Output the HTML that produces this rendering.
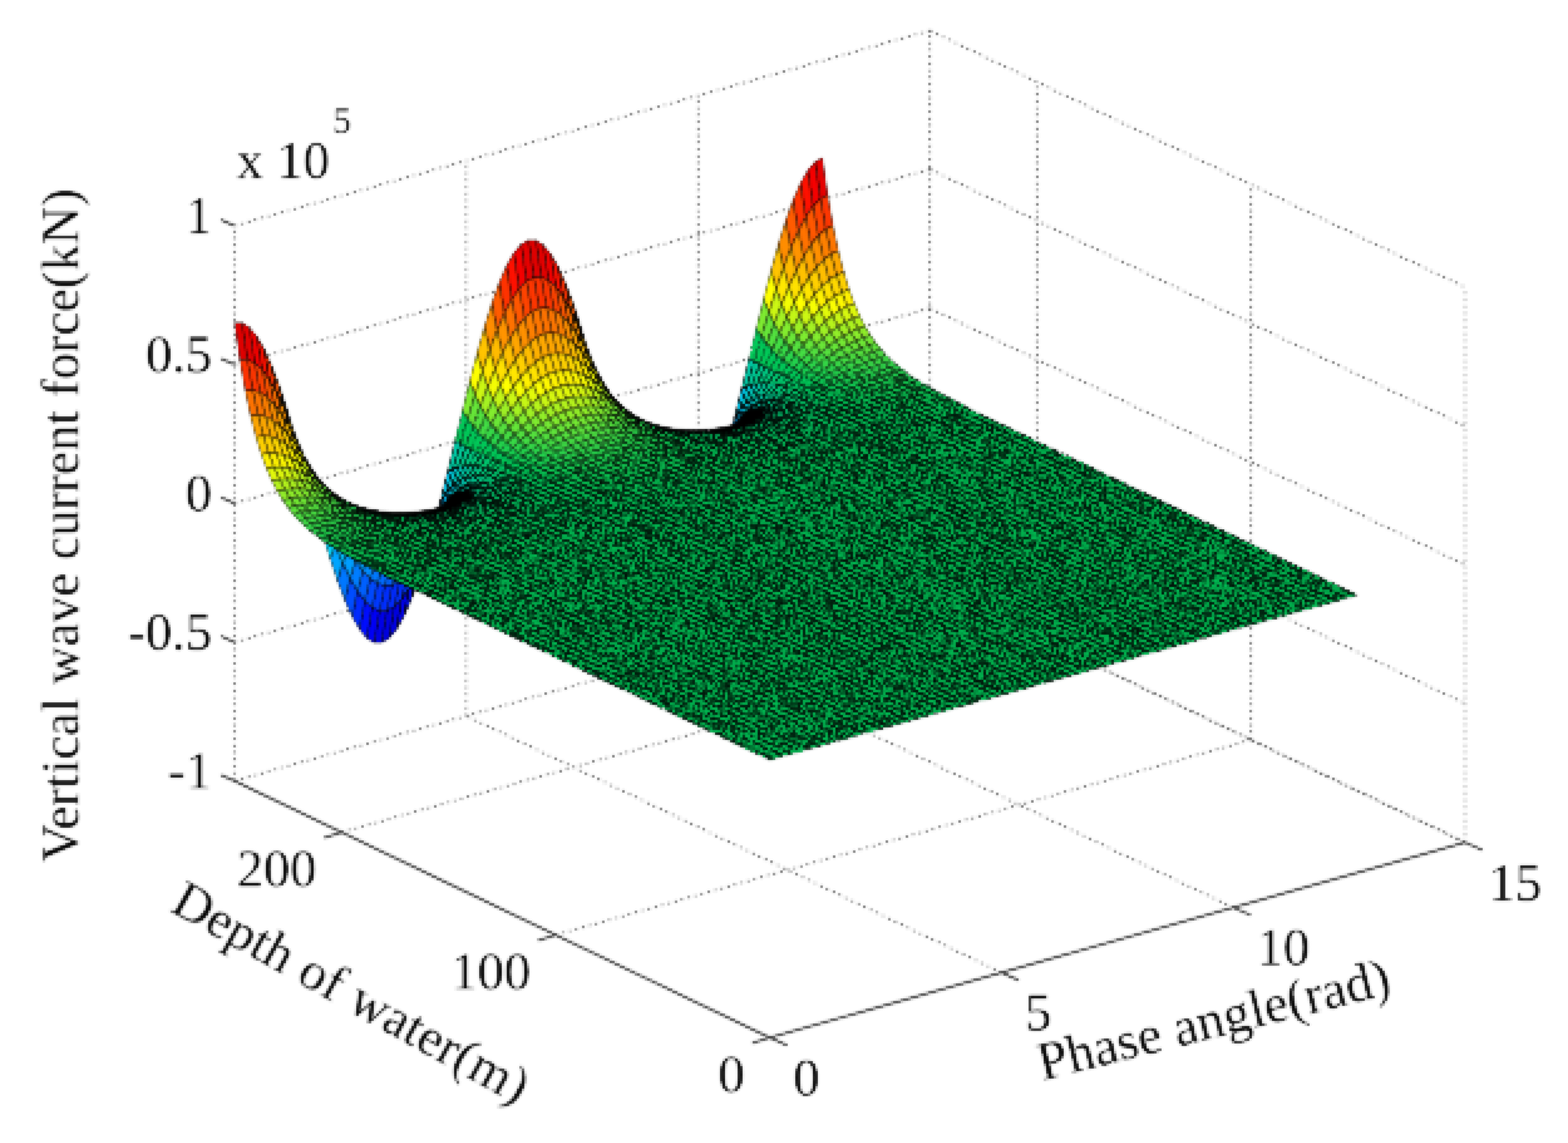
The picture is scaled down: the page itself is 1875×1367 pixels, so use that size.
<!DOCTYPE html>
<html lang="en"><head><meta charset="utf-8"><title>Vertical wave current force surface</title>
<style>html,body{margin:0;padding:0;background:#fff}body{width:1875px;height:1367px;overflow:hidden}svg{display:block}text{font-family:"Liberation Serif","DejaVu Serif",serif;fill:#000;stroke:#fff;stroke-width:0.4px}</style></head><body>
<svg width="1875" height="1367" viewBox="0 0 1875 1367">
<defs>
<filter id="px" filterUnits="userSpaceOnUse" x="0" y="0" width="1875" height="1367" color-interpolation-filters="sRGB"><feFlood x="1" y="1" width="1" height="1" flood-color="#000"/><feComposite width="3" height="3"/><feTile result="t"/><feComposite in="SourceGraphic" in2="t" operator="in"/><feMorphology operator="dilate" radius="1" result="p"/><feGaussianBlur in="p" stdDeviation="1" result="q"/><feComposite in="p" in2="q" operator="arithmetic" k1="0" k2="0.6" k3="0.4" k4="0"/></filter>
<filter id="bt" filterUnits="userSpaceOnUse" x="0" y="0" width="1875" height="1367" color-interpolation-filters="sRGB"><feGaussianBlur stdDeviation="0.9" result="b"/><feComposite in="SourceGraphic" in2="b" operator="arithmetic" k1="0" k2="0.45" k3="0.55" k4="0"/></filter>
<filter id="bs" filterUnits="userSpaceOnUse" x="270" y="178" width="1364" height="741" color-interpolation-filters="sRGB"><feGaussianBlur stdDeviation="1" result="b"/><feComposite in="SourceGraphic" in2="b" operator="arithmetic" k1="0" k2="0.62" k3="0.38" k4="0"/></filter>
<filter id="jit" filterUnits="userSpaceOnUse" x="270" y="178" width="1364" height="741" color-interpolation-filters="sRGB"><feGaussianBlur in="SourceGraphic" stdDeviation="5"/><feColorMatrix type="matrix" values="-4 1.8 -4 0 1  -4 1.8 -4 0 1  -4 1.8 -4 0 1  0 0 0 0 1" result="m"/><feTurbulence type="fractalNoise" baseFrequency="0.7" numOctaves="1" seed="7"/><feColorMatrix type="matrix" values="0.963 0.216 0 0 -0.089  -0.27 0.77 0 0 0.25  0 0 1 0 0  0 0 0 0 1" result="n"/><feComposite in="n" in2="m" operator="arithmetic" k1="1" k2="0" k3="-0.5" k4="0.5" result="d"/><feDisplacementMap in="SourceGraphic" in2="d" scale="9.0" xChannelSelector="R" yChannelSelector="G"/></filter>
<clipPath id="sil"><path d="M316.4 416.9L307.5 401.6L298.6 390.9L289.5 385.3L280.5 385L279.8 385.3L279.7 386L286.1 430.8L292.5 467.6L298.9 497.8L305.3 522.9L311.7 543.7L318.1 561.1L324.5 575.7L331 588.1L337.4 598.7L343.8 607.9L350.3 615.9L356.7 622.9L363.1 629.2L376 640.1L387.9 648.6L393.9 668.3L402.7 694.8L411.5 718.2L420.3 737.8L429.1 753.1L438.1 763.8L447.2 769.4L456.2 769.6L465.6 764.3L474.5 753.8L483.3 738.3L492.1 718L496.3 706.4L920.3 909.8L1623.6 712.5L1624.2 711.9L1623.7 711L1163.4 490.1L1162.9 489.4L1124.6 469.6L1105.4 458.6L1086.2 446.2L1073.5 436.3L1060.8 424.5L1054.4 417.5L1048 409.6L1041.7 400.5L1035.3 390L1028.9 377.7L1022.5 363.1L1016.1 345.8L1009.8 325.1L1003.4 300.2L997 269.9L990.6 233.2L984.2 188.4L983.5 187.7L974 193.1L965.1 203.7L956.2 219.2L947.4 239.4L938.6 263.9L929.8 292.2L921 323.6L912.3 357.4L875.3 508L860.3 511.3L842.8 513.3L834.1 513.7L819 513.6L801.5 511.4L795.1 510.3L780 506.1L771.3 502.5L765 499.4L756.3 494.4L743.6 484.3L735.3 476L728.5 467.1L722.1 457.3L715.8 445.9L709.4 432.5L702 413.4L694.2 387.7L685.4 361.2L676.6 337.9L667.8 318.2L659 302.9L650.1 292.3L640.8 286.6L631.7 286.4L622.5 291.8L613.6 302.3L604.8 317.8L596 338.1L587.2 362.6L578.4 390.9L569.6 422.3L560.8 456.1L523.8 606.7L508.9 610L491.4 612L482.7 612.4L467.6 612.2L450.1 610.1L443.7 608.9L428.6 604.7L419.9 601.1L413.5 598.1L404.8 593.1L392.1 583L383.9 574.7L377.1 565.7L370.7 556L364.3 544.5L358 531.1L350.6 512.1L342.8 486.4L334 459.9L325.2 436.5z"/></clipPath>
</defs>
<rect width="1875" height="1367" fill="#fff"/>
<g filter="url(#px)">
<rect width="1875" height="1367" fill="#fff"/>
<g filter="url(#bt)"><path d="M280.5 934L1112 700.6M280.5 768L1112 534.6M280.5 602L1112 368.6M280.5 436L1112 202.6M280.5 270L1112 36.6M280.5 934L280.5 270M557.7 856.2L557.7 192.2M834.8 778.4L834.8 114.4M1112 700.6L1112 36.6M1112 700.6L1752 1007.6M1112 534.6L1752 841.6M1112 368.6L1752 675.6M1112 202.6L1752 509.6M1112 36.6L1752 343.6M1752 1007.6L1752 343.6M1496 884.8L1496 220.8M1240 762L1240 98M1197.7 1163.2L557.7 856.2M1474.8 1085.4L834.8 778.4M1752 1007.6L1112 700.6M664.5 1118.2L1496 884.8M408.5 995.4L1240 762M280.5 934L1112 700.6" fill="none" stroke="#4c4c4c" stroke-width="2.2" stroke-dasharray="2.6 5.6"/></g>
<g filter="url(#bs)"><g clip-path="url(#sil)"><g filter="url(#jit)">
<g stroke="#000" stroke-linejoin="round">
<path fill="#e70000" stroke-width="2.5" stroke-opacity="0.42" d="M981 238l8.8 -4.6l-6.4 -44.8l-8.8 5.1z"/>
<path fill="#f60000" stroke-width="2.5" stroke-opacity="0.42" d="M972.2 246.8l8.8 -8.8l-6.4 -44.3l-8.8 10.4z"/>
<path fill="#ff1000" stroke-width="2.5" stroke-opacity="0.42" d="M963.4 259.8l8.8 -13l-6.4 -42.7l-8.8 15.4z"/>
<path fill="#ff3200" stroke-width="2.5" stroke-opacity="0.42" d="M954.6 276.5l8.8 -16.7l-6.4 -40.3l-8.8 20.2z"/>
<path fill="#ff5b00" stroke-width="2.5" stroke-opacity="0.42" d="M945.8 296.8l8.8 -20.3l-6.4 -36.8l-8.8 24.5z"/>
<path fill="#ff8d00" stroke-width="2.5" stroke-opacity="0.42" d="M937 320.1l8.8 -23.3l-6.4 -32.6l-8.8 28.3z"/>
<path fill="#ffc400" stroke-width="2.5" stroke-opacity="0.42" d="M928.3 345.9l8.7 -25.8l-6.4 -27.6l-8.7 31.3z"/>
<path fill="#feff00" stroke-width="2.5" stroke-opacity="0.42" d="M919.5 373.6l8.8 -27.7l-6.4 -22.1l-8.8 33.8z"/>
<path fill="#7eec30" stroke-width="2.5" stroke-opacity="0.42" d="M910.7 402.7l8.8 -29.1l-6.4 -16l-8.8 35.5z"/>
<path fill="#00cd5a" stroke-width="2.5" stroke-opacity="0.42" d="M901.9 432.4l8.8 -29.7l-6.4 -9.6l-8.8 36.3z"/>
<path fill="#00d2ad" stroke-width="2.08" stroke-opacity="0.71" d="M893.1 462.2l8.8 -29.8l-6.4 -3l-8.8 36.2z"/>
<path fill="#00d7ff" stroke-width="1.65" stroke-opacity="1" d="M884.3 491.3l8.8 -29.1l-6.4 3.4l-8.8 35.5z"/>
<path fill="#00a5ff" stroke-width="2.2" stroke-opacity="1" d="M875.5 519l8.8 -27.7l-6.4 9.8l-8.8 33.8z"/>
<path fill="#07f" stroke-width="2.2" stroke-opacity="1" d="M866.8 544.8l8.7 -25.8l-6.4 15.9l-8.7 31.4z"/>
<path fill="#004dff" stroke-width="2.2" stroke-opacity="1" d="M858 568.1l8.8 -23.3l-6.4 21.5l-8.8 28.2z"/>
<path fill="#002aff" stroke-width="1.65" stroke-opacity="1" d="M849.2 588.3l8.8 -20.2l-6.4 26.4l-8.8 24.5z"/>
<path fill="#000dff" stroke-width="1.86" stroke-opacity="0.85" d="M840.4 605.1l8.8 -16.8l-6.4 30.7l-8.8 20.2z"/>
<path fill="#0000f7" stroke-width="2.08" stroke-opacity="0.71" d="M831.6 618l8.8 -12.9l-6.4 34.1l-8.8 15.4z"/>
<path fill="#0000ea" stroke-width="2.29" stroke-opacity="0.56" d="M822.8 626.9l8.8 -8.9l-6.4 36.6l-8.8 10.4z"/>
<path fill="#0000e5" stroke-width="2.5" stroke-opacity="0.42" d="M814 631.5l8.8 -4.6l-6.4 38.1l-8.8 5.2z"/>
<path fill="#0000ea" stroke-width="2.5" stroke-opacity="0.42" d="M805.3 631.8l8.7 -.3l-6.4 38.7l-8.7 -.2z"/>
<path fill="#0000f7" stroke-width="2.5" stroke-opacity="0.42" d="M796.5 627.9l8.8 3.9l-6.4 38.2l-8.8 -5.5z"/>
<path fill="#000dff" stroke-width="2.5" stroke-opacity="0.42" d="M787.7 619.9l8.8 8l-6.4 36.6l-8.8 -10.5z"/>
<path fill="#002aff" stroke-width="2.5" stroke-opacity="0.42" d="M778.9 608.1l8.8 11.8l-6.4 34.1l-8.8 -15.3z"/>
<path fill="#004dff" stroke-width="2.5" stroke-opacity="0.42" d="M770.1 592.7l8.8 15.4l-6.4 30.6l-8.8 -19.5z"/>
<path fill="#07f" stroke-width="2.5" stroke-opacity="0.42" d="M761.3 574.4l8.8 18.3l-6.4 26.5l-8.8 -23.3z"/>
<path fill="#00a5ff" stroke-width="2.5" stroke-opacity="0.42" d="M752.5 553.5l8.8 20.9l-6.4 21.5l-8.8 -26.5z"/>
<path fill="#00d7ff" stroke-width="2.5" stroke-opacity="0.42" d="M743.8 530.7l8.7 22.8l-6.4 15.9l-8.7 -28.9z"/>
<path fill="#00d2ad" stroke-width="2.5" stroke-opacity="0.42" d="M735 506.6l8.8 24.1l-6.4 9.8l-8.8 -30.5z"/>
<path fill="#00cd5a" stroke-width="2.08" stroke-opacity="0.71" d="M726.2 481.8l8.8 24.8l-6.4 3.4l-8.8 -31.3z"/>
<path fill="#7eec30" stroke-width="1.65" stroke-opacity="1" d="M717.4 456.9l8.8 24.9l-6.4 -3.1l-8.8 -31.4z"/>
<path fill="#feff00" stroke-width="2.2" stroke-opacity="1" d="M708.6 432.8l8.8 24.1l-6.4 -9.6l-8.8 -30.5z"/>
<path fill="#ffc400" stroke-width="2.2" stroke-opacity="1" d="M699.8 410l8.8 22.8l-6.4 -16l-8.8 -28.8z"/>
<path fill="#ff8d00" stroke-width="2.2" stroke-opacity="1" d="M691 389.1l8.8 20.9l-6.4 -22l-8.8 -26.5z"/>
<path fill="#ff5b00" stroke-width="1.65" stroke-opacity="1" d="M682.3 370.8l8.7 18.3l-6.4 -27.6l-8.7 -23.3z"/>
<path fill="#ff3200" stroke-width="1.86" stroke-opacity="0.85" d="M673.5 355.5l8.8 15.3l-6.4 -32.6l-8.8 -19.6z"/>
<path fill="#ff1000" stroke-width="2.08" stroke-opacity="0.71" d="M664.7 343.6l8.8 11.9l-6.4 -36.9l-8.8 -15.2z"/>
<path fill="#f60000" stroke-width="2.5" stroke-opacity="0.42" d="M655.9 335.6l8.8 8l-6.4 -40.2l-8.8 -10.5z"/>
<path fill="#e70000" stroke-width="2.5" stroke-opacity="0.42" d="M647.1 331.7l8.8 3.9l-6.4 -42.7l-8.8 -5.5z"/>
<path fill="#e20000" stroke-width="2.5" stroke-opacity="0.42" d="M638.3 332l8.8 -.3l-6.4 -44.3l-8.8 -.2z"/>
<path fill="#e70000" stroke-width="2.5" stroke-opacity="0.42" d="M629.5 336.6l8.8 -4.6l-6.4 -44.8l-8.8 5.1z"/>
<path fill="#f60000" stroke-width="2.5" stroke-opacity="0.42" d="M620.8 345.5l8.7 -8.9l-6.4 -44.3l-8.7 10.4z"/>
<path fill="#ff1000" stroke-width="2.5" stroke-opacity="0.42" d="M612 358.4l8.8 -12.9l-6.4 -42.8l-8.8 15.5z"/>
<path fill="#ff3200" stroke-width="2.5" stroke-opacity="0.42" d="M603.2 375.2l8.8 -16.8l-6.4 -40.2l-8.8 20.2z"/>
<path fill="#ff5b00" stroke-width="2.5" stroke-opacity="0.42" d="M594.4 395.4l8.8 -20.2l-6.4 -36.8l-8.8 24.5z"/>
<path fill="#ff8d00" stroke-width="2.5" stroke-opacity="0.42" d="M585.6 418.7l8.8 -23.3l-6.4 -32.5l-8.8 28.2z"/>
<path fill="#ffc400" stroke-width="2.5" stroke-opacity="0.42" d="M576.8 444.5l8.8 -25.8l-6.4 -27.6l-8.8 31.4z"/>
<path fill="#feff00" stroke-width="2.5" stroke-opacity="0.42" d="M568 472.3l8.8 -27.8l-6.4 -22l-8.8 33.8z"/>
<path fill="#7eec30" stroke-width="2.5" stroke-opacity="0.42" d="M559.3 501.3l8.7 -29l-6.4 -16l-8.7 35.4z"/>
<path fill="#00cd5a" stroke-width="2.5" stroke-opacity="0.42" d="M550.5 531.1l8.8 -29.8l-6.4 -9.6l-8.8 36.3z"/>
<path fill="#00d2ad" stroke-width="2.08" stroke-opacity="0.71" d="M541.7 560.8l8.8 -29.7l-6.4 -3.1l-8.8 36.3z"/>
<path fill="#00d7ff" stroke-width="1.65" stroke-opacity="1" d="M532.9 589.9l8.8 -29.1l-6.4 3.5l-8.8 35.4z"/>
<path fill="#00a5ff" stroke-width="2.2" stroke-opacity="1" d="M524.1 617.7l8.8 -27.8l-6.4 9.8l-8.8 33.8z"/>
<path fill="#07f" stroke-width="2.2" stroke-opacity="1" d="M515.3 643.5l8.8 -25.8l-6.4 15.8l-8.8 31.4z"/>
<path fill="#004dff" stroke-width="2.2" stroke-opacity="1" d="M506.5 666.7l8.8 -23.2l-6.4 21.4l-8.8 28.3z"/>
<path fill="#002aff" stroke-width="1.65" stroke-opacity="1" d="M497.8 687l8.7 -20.3l-6.4 26.5l-8.7 24.5z"/>
<path fill="#000dff" stroke-width="1.86" stroke-opacity="0.85" d="M489 703.7l8.8 -16.7l-6.4 30.7l-8.8 20.2z"/>
<path fill="#0000f7" stroke-width="2.08" stroke-opacity="0.71" d="M480.2 716.7l8.8 -13l-6.4 34.2l-8.8 15.4z"/>
<path fill="#0000ea" stroke-width="2.29" stroke-opacity="0.56" d="M471.4 725.5l8.8 -8.8l-6.4 36.6l-8.8 10.4z"/>
<path fill="#0000e5" stroke-width="2.5" stroke-opacity="0.42" d="M462.6 730.2l8.8 -4.7l-6.4 38.2l-8.8 5.1z"/>
<path fill="#0000ea" stroke-width="2.5" stroke-opacity="0.42" d="M453.8 730.5l8.8 -.3l-6.4 38.6l-8.8 -.2z"/>
<path fill="#0000f7" stroke-width="2.5" stroke-opacity="0.42" d="M445 726.5l8.8 4l-6.4 38.1l-8.8 -5.4z"/>
<path fill="#000dff" stroke-width="2.5" stroke-opacity="0.42" d="M436.3 718.5l8.7 8l-6.4 36.7l-8.7 -10.6z"/>
<path fill="#002aff" stroke-width="2.5" stroke-opacity="0.42" d="M427.5 706.7l8.8 11.8l-6.4 34.1l-8.8 -15.2z"/>
<path fill="#004dff" stroke-width="2.5" stroke-opacity="0.42" d="M418.7 691.4l8.8 15.3l-6.4 30.7l-8.8 -19.6z"/>
<path fill="#07f" stroke-width="2.5" stroke-opacity="0.42" d="M409.9 673.1l8.8 18.3l-6.4 26.4l-8.8 -23.3z"/>
<path fill="#00a5ff" stroke-width="2.5" stroke-opacity="0.42" d="M401.1 652.2l8.8 20.9l-6.4 21.4l-8.8 -26.4z"/>
<path fill="#00d7ff" stroke-width="2.5" stroke-opacity="0.42" d="M392.3 629.4l8.8 22.8l-6.4 15.9l-8.8 -28.9z"/>
<path fill="#00d2ad" stroke-width="2.5" stroke-opacity="0.42" d="M383.5 605.2l8.8 24.2l-6.4 9.8l-8.8 -30.5z"/>
<path fill="#00cd5a" stroke-width="2.08" stroke-opacity="0.71" d="M374.8 580.4l8.7 24.8l-6.4 3.5l-8.7 -31.4z"/>
<path fill="#7eec30" stroke-width="1.65" stroke-opacity="1" d="M366 555.6l8.8 24.8l-6.4 -3.1l-8.8 -31.3z"/>
<path fill="#feff00" stroke-width="2.2" stroke-opacity="1" d="M357.2 531.4l8.8 24.2l-6.4 -9.6l-8.8 -30.5z"/>
<path fill="#ffc400" stroke-width="2.2" stroke-opacity="1" d="M348.4 508.6l8.8 22.8l-6.4 -15.9l-8.8 -28.9z"/>
<path fill="#ff8d00" stroke-width="2.2" stroke-opacity="1" d="M339.6 487.8l8.8 20.8l-6.4 -22l-8.8 -26.4z"/>
<path fill="#ff5b00" stroke-width="1.65" stroke-opacity="1" d="M330.8 469.4l8.8 18.4l-6.4 -27.6l-8.8 -23.4z"/>
<path fill="#ff3200" stroke-width="1.86" stroke-opacity="0.85" d="M322 454.1l8.8 15.3l-6.4 -32.6l-8.8 -19.5z"/>
<path fill="#ff1000" stroke-width="2.08" stroke-opacity="0.71" d="M313.3 442.3l8.7 11.8l-6.4 -36.8l-8.7 -15.3z"/>
<path fill="#f60000" stroke-width="2.5" stroke-opacity="0.42" d="M304.5 434.3l8.8 8l-6.4 -40.3l-8.8 -10.5z"/>
<path fill="#e70000" stroke-width="2.5" stroke-opacity="0.42" d="M295.7 430.3l8.8 4l-6.4 -42.8l-8.8 -5.4z"/>
<path fill="#e20000" stroke-width="2.5" stroke-opacity="0.42" d="M286.9 430.7l8.8 -.4l-6.4 -44.2l-8.8 -.2z"/>
<path fill="#ff3600" stroke-width="2.5" stroke-opacity="0.42" d="M987.4 274.3l8.8 -4.2l-6.4 -36.7l-8.8 4.6z"/>
<path fill="#ff4300" stroke-width="2.5" stroke-opacity="0.42" d="M978.6 281.9l8.8 -7.6l-6.4 -36.3l-8.8 8.8z"/>
<path fill="#ff5700" stroke-width="2.5" stroke-opacity="0.42" d="M969.8 292.8l8.8 -10.9l-6.4 -35.1l-8.8 13z"/>
<path fill="#ff7200" stroke-width="2.5" stroke-opacity="0.42" d="M961 306.8l8.8 -14l-6.4 -33l-8.8 16.7z"/>
<path fill="#ff9400" stroke-width="2.5" stroke-opacity="0.42" d="M952.2 323.7l8.8 -16.9l-6.4 -30.3l-8.8 20.3z"/>
<path fill="#fb0" stroke-width="2.5" stroke-opacity="0.42" d="M943.4 342.9l8.8 -19.2l-6.4 -26.9l-8.8 23.3z"/>
<path fill="#ffe800" stroke-width="2.5" stroke-opacity="0.42" d="M934.7 364.2l8.7 -21.3l-6.4 -22.8l-8.7 25.8z"/>
<path fill="#ccf713" stroke-width="2.5" stroke-opacity="0.42" d="M925.9 387.1l8.8 -22.9l-6.4 -18.3l-8.8 27.7z"/>
<path fill="#66e638" stroke-width="2.5" stroke-opacity="0.42" d="M917.1 411l8.8 -23.9l-6.4 -13.5l-8.8 29.1z"/>
<path fill="#00cd5a" stroke-width="2.5" stroke-opacity="0.42" d="M908.3 435.5l8.8 -24.5l-6.4 -8.3l-8.8 29.7z"/>
<path fill="#00d19d" stroke-width="2.08" stroke-opacity="0.71" d="M899.5 460l8.8 -24.5l-6.4 -3.1l-8.8 29.8z"/>
<path fill="#00d5df" stroke-width="1.65" stroke-opacity="1" d="M890.7 483.9l8.8 -23.9l-6.4 2.2l-8.8 29.1z"/>
<path fill="#00c3ff" stroke-width="1.65" stroke-opacity="1" d="M881.9 506.8l8.8 -22.9l-6.4 7.4l-8.8 27.7z"/>
<path fill="#009eff" stroke-width="2.2" stroke-opacity="1" d="M873.2 528.1l8.7 -21.3l-6.4 12.2l-8.7 25.8z"/>
<path fill="#007dff" stroke-width="2.2" stroke-opacity="1" d="M864.4 547.3l8.8 -19.2l-6.4 16.7l-8.8 23.3z"/>
<path fill="#0060ff" stroke-width="1.65" stroke-opacity="1" d="M855.6 564.2l8.8 -16.9l-6.4 20.8l-8.8 20.2z"/>
<path fill="#0049ff" stroke-width="1.86" stroke-opacity="0.85" d="M846.8 578.2l8.8 -14l-6.4 24.1l-8.8 16.8z"/>
<path fill="#0038ff" stroke-width="2.08" stroke-opacity="0.71" d="M838 589.1l8.8 -10.9l-6.4 26.9l-8.8 12.9z"/>
<path fill="#002eff" stroke-width="2.29" stroke-opacity="0.56" d="M829.2 596.7l8.8 -7.6l-6.4 28.9l-8.8 8.9z"/>
<path fill="#002bff" stroke-width="2.5" stroke-opacity="0.42" d="M820.4 600.9l8.8 -4.2l-6.4 30.2l-8.8 4.6z"/>
<path fill="#002eff" stroke-width="2.5" stroke-opacity="0.42" d="M811.7 601.6l8.7 -.7l-6.4 30.6l-8.7 .3z"/>
<path fill="#0038ff" stroke-width="2.5" stroke-opacity="0.42" d="M802.9 598.9l8.8 2.7l-6.4 30.2l-8.8 -3.9z"/>
<path fill="#0049ff" stroke-width="2.5" stroke-opacity="0.42" d="M794.1 593l8.8 5.9l-6.4 29l-8.8 -8z"/>
<path fill="#0060ff" stroke-width="2.5" stroke-opacity="0.42" d="M785.3 583.9l8.8 9.1l-6.4 26.9l-8.8 -11.8z"/>
<path fill="#007dff" stroke-width="2.5" stroke-opacity="0.42" d="M776.5 572l8.8 11.9l-6.4 24.2l-8.8 -15.4z"/>
<path fill="#009eff" stroke-width="2.5" stroke-opacity="0.42" d="M767.7 557.7l8.8 14.3l-6.4 20.7l-8.8 -18.3z"/>
<path fill="#00c3ff" stroke-width="2.5" stroke-opacity="0.42" d="M758.9 541.3l8.8 16.4l-6.4 16.7l-8.8 -20.9z"/>
<path fill="#00d5df" stroke-width="2.5" stroke-opacity="0.42" d="M750.2 523.4l8.7 17.9l-6.4 12.2l-8.7 -22.8z"/>
<path fill="#00d19d" stroke-width="2.29" stroke-opacity="0.56" d="M741.4 504.4l8.8 19l-6.4 7.3l-8.8 -24.1z"/>
<path fill="#00cd5a" stroke-width="1.86" stroke-opacity="0.85" d="M732.6 484.8l8.8 19.6l-6.4 2.2l-8.8 -24.8z"/>
<path fill="#66e638" stroke-width="1.65" stroke-opacity="1" d="M723.8 465.3l8.8 19.5l-6.4 -3l-8.8 -24.9z"/>
<path fill="#ccf713" stroke-width="2.2" stroke-opacity="1" d="M715 446.3l8.8 19l-6.4 -8.4l-8.8 -24.1z"/>
<path fill="#ffe800" stroke-width="2.2" stroke-opacity="1" d="M706.2 428.3l8.8 18l-6.4 -13.5l-8.8 -22.8z"/>
<path fill="#fb0" stroke-width="1.65" stroke-opacity="1" d="M697.4 412l8.8 16.3l-6.4 -18.3l-8.8 -20.9z"/>
<path fill="#ff9400" stroke-width="1.65" stroke-opacity="1" d="M688.7 397.6l8.7 14.4l-6.4 -22.9l-8.7 -18.3z"/>
<path fill="#ff7200" stroke-width="1.86" stroke-opacity="0.85" d="M679.9 385.8l8.8 11.8l-6.4 -26.8l-8.8 -15.3z"/>
<path fill="#ff5700" stroke-width="2.29" stroke-opacity="0.56" d="M671.1 376.7l8.8 9.1l-6.4 -30.3l-8.8 -11.9z"/>
<path fill="#ff4300" stroke-width="2.5" stroke-opacity="0.42" d="M662.3 370.7l8.8 6l-6.4 -33.1l-8.8 -8z"/>
<path fill="#ff3600" stroke-width="2.5" stroke-opacity="0.42" d="M653.5 368l8.8 2.7l-6.4 -35.1l-8.8 -3.9z"/>
<path fill="#ff3200" stroke-width="2.5" stroke-opacity="0.42" d="M644.7 368.8l8.8 -.8l-6.4 -36.3l-8.8 .3z"/>
<path fill="#ff3600" stroke-width="2.5" stroke-opacity="0.42" d="M635.9 373l8.8 -4.2l-6.4 -36.8l-8.8 4.6z"/>
<path fill="#ff4300" stroke-width="2.5" stroke-opacity="0.42" d="M627.2 380.6l8.7 -7.6l-6.4 -36.4l-8.7 8.9z"/>
<path fill="#ff5700" stroke-width="2.5" stroke-opacity="0.42" d="M618.4 391.5l8.8 -10.9l-6.4 -35.1l-8.8 12.9z"/>
<path fill="#ff7200" stroke-width="2.5" stroke-opacity="0.42" d="M609.6 405.5l8.8 -14l-6.4 -33.1l-8.8 16.8z"/>
<path fill="#ff9400" stroke-width="2.5" stroke-opacity="0.42" d="M600.8 422.3l8.8 -16.8l-6.4 -30.3l-8.8 20.2z"/>
<path fill="#fb0" stroke-width="2.5" stroke-opacity="0.42" d="M592 441.6l8.8 -19.3l-6.4 -26.9l-8.8 23.3z"/>
<path fill="#ffe800" stroke-width="2.5" stroke-opacity="0.42" d="M583.2 462.9l8.8 -21.3l-6.4 -22.9l-8.8 25.8z"/>
<path fill="#ccf713" stroke-width="2.5" stroke-opacity="0.42" d="M574.4 485.7l8.8 -22.8l-6.4 -18.4l-8.8 27.8z"/>
<path fill="#66e638" stroke-width="2.5" stroke-opacity="0.42" d="M565.7 509.7l8.7 -24l-6.4 -13.4l-8.7 29z"/>
<path fill="#00cd5a" stroke-width="2.5" stroke-opacity="0.42" d="M556.9 534.2l8.8 -24.5l-6.4 -8.4l-8.8 29.8z"/>
<path fill="#00d19d" stroke-width="2.08" stroke-opacity="0.71" d="M548.1 558.6l8.8 -24.4l-6.4 -3.1l-8.8 29.7z"/>
<path fill="#00d5df" stroke-width="1.65" stroke-opacity="1" d="M539.3 582.6l8.8 -24l-6.4 2.2l-8.8 29.1z"/>
<path fill="#00c3ff" stroke-width="1.65" stroke-opacity="1" d="M530.5 605.4l8.8 -22.8l-6.4 7.3l-8.8 27.8z"/>
<path fill="#009eff" stroke-width="2.2" stroke-opacity="1" d="M521.7 626.7l8.8 -21.3l-6.4 12.3l-8.8 25.8z"/>
<path fill="#007dff" stroke-width="2.2" stroke-opacity="1" d="M512.9 646l8.8 -19.3l-6.4 16.8l-8.8 23.2z"/>
<path fill="#0060ff" stroke-width="1.65" stroke-opacity="1" d="M504.2 662.8l8.7 -16.8l-6.4 20.7l-8.7 20.3z"/>
<path fill="#0049ff" stroke-width="1.86" stroke-opacity="0.85" d="M495.4 676.8l8.8 -14l-6.4 24.2l-8.8 16.7z"/>
<path fill="#0038ff" stroke-width="2.08" stroke-opacity="0.71" d="M486.6 687.7l8.8 -10.9l-6.4 26.9l-8.8 13z"/>
<path fill="#002eff" stroke-width="2.29" stroke-opacity="0.56" d="M477.8 695.4l8.8 -7.7l-6.4 29l-8.8 8.8z"/>
<path fill="#002bff" stroke-width="2.5" stroke-opacity="0.42" d="M469 699.6l8.8 -4.2l-6.4 30.1l-8.8 4.7z"/>
<path fill="#002eff" stroke-width="2.5" stroke-opacity="0.42" d="M460.2 700.3l8.8 -.7l-6.4 30.6l-8.8 .3z"/>
<path fill="#0038ff" stroke-width="2.5" stroke-opacity="0.42" d="M451.4 697.6l8.8 2.7l-6.4 30.2l-8.8 -4z"/>
<path fill="#0049ff" stroke-width="2.5" stroke-opacity="0.42" d="M442.7 691.6l8.7 6l-6.4 28.9l-8.7 -8z"/>
<path fill="#0060ff" stroke-width="2.5" stroke-opacity="0.42" d="M433.9 682.5l8.8 9.1l-6.4 26.9l-8.8 -11.8z"/>
<path fill="#007dff" stroke-width="2.5" stroke-opacity="0.42" d="M425.1 670.7l8.8 11.8l-6.4 24.2l-8.8 -15.3z"/>
<path fill="#009eff" stroke-width="2.5" stroke-opacity="0.42" d="M416.3 656.3l8.8 14.4l-6.4 20.7l-8.8 -18.3z"/>
<path fill="#00c3ff" stroke-width="2.5" stroke-opacity="0.42" d="M407.5 640l8.8 16.3l-6.4 16.8l-8.8 -20.9z"/>
<path fill="#00d5df" stroke-width="2.5" stroke-opacity="0.42" d="M398.7 622l8.8 18l-6.4 12.2l-8.8 -22.8z"/>
<path fill="#00d19d" stroke-width="2.29" stroke-opacity="0.56" d="M389.9 603l8.8 19l-6.4 7.4l-8.8 -24.2z"/>
<path fill="#00cd5a" stroke-width="1.86" stroke-opacity="0.85" d="M381.2 583.5l8.7 19.5l-6.4 2.2l-8.7 -24.8z"/>
<path fill="#66e638" stroke-width="1.65" stroke-opacity="1" d="M372.4 563.9l8.8 19.6l-6.4 -3.1l-8.8 -24.8z"/>
<path fill="#ccf713" stroke-width="2.2" stroke-opacity="1" d="M363.6 544.9l8.8 19l-6.4 -8.3l-8.8 -24.2z"/>
<path fill="#ffe800" stroke-width="2.2" stroke-opacity="1" d="M354.8 527l8.8 17.9l-6.4 -13.5l-8.8 -22.8z"/>
<path fill="#fb0" stroke-width="1.65" stroke-opacity="1" d="M346 510.6l8.8 16.4l-6.4 -18.4l-8.8 -20.8z"/>
<path fill="#ff9400" stroke-width="1.65" stroke-opacity="1" d="M337.2 496.3l8.8 14.3l-6.4 -22.8l-8.8 -18.4z"/>
<path fill="#ff7200" stroke-width="1.86" stroke-opacity="0.85" d="M328.4 484.4l8.8 11.9l-6.4 -26.9l-8.8 -15.3z"/>
<path fill="#ff5700" stroke-width="2.29" stroke-opacity="0.56" d="M319.7 475.3l8.7 9.1l-6.4 -30.3l-8.7 -11.8z"/>
<path fill="#ff4300" stroke-width="2.5" stroke-opacity="0.42" d="M310.9 469.4l8.8 5.9l-6.4 -33l-8.8 -8z"/>
<path fill="#ff3600" stroke-width="2.5" stroke-opacity="0.42" d="M302.1 466.7l8.8 2.7l-6.4 -35.1l-8.8 -4z"/>
<path fill="#ff3200" stroke-width="2.5" stroke-opacity="0.42" d="M293.3 467.4l8.8 -.7l-6.4 -36.4l-8.8 .4z"/>
<path fill="#ff7600" stroke-width="2.5" stroke-opacity="0.42" d="M993.8 304.2l8.8 -3.9l-6.4 -30.2l-8.8 4.2z"/>
<path fill="#ff8000" stroke-width="2.5" stroke-opacity="0.42" d="M985 310.8l8.8 -6.6l-6.4 -29.9l-8.8 7.6z"/>
<path fill="#ff9000" stroke-width="2.5" stroke-opacity="0.42" d="M976.2 320.1l8.8 -9.3l-6.4 -28.9l-8.8 10.9z"/>
<path fill="#ffa600" stroke-width="2.5" stroke-opacity="0.42" d="M967.4 331.9l8.8 -11.8l-6.4 -27.3l-8.8 14z"/>
<path fill="#ffc100" stroke-width="2.5" stroke-opacity="0.42" d="M958.6 345.9l8.8 -14l-6.4 -25.1l-8.8 16.9z"/>
<path fill="#ffe100" stroke-width="2.5" stroke-opacity="0.42" d="M949.8 362l8.8 -16.1l-6.4 -22.2l-8.8 19.2z"/>
<path fill="#f3fd04" stroke-width="2.5" stroke-opacity="0.42" d="M941.1 379.6l8.7 -17.6l-6.4 -19.1l-8.7 21.3z"/>
<path fill="#a4f222" stroke-width="2.5" stroke-opacity="0.42" d="M932.3 398.5l8.8 -18.9l-6.4 -15.4l-8.8 22.9z"/>
<path fill="#52e23f" stroke-width="2.5" stroke-opacity="0.42" d="M923.5 418.3l8.8 -19.8l-6.4 -11.4l-8.8 23.9z"/>
<path fill="#00cd5a" stroke-width="2.5" stroke-opacity="0.42" d="M914.7 438.6l8.8 -20.3l-6.4 -7.3l-8.8 24.5z"/>
<path fill="#00d090" stroke-width="2.08" stroke-opacity="0.71" d="M905.9 458.8l8.8 -20.2l-6.4 -3.1l-8.8 24.5z"/>
<path fill="#00d3c5" stroke-width="1.65" stroke-opacity="1" d="M897.1 478.6l8.8 -19.8l-6.4 1.2l-8.8 23.9z"/>
<path fill="#00d7f7" stroke-width="1.65" stroke-opacity="1" d="M888.3 497.5l8.8 -18.9l-6.4 5.3l-8.8 22.9z"/>
<path fill="#00beff" stroke-width="2.2" stroke-opacity="1" d="M879.6 515.2l8.7 -17.7l-6.4 9.3l-8.7 21.3z"/>
<path fill="#00a3ff" stroke-width="2.2" stroke-opacity="1" d="M870.8 531.2l8.8 -16l-6.4 12.9l-8.8 19.2z"/>
<path fill="#008cff" stroke-width="1.65" stroke-opacity="1" d="M862 545.2l8.8 -14l-6.4 16.1l-8.8 16.9z"/>
<path fill="#0079ff" stroke-width="1.65" stroke-opacity="1" d="M853.2 557l8.8 -11.8l-6.4 19l-8.8 14z"/>
<path fill="#006cff" stroke-width="2.08" stroke-opacity="0.71" d="M844.4 566.3l8.8 -9.3l-6.4 21.2l-8.8 10.9z"/>
<path fill="#0063ff" stroke-width="2.29" stroke-opacity="0.56" d="M835.6 572.9l8.8 -6.6l-6.4 22.8l-8.8 7.6z"/>
<path fill="#0061ff" stroke-width="2.5" stroke-opacity="0.42" d="M826.8 576.8l8.8 -3.9l-6.4 23.8l-8.8 4.2z"/>
<path fill="#0063ff" stroke-width="2.5" stroke-opacity="0.42" d="M818.1 577.9l8.7 -1.1l-6.4 24.1l-8.7 .7z"/>
<path fill="#006cff" stroke-width="2.5" stroke-opacity="0.42" d="M809.3 576.2l8.8 1.7l-6.4 23.7l-8.8 -2.7z"/>
<path fill="#0079ff" stroke-width="2.5" stroke-opacity="0.42" d="M800.5 571.8l8.8 4.4l-6.4 22.7l-8.8 -5.9z"/>
<path fill="#008cff" stroke-width="2.5" stroke-opacity="0.42" d="M791.7 565l8.8 6.8l-6.4 21.2l-8.8 -9.1z"/>
<path fill="#00a3ff" stroke-width="2.5" stroke-opacity="0.42" d="M782.9 555.9l8.8 9.1l-6.4 18.9l-8.8 -11.9z"/>
<path fill="#00beff" stroke-width="2.5" stroke-opacity="0.42" d="M774.1 544.8l8.8 11.1l-6.4 16.1l-8.8 -14.3z"/>
<path fill="#00d7f7" stroke-width="2.5" stroke-opacity="0.42" d="M765.3 532.1l8.8 12.7l-6.4 12.9l-8.8 -16.4z"/>
<path fill="#00d3c5" stroke-width="2.5" stroke-opacity="0.42" d="M756.6 518.1l8.7 14l-6.4 9.2l-8.7 -17.9z"/>
<path fill="#00d090" stroke-width="2.29" stroke-opacity="0.56" d="M747.8 503.2l8.8 14.9l-6.4 5.3l-8.8 -19z"/>
<path fill="#00cd5a" stroke-width="1.86" stroke-opacity="0.85" d="M739 487.9l8.8 15.3l-6.4 1.2l-8.8 -19.6z"/>
<path fill="#52e23f" stroke-width="1.65" stroke-opacity="1" d="M730.2 472.6l8.8 15.3l-6.4 -3.1l-8.8 -19.5z"/>
<path fill="#a4f222" stroke-width="2.2" stroke-opacity="1" d="M721.4 457.7l8.8 14.9l-6.4 -7.3l-8.8 -19z"/>
<path fill="#f3fd04" stroke-width="2.2" stroke-opacity="1" d="M712.6 443.7l8.8 14l-6.4 -11.4l-8.8 -18z"/>
<path fill="#ffe100" stroke-width="1.65" stroke-opacity="1" d="M703.8 431l8.8 12.7l-6.4 -15.4l-8.8 -16.3z"/>
<path fill="#ffc100" stroke-width="1.65" stroke-opacity="1" d="M695.1 419.9l8.7 11.1l-6.4 -19l-8.7 -14.4z"/>
<path fill="#ffa600" stroke-width="2.08" stroke-opacity="0.71" d="M686.3 410.8l8.8 9.1l-6.4 -22.3l-8.8 -11.8z"/>
<path fill="#ff9000" stroke-width="2.29" stroke-opacity="0.56" d="M677.5 404l8.8 6.8l-6.4 -25l-8.8 -9.1z"/>
<path fill="#ff8000" stroke-width="2.5" stroke-opacity="0.42" d="M668.7 399.6l8.8 4.4l-6.4 -27.3l-8.8 -6z"/>
<path fill="#ff7600" stroke-width="2.5" stroke-opacity="0.42" d="M659.9 397.9l8.8 1.7l-6.4 -28.9l-8.8 -2.7z"/>
<path fill="#ff7300" stroke-width="2.5" stroke-opacity="0.42" d="M651.1 399l8.8 -1.1l-6.4 -29.9l-8.8 .8z"/>
<path fill="#ff7600" stroke-width="2.5" stroke-opacity="0.42" d="M642.3 402.9l8.8 -3.9l-6.4 -30.2l-8.8 4.2z"/>
<path fill="#ff8000" stroke-width="2.5" stroke-opacity="0.42" d="M633.6 409.5l8.7 -6.6l-6.4 -29.9l-8.7 7.6z"/>
<path fill="#ff9000" stroke-width="2.5" stroke-opacity="0.42" d="M624.8 418.8l8.8 -9.3l-6.4 -28.9l-8.8 10.9z"/>
<path fill="#ffa600" stroke-width="2.5" stroke-opacity="0.42" d="M616 430.5l8.8 -11.7l-6.4 -27.3l-8.8 14z"/>
<path fill="#ffc100" stroke-width="2.5" stroke-opacity="0.42" d="M607.2 444.6l8.8 -14.1l-6.4 -25l-8.8 16.8z"/>
<path fill="#ffe100" stroke-width="2.5" stroke-opacity="0.42" d="M598.4 460.6l8.8 -16l-6.4 -22.3l-8.8 19.3z"/>
<path fill="#f3fd04" stroke-width="2.5" stroke-opacity="0.42" d="M589.6 478.3l8.8 -17.7l-6.4 -19l-8.8 21.3z"/>
<path fill="#a4f222" stroke-width="2.5" stroke-opacity="0.42" d="M580.8 497.2l8.8 -18.9l-6.4 -15.4l-8.8 22.8z"/>
<path fill="#52e23f" stroke-width="2.5" stroke-opacity="0.42" d="M572.1 517l8.7 -19.8l-6.4 -11.5l-8.7 24z"/>
<path fill="#00cd5a" stroke-width="2.5" stroke-opacity="0.42" d="M563.3 537.2l8.8 -20.2l-6.4 -7.3l-8.8 24.5z"/>
<path fill="#00d090" stroke-width="2.08" stroke-opacity="0.71" d="M554.5 557.5l8.8 -20.3l-6.4 -3l-8.8 24.4z"/>
<path fill="#00d3c5" stroke-width="1.65" stroke-opacity="1" d="M545.7 577.2l8.8 -19.7l-6.4 1.1l-8.8 24z"/>
<path fill="#00d7f7" stroke-width="1.65" stroke-opacity="1" d="M536.9 596.2l8.8 -19l-6.4 5.4l-8.8 22.8z"/>
<path fill="#00beff" stroke-width="2.2" stroke-opacity="1" d="M528.1 613.8l8.8 -17.6l-6.4 9.2l-8.8 21.3z"/>
<path fill="#00a3ff" stroke-width="2.2" stroke-opacity="1" d="M519.3 629.9l8.8 -16.1l-6.4 12.9l-8.8 19.3z"/>
<path fill="#008cff" stroke-width="1.65" stroke-opacity="1" d="M510.6 643.9l8.7 -14l-6.4 16.1l-8.7 16.8z"/>
<path fill="#0079ff" stroke-width="1.65" stroke-opacity="1" d="M501.8 655.7l8.8 -11.8l-6.4 18.9l-8.8 14z"/>
<path fill="#006cff" stroke-width="2.08" stroke-opacity="0.71" d="M493 665l8.8 -9.3l-6.4 21.1l-8.8 10.9z"/>
<path fill="#0063ff" stroke-width="2.29" stroke-opacity="0.56" d="M484.2 671.6l8.8 -6.6l-6.4 22.7l-8.8 7.7z"/>
<path fill="#0061ff" stroke-width="2.5" stroke-opacity="0.42" d="M475.4 675.5l8.8 -3.9l-6.4 23.8l-8.8 4.2z"/>
<path fill="#0063ff" stroke-width="2.5" stroke-opacity="0.42" d="M466.6 676.5l8.8 -1l-6.4 24.1l-8.8 .7z"/>
<path fill="#006cff" stroke-width="2.5" stroke-opacity="0.42" d="M457.8 674.8l8.8 1.7l-6.4 23.8l-8.8 -2.7z"/>
<path fill="#0079ff" stroke-width="2.5" stroke-opacity="0.42" d="M449.1 670.5l8.7 4.3l-6.4 22.8l-8.7 -6z"/>
<path fill="#008cff" stroke-width="2.5" stroke-opacity="0.42" d="M440.3 663.6l8.8 6.9l-6.4 21.1l-8.8 -9.1z"/>
<path fill="#00a3ff" stroke-width="2.5" stroke-opacity="0.42" d="M431.5 654.5l8.8 9.1l-6.4 18.9l-8.8 -11.8z"/>
<path fill="#00beff" stroke-width="2.5" stroke-opacity="0.42" d="M422.7 643.4l8.8 11.1l-6.4 16.2l-8.8 -14.4z"/>
<path fill="#00d7f7" stroke-width="2.5" stroke-opacity="0.42" d="M413.9 630.7l8.8 12.7l-6.4 12.9l-8.8 -16.3z"/>
<path fill="#00d3c5" stroke-width="2.5" stroke-opacity="0.42" d="M405.1 616.7l8.8 14l-6.4 9.3l-8.8 -18z"/>
<path fill="#00d090" stroke-width="2.29" stroke-opacity="0.56" d="M396.3 601.8l8.8 14.9l-6.4 5.3l-8.8 -19z"/>
<path fill="#00cd5a" stroke-width="1.86" stroke-opacity="0.85" d="M387.6 586.5l8.7 15.3l-6.4 1.2l-8.7 -19.5z"/>
<path fill="#52e23f" stroke-width="1.65" stroke-opacity="1" d="M378.8 571.2l8.8 15.3l-6.4 -3l-8.8 -19.6z"/>
<path fill="#a4f222" stroke-width="2.2" stroke-opacity="1" d="M370 556.4l8.8 14.8l-6.4 -7.3l-8.8 -19z"/>
<path fill="#f3fd04" stroke-width="2.2" stroke-opacity="1" d="M361.2 542.4l8.8 14l-6.4 -11.5l-8.8 -17.9z"/>
<path fill="#ffe100" stroke-width="1.65" stroke-opacity="1" d="M352.4 529.7l8.8 12.7l-6.4 -15.4l-8.8 -16.4z"/>
<path fill="#ffc100" stroke-width="1.65" stroke-opacity="1" d="M343.6 518.6l8.8 11.1l-6.4 -19.1l-8.8 -14.3z"/>
<path fill="#ffa600" stroke-width="2.08" stroke-opacity="0.71" d="M334.8 509.5l8.8 9.1l-6.4 -22.3l-8.8 -11.9z"/>
<path fill="#ff9000" stroke-width="2.29" stroke-opacity="0.56" d="M326.1 502.6l8.7 6.9l-6.4 -25.1l-8.7 -9.1z"/>
<path fill="#ff8000" stroke-width="2.5" stroke-opacity="0.42" d="M317.3 498.3l8.8 4.3l-6.4 -27.3l-8.8 -5.9z"/>
<path fill="#ff7600" stroke-width="2.5" stroke-opacity="0.42" d="M308.5 496.6l8.8 1.7l-6.4 -28.9l-8.8 -2.7z"/>
<path fill="#ff7300" stroke-width="2.5" stroke-opacity="0.42" d="M299.7 497.6l8.8 -1l-6.4 -29.9l-8.8 .7z"/>
<path fill="#ffa900" stroke-width="2.5" stroke-opacity="0.42" d="M1000.2 328.9l8.8 -3.6l-6.4 -25l-8.8 3.9z"/>
<path fill="#ffb100" stroke-width="2.5" stroke-opacity="0.42" d="M991.4 334.8l8.8 -5.9l-6.4 -24.7l-8.8 6.6z"/>
<path fill="#ffbe00" stroke-width="2.5" stroke-opacity="0.42" d="M982.6 342.7l8.8 -7.9l-6.4 -24l-8.8 9.3z"/>
<path fill="#ffd000" stroke-width="2.5" stroke-opacity="0.42" d="M973.8 352.7l8.8 -10l-6.4 -22.6l-8.8 11.8z"/>
<path fill="#ffe600" stroke-width="2.5" stroke-opacity="0.42" d="M965 364.5l8.8 -11.8l-6.4 -20.8l-8.8 14z"/>
<path fill="#feff00" stroke-width="2.5" stroke-opacity="0.42" d="M956.2 377.9l8.8 -13.4l-6.4 -18.6l-8.8 16.1z"/>
<path fill="#c3f616" stroke-width="2.5" stroke-opacity="0.42" d="M947.5 392.6l8.7 -14.7l-6.4 -15.9l-8.7 17.6z"/>
<path fill="#83ed2e" stroke-width="2.5" stroke-opacity="0.42" d="M938.7 408.4l8.8 -15.8l-6.4 -13l-8.8 18.9z"/>
<path fill="#42de44" stroke-width="2.5" stroke-opacity="0.42" d="M929.9 424.8l8.8 -16.4l-6.4 -9.9l-8.8 19.8z"/>
<path fill="#00cd5a" stroke-width="2.5" stroke-opacity="0.42" d="M921.1 441.6l8.8 -16.8l-6.4 -6.5l-8.8 20.3z"/>
<path fill="#00d086" stroke-width="2.08" stroke-opacity="0.71" d="M912.3 458.4l8.8 -16.8l-6.4 -3l-8.8 20.2z"/>
<path fill="#00d2b0" stroke-width="1.86" stroke-opacity="0.85" d="M903.5 474.9l8.8 -16.5l-6.4 .4l-8.8 19.8z"/>
<path fill="#00d5d9" stroke-width="1.65" stroke-opacity="1" d="M894.7 490.6l8.8 -15.7l-6.4 3.7l-8.8 18.9z"/>
<path fill="#00d7fe" stroke-width="2.2" stroke-opacity="1" d="M886 505.4l8.7 -14.8l-6.4 6.9l-8.7 17.7z"/>
<path fill="#00c2ff" stroke-width="2.2" stroke-opacity="1" d="M877.2 518.8l8.8 -13.4l-6.4 9.8l-8.8 16z"/>
<path fill="#00afff" stroke-width="2.2" stroke-opacity="1" d="M868.4 530.6l8.8 -11.8l-6.4 12.4l-8.8 14z"/>
<path fill="#00a0ff" stroke-width="1.65" stroke-opacity="1" d="M859.6 540.6l8.8 -10l-6.4 14.6l-8.8 11.8z"/>
<path fill="#0095ff" stroke-width="1.86" stroke-opacity="0.85" d="M850.8 548.5l8.8 -7.9l-6.4 16.4l-8.8 9.3z"/>
<path fill="#008eff" stroke-width="2.08" stroke-opacity="0.71" d="M842 554.4l8.8 -5.9l-6.4 17.8l-8.8 6.6z"/>
<path fill="#008cff" stroke-width="2.29" stroke-opacity="0.56" d="M833.2 557.9l8.8 -3.5l-6.4 18.5l-8.8 3.9z"/>
<path fill="#008eff" stroke-width="2.5" stroke-opacity="0.42" d="M824.5 559.3l8.7 -1.4l-6.4 18.9l-8.7 1.1z"/>
<path fill="#0095ff" stroke-width="2.5" stroke-opacity="0.42" d="M815.7 558.4l8.8 .9l-6.4 18.6l-8.8 -1.7z"/>
<path fill="#00a0ff" stroke-width="2.5" stroke-opacity="0.42" d="M806.9 555.4l8.8 3l-6.4 17.8l-8.8 -4.4z"/>
<path fill="#00afff" stroke-width="2.5" stroke-opacity="0.42" d="M798.1 550.3l8.8 5.1l-6.4 16.4l-8.8 -6.8z"/>
<path fill="#00c2ff" stroke-width="2.5" stroke-opacity="0.42" d="M789.3 543.4l8.8 6.9l-6.4 14.7l-8.8 -9.1z"/>
<path fill="#00d7fe" stroke-width="2.5" stroke-opacity="0.42" d="M780.5 535l8.8 8.4l-6.4 12.5l-8.8 -11.1z"/>
<path fill="#00d5d9" stroke-width="2.5" stroke-opacity="0.42" d="M771.7 525.2l8.8 9.8l-6.4 9.8l-8.8 -12.7z"/>
<path fill="#00d2b0" stroke-width="2.5" stroke-opacity="0.42" d="M763 514.4l8.7 10.8l-6.4 6.9l-8.7 -14z"/>
<path fill="#00d086" stroke-width="2.08" stroke-opacity="0.71" d="M754.2 502.8l8.8 11.6l-6.4 3.7l-8.8 -14.9z"/>
<path fill="#00cd5a" stroke-width="1.65" stroke-opacity="1" d="M745.4 491l8.8 11.8l-6.4 .4l-8.8 -15.3z"/>
<path fill="#42de44" stroke-width="2.2" stroke-opacity="1" d="M736.6 479.1l8.8 11.9l-6.4 -3.1l-8.8 -15.3z"/>
<path fill="#83ed2e" stroke-width="2.2" stroke-opacity="1" d="M727.8 467.6l8.8 11.5l-6.4 -6.5l-8.8 -14.9z"/>
<path fill="#c3f616" stroke-width="2.2" stroke-opacity="1" d="M719 456.8l8.8 10.8l-6.4 -9.9l-8.8 -14z"/>
<path fill="#feff00" stroke-width="1.65" stroke-opacity="1" d="M710.2 447l8.8 9.8l-6.4 -13.1l-8.8 -12.7z"/>
<path fill="#ffe600" stroke-width="1.86" stroke-opacity="0.85" d="M701.5 438.5l8.7 8.5l-6.4 -16l-8.7 -11.1z"/>
<path fill="#ffd000" stroke-width="2.08" stroke-opacity="0.71" d="M692.7 431.6l8.8 6.9l-6.4 -18.6l-8.8 -9.1z"/>
<path fill="#ffbe00" stroke-width="2.29" stroke-opacity="0.56" d="M683.9 426.6l8.8 5l-6.4 -20.8l-8.8 -6.8z"/>
<path fill="#ffb100" stroke-width="2.5" stroke-opacity="0.42" d="M675.1 423.5l8.8 3.1l-6.4 -22.6l-8.8 -4.4z"/>
<path fill="#ffa900" stroke-width="2.5" stroke-opacity="0.42" d="M666.3 422.6l8.8 .9l-6.4 -23.9l-8.8 -1.7z"/>
<path fill="#ffa600" stroke-width="2.5" stroke-opacity="0.42" d="M657.5 424l8.8 -1.4l-6.4 -24.7l-8.8 1.1z"/>
<path fill="#ffa900" stroke-width="2.5" stroke-opacity="0.42" d="M648.7 427.6l8.8 -3.6l-6.4 -25l-8.8 3.9z"/>
<path fill="#ffb100" stroke-width="2.5" stroke-opacity="0.42" d="M640 433.4l8.7 -5.8l-6.4 -24.7l-8.7 6.6z"/>
<path fill="#ffbe00" stroke-width="2.5" stroke-opacity="0.42" d="M631.2 441.4l8.8 -8l-6.4 -23.9l-8.8 9.3z"/>
<path fill="#ffd000" stroke-width="2.5" stroke-opacity="0.42" d="M622.4 451.4l8.8 -10l-6.4 -22.6l-8.8 11.7z"/>
<path fill="#ffe600" stroke-width="2.5" stroke-opacity="0.42" d="M613.6 463.2l8.8 -11.8l-6.4 -20.9l-8.8 14.1z"/>
<path fill="#feff00" stroke-width="2.5" stroke-opacity="0.42" d="M604.8 476.6l8.8 -13.4l-6.4 -18.6l-8.8 16z"/>
<path fill="#c3f616" stroke-width="2.5" stroke-opacity="0.42" d="M596 491.3l8.8 -14.7l-6.4 -16l-8.8 17.7z"/>
<path fill="#83ed2e" stroke-width="2.5" stroke-opacity="0.42" d="M587.2 507l8.8 -15.7l-6.4 -13l-8.8 18.9z"/>
<path fill="#42de44" stroke-width="2.5" stroke-opacity="0.42" d="M578.5 523.5l8.7 -16.5l-6.4 -9.8l-8.7 19.8z"/>
<path fill="#00cd5a" stroke-width="2.5" stroke-opacity="0.42" d="M569.7 540.3l8.8 -16.8l-6.4 -6.5l-8.8 20.2z"/>
<path fill="#00d086" stroke-width="2.08" stroke-opacity="0.71" d="M560.9 557.1l8.8 -16.8l-6.4 -3.1l-8.8 20.3z"/>
<path fill="#00d2b0" stroke-width="1.86" stroke-opacity="0.85" d="M552.1 573.5l8.8 -16.4l-6.4 .4l-8.8 19.7z"/>
<path fill="#00d5d9" stroke-width="1.65" stroke-opacity="1" d="M543.3 589.3l8.8 -15.8l-6.4 3.7l-8.8 19z"/>
<path fill="#00d7fe" stroke-width="2.2" stroke-opacity="1" d="M534.5 604l8.8 -14.7l-6.4 6.9l-8.8 17.6z"/>
<path fill="#00c2ff" stroke-width="2.2" stroke-opacity="1" d="M525.7 617.4l8.8 -13.4l-6.4 9.8l-8.8 16.1z"/>
<path fill="#00afff" stroke-width="2.2" stroke-opacity="1" d="M517 629.2l8.7 -11.8l-6.4 12.5l-8.7 14z"/>
<path fill="#00a0ff" stroke-width="1.65" stroke-opacity="1" d="M508.2 639.2l8.8 -10l-6.4 14.7l-8.8 11.8z"/>
<path fill="#0095ff" stroke-width="1.86" stroke-opacity="0.85" d="M499.4 647.2l8.8 -8l-6.4 16.5l-8.8 9.3z"/>
<path fill="#008eff" stroke-width="2.08" stroke-opacity="0.71" d="M490.6 653l8.8 -5.8l-6.4 17.8l-8.8 6.6z"/>
<path fill="#008cff" stroke-width="2.29" stroke-opacity="0.56" d="M481.8 656.6l8.8 -3.6l-6.4 18.6l-8.8 3.9z"/>
<path fill="#008eff" stroke-width="2.5" stroke-opacity="0.42" d="M473 657.9l8.8 -1.3l-6.4 18.9l-8.8 1z"/>
<path fill="#0095ff" stroke-width="2.5" stroke-opacity="0.42" d="M464.2 657l8.8 .9l-6.4 18.6l-8.8 -1.7z"/>
<path fill="#00a0ff" stroke-width="2.5" stroke-opacity="0.42" d="M455.5 654l8.7 3l-6.4 17.8l-8.7 -4.3z"/>
<path fill="#00afff" stroke-width="2.5" stroke-opacity="0.42" d="M446.7 649l8.8 5l-6.4 16.5l-8.8 -6.9z"/>
<path fill="#00c2ff" stroke-width="2.5" stroke-opacity="0.42" d="M437.9 642.1l8.8 6.9l-6.4 14.6l-8.8 -9.1z"/>
<path fill="#00d7fe" stroke-width="2.5" stroke-opacity="0.42" d="M429.1 633.6l8.8 8.5l-6.4 12.4l-8.8 -11.1z"/>
<path fill="#00d5d9" stroke-width="2.5" stroke-opacity="0.42" d="M420.3 623.8l8.8 9.8l-6.4 9.8l-8.8 -12.7z"/>
<path fill="#00d2b0" stroke-width="2.5" stroke-opacity="0.42" d="M411.5 613l8.8 10.8l-6.4 6.9l-8.8 -14z"/>
<path fill="#00d086" stroke-width="2.08" stroke-opacity="0.71" d="M402.7 601.5l8.8 11.5l-6.4 3.7l-8.8 -14.9z"/>
<path fill="#00cd5a" stroke-width="1.65" stroke-opacity="1" d="M394 589.6l8.7 11.9l-6.4 .3l-8.7 -15.3z"/>
<path fill="#42de44" stroke-width="2.2" stroke-opacity="1" d="M385.2 577.7l8.8 11.9l-6.4 -3.1l-8.8 -15.3z"/>
<path fill="#83ed2e" stroke-width="2.2" stroke-opacity="1" d="M376.4 566.2l8.8 11.5l-6.4 -6.5l-8.8 -14.8z"/>
<path fill="#c3f616" stroke-width="2.2" stroke-opacity="1" d="M367.6 555.4l8.8 10.8l-6.4 -9.8l-8.8 -14z"/>
<path fill="#feff00" stroke-width="1.65" stroke-opacity="1" d="M358.8 545.6l8.8 9.8l-6.4 -13l-8.8 -12.7z"/>
<path fill="#ffe600" stroke-width="1.86" stroke-opacity="0.85" d="M350 537.1l8.8 8.5l-6.4 -15.9l-8.8 -11.1z"/>
<path fill="#ffd000" stroke-width="2.08" stroke-opacity="0.71" d="M341.2 530.3l8.8 6.8l-6.4 -18.5l-8.8 -9.1z"/>
<path fill="#ffbe00" stroke-width="2.29" stroke-opacity="0.56" d="M332.5 525.2l8.7 5.1l-6.4 -20.8l-8.7 -6.9z"/>
<path fill="#ffb100" stroke-width="2.5" stroke-opacity="0.42" d="M323.7 522.2l8.8 3l-6.4 -22.6l-8.8 -4.3z"/>
<path fill="#ffa900" stroke-width="2.5" stroke-opacity="0.42" d="M314.9 521.3l8.8 .9l-6.4 -23.9l-8.8 -1.7z"/>
<path fill="#ffa600" stroke-width="2.5" stroke-opacity="0.42" d="M306.1 522.6l8.8 -1.3l-6.4 -24.7l-8.8 1z"/>
<path fill="#ffd200" stroke-width="2.5" stroke-opacity="0.42" d="M1006.6 349.5l8.8 -3.4l-6.4 -20.8l-8.8 3.6z"/>
<path fill="#ffd900" stroke-width="2.5" stroke-opacity="0.42" d="M997.8 354.7l8.8 -5.2l-6.4 -20.6l-8.8 5.9z"/>
<path fill="#ffe300" stroke-width="2.5" stroke-opacity="0.42" d="M989 361.6l8.8 -6.9l-6.4 -19.9l-8.8 7.9z"/>
<path fill="#fff100" stroke-width="2.5" stroke-opacity="0.42" d="M980.2 370.1l8.8 -8.5l-6.4 -18.9l-8.8 10z"/>
<path fill="#f7fe03" stroke-width="2.5" stroke-opacity="0.42" d="M971.4 380.1l8.8 -10l-6.4 -17.4l-8.8 11.8z"/>
<path fill="#ccf713" stroke-width="2.5" stroke-opacity="0.42" d="M962.6 391.4l8.8 -11.3l-6.4 -15.6l-8.8 13.4z"/>
<path fill="#9df024" stroke-width="2.5" stroke-opacity="0.42" d="M953.9 403.7l8.7 -12.3l-6.4 -13.5l-8.7 14.7z"/>
<path fill="#6ae737" stroke-width="2.5" stroke-opacity="0.42" d="M945.1 416.9l8.8 -13.2l-6.4 -11.1l-8.8 15.8z"/>
<path fill="#36da48" stroke-width="2.5" stroke-opacity="0.42" d="M936.3 430.7l8.8 -13.8l-6.4 -8.5l-8.8 16.4z"/>
<path fill="#00cd5a" stroke-width="2.5" stroke-opacity="0.42" d="M927.5 444.7l8.8 -14l-6.4 -5.9l-8.8 16.8z"/>
<path fill="#00cf7d" stroke-width="2.08" stroke-opacity="0.71" d="M918.7 458.7l8.8 -14l-6.4 -3.1l-8.8 16.8z"/>
<path fill="#00d1a0" stroke-width="1.86" stroke-opacity="0.85" d="M909.9 472.5l8.8 -13.8l-6.4 -.3l-8.8 16.5z"/>
<path fill="#00d3c1" stroke-width="1.65" stroke-opacity="1" d="M901.1 485.7l8.8 -13.2l-6.4 2.4l-8.8 15.7z"/>
<path fill="#00d5df" stroke-width="2.2" stroke-opacity="1" d="M892.4 498l8.7 -12.3l-6.4 4.9l-8.7 14.8z"/>
<path fill="#00d7fa" stroke-width="2.2" stroke-opacity="1" d="M883.6 509.3l8.8 -11.3l-6.4 7.4l-8.8 13.4z"/>
<path fill="#00cbff" stroke-width="2.2" stroke-opacity="1" d="M874.8 519.3l8.8 -10l-6.4 9.5l-8.8 11.8z"/>
<path fill="#00bfff" stroke-width="1.65" stroke-opacity="1" d="M866 527.9l8.8 -8.6l-6.4 11.3l-8.8 10z"/>
<path fill="#00b7ff" stroke-width="1.86" stroke-opacity="0.85" d="M857.2 534.8l8.8 -6.9l-6.4 12.7l-8.8 7.9z"/>
<path fill="#00b1ff" stroke-width="2.08" stroke-opacity="0.71" d="M848.4 539.9l8.8 -5.1l-6.4 13.7l-8.8 5.9z"/>
<path fill="#00afff" stroke-width="2.29" stroke-opacity="0.56" d="M839.6 543.3l8.8 -3.4l-6.4 14.5l-8.8 3.5z"/>
<path fill="#00b1ff" stroke-width="2.5" stroke-opacity="0.42" d="M830.9 544.9l8.7 -1.6l-6.4 14.6l-8.7 1.4z"/>
<path fill="#00b7ff" stroke-width="2.5" stroke-opacity="0.42" d="M822.1 544.6l8.8 .3l-6.4 14.4l-8.8 -.9z"/>
<path fill="#00bfff" stroke-width="2.5" stroke-opacity="0.42" d="M813.3 542.7l8.8 1.9l-6.4 13.8l-8.8 -3z"/>
<path fill="#00cbff" stroke-width="2.5" stroke-opacity="0.42" d="M804.5 539.1l8.8 3.6l-6.4 12.7l-8.8 -5.1z"/>
<path fill="#00d7fa" stroke-width="2.5" stroke-opacity="0.42" d="M795.7 534l8.8 5.1l-6.4 11.2l-8.8 -6.9z"/>
<path fill="#00d5df" stroke-width="2.5" stroke-opacity="0.42" d="M786.9 527.6l8.8 6.4l-6.4 9.4l-8.8 -8.4z"/>
<path fill="#00d3c1" stroke-width="2.5" stroke-opacity="0.42" d="M778.1 520.2l8.8 7.4l-6.4 7.4l-8.8 -9.8z"/>
<path fill="#00d1a0" stroke-width="2.29" stroke-opacity="0.56" d="M769.4 512l8.7 8.2l-6.4 5l-8.7 -10.8z"/>
<path fill="#00cf7d" stroke-width="1.86" stroke-opacity="0.85" d="M760.6 503.1l8.8 8.9l-6.4 2.4l-8.8 -11.6z"/>
<path fill="#00cd5a" stroke-width="1.65" stroke-opacity="1" d="M751.8 494l8.8 9.1l-6.4 -.3l-8.8 -11.8z"/>
<path fill="#36da48" stroke-width="2.2" stroke-opacity="1" d="M743 484.9l8.8 9.1l-6.4 -3l-8.8 -11.9z"/>
<path fill="#6ae737" stroke-width="2.2" stroke-opacity="1" d="M734.2 476.1l8.8 8.8l-6.4 -5.8l-8.8 -11.5z"/>
<path fill="#9df024" stroke-width="2.2" stroke-opacity="1" d="M725.4 467.9l8.8 8.2l-6.4 -8.5l-8.8 -10.8z"/>
<path fill="#ccf713" stroke-width="1.65" stroke-opacity="1" d="M716.6 460.4l8.8 7.5l-6.4 -11.1l-8.8 -9.8z"/>
<path fill="#f7fe03" stroke-width="1.86" stroke-opacity="0.85" d="M707.9 454.1l8.7 6.3l-6.4 -13.4l-8.7 -8.5z"/>
<path fill="#fff100" stroke-width="2.08" stroke-opacity="0.71" d="M699.1 449l8.8 5.1l-6.4 -15.6l-8.8 -6.9z"/>
<path fill="#ffe300" stroke-width="2.29" stroke-opacity="0.56" d="M690.3 445.4l8.8 3.6l-6.4 -17.4l-8.8 -5z"/>
<path fill="#ffd900" stroke-width="2.5" stroke-opacity="0.42" d="M681.5 443.4l8.8 2l-6.4 -18.8l-8.8 -3.1z"/>
<path fill="#ffd200" stroke-width="2.5" stroke-opacity="0.42" d="M672.7 443.2l8.8 .2l-6.4 -19.9l-8.8 -.9z"/>
<path fill="#ffd000" stroke-width="2.5" stroke-opacity="0.42" d="M663.9 444.7l8.8 -1.5l-6.4 -20.6l-8.8 1.4z"/>
<path fill="#ffd200" stroke-width="2.5" stroke-opacity="0.42" d="M655.1 448.1l8.8 -3.4l-6.4 -20.7l-8.8 3.6z"/>
<path fill="#ffd900" stroke-width="2.5" stroke-opacity="0.42" d="M646.4 453.3l8.7 -5.2l-6.4 -20.5l-8.7 5.8z"/>
<path fill="#ffe300" stroke-width="2.5" stroke-opacity="0.42" d="M637.6 460.2l8.8 -6.9l-6.4 -19.9l-8.8 8z"/>
<path fill="#fff100" stroke-width="2.5" stroke-opacity="0.42" d="M628.8 468.7l8.8 -8.5l-6.4 -18.8l-8.8 10z"/>
<path fill="#f7fe03" stroke-width="2.5" stroke-opacity="0.42" d="M620 478.7l8.8 -10l-6.4 -17.3l-8.8 11.8z"/>
<path fill="#ccf713" stroke-width="2.5" stroke-opacity="0.42" d="M611.2 490l8.8 -11.3l-6.4 -15.5l-8.8 13.4z"/>
<path fill="#9df024" stroke-width="2.5" stroke-opacity="0.42" d="M602.4 502.4l8.8 -12.4l-6.4 -13.4l-8.8 14.7z"/>
<path fill="#6ae737" stroke-width="2.5" stroke-opacity="0.42" d="M593.6 515.6l8.8 -13.2l-6.4 -11.1l-8.8 15.7z"/>
<path fill="#36da48" stroke-width="2.5" stroke-opacity="0.42" d="M584.9 529.3l8.7 -13.7l-6.4 -8.6l-8.7 16.5z"/>
<path fill="#00cd5a" stroke-width="2.5" stroke-opacity="0.42" d="M576.1 543.4l8.8 -14.1l-6.4 -5.8l-8.8 16.8z"/>
<path fill="#00cf7d" stroke-width="2.08" stroke-opacity="0.71" d="M567.3 557.4l8.8 -14l-6.4 -3.1l-8.8 16.8z"/>
<path fill="#00d1a0" stroke-width="1.86" stroke-opacity="0.85" d="M558.5 571.1l8.8 -13.7l-6.4 -.3l-8.8 16.4z"/>
<path fill="#00d3c1" stroke-width="1.65" stroke-opacity="1" d="M549.7 584.3l8.8 -13.2l-6.4 2.4l-8.8 15.8z"/>
<path fill="#00d5df" stroke-width="2.2" stroke-opacity="1" d="M540.9 596.7l8.8 -12.4l-6.4 5l-8.8 14.7z"/>
<path fill="#00d7fa" stroke-width="2.2" stroke-opacity="1" d="M532.1 608l8.8 -11.3l-6.4 7.3l-8.8 13.4z"/>
<path fill="#00cbff" stroke-width="2.2" stroke-opacity="1" d="M523.4 618l8.7 -10l-6.4 9.4l-8.7 11.8z"/>
<path fill="#00bfff" stroke-width="1.65" stroke-opacity="1" d="M514.6 626.5l8.8 -8.5l-6.4 11.2l-8.8 10z"/>
<path fill="#00b7ff" stroke-width="1.86" stroke-opacity="0.85" d="M505.8 633.4l8.8 -6.9l-6.4 12.7l-8.8 8z"/>
<path fill="#00b1ff" stroke-width="2.08" stroke-opacity="0.71" d="M497 638.6l8.8 -5.2l-6.4 13.8l-8.8 5.8z"/>
<path fill="#00afff" stroke-width="2.29" stroke-opacity="0.56" d="M488.2 642l8.8 -3.4l-6.4 14.4l-8.8 3.6z"/>
<path fill="#00b1ff" stroke-width="2.5" stroke-opacity="0.42" d="M479.4 643.5l8.8 -1.5l-6.4 14.6l-8.8 1.3z"/>
<path fill="#00b7ff" stroke-width="2.5" stroke-opacity="0.42" d="M470.6 643.3l8.8 .2l-6.4 14.4l-8.8 -.9z"/>
<path fill="#00bfff" stroke-width="2.5" stroke-opacity="0.42" d="M461.9 641.3l8.7 2l-6.4 13.7l-8.7 -3z"/>
<path fill="#00cbff" stroke-width="2.5" stroke-opacity="0.42" d="M453.1 637.7l8.8 3.6l-6.4 12.7l-8.8 -5z"/>
<path fill="#00d7fa" stroke-width="2.5" stroke-opacity="0.42" d="M444.3 632.6l8.8 5.1l-6.4 11.3l-8.8 -6.9z"/>
<path fill="#00d5df" stroke-width="2.5" stroke-opacity="0.42" d="M435.5 626.3l8.8 6.3l-6.4 9.5l-8.8 -8.5z"/>
<path fill="#00d3c1" stroke-width="2.5" stroke-opacity="0.42" d="M426.7 618.9l8.8 7.4l-6.4 7.3l-8.8 -9.8z"/>
<path fill="#00d1a0" stroke-width="2.29" stroke-opacity="0.56" d="M417.9 610.6l8.8 8.3l-6.4 4.9l-8.8 -10.8z"/>
<path fill="#00cf7d" stroke-width="1.86" stroke-opacity="0.85" d="M409.1 601.8l8.8 8.8l-6.4 2.4l-8.8 -11.5z"/>
<path fill="#00cd5a" stroke-width="1.65" stroke-opacity="1" d="M400.4 592.7l8.7 9.1l-6.4 -.3l-8.7 -11.9z"/>
<path fill="#36da48" stroke-width="2.2" stroke-opacity="1" d="M391.6 583.6l8.8 9.1l-6.4 -3.1l-8.8 -11.9z"/>
<path fill="#6ae737" stroke-width="2.2" stroke-opacity="1" d="M382.8 574.8l8.8 8.8l-6.4 -5.9l-8.8 -11.5z"/>
<path fill="#9df024" stroke-width="2.2" stroke-opacity="1" d="M374 566.5l8.8 8.3l-6.4 -8.6l-8.8 -10.8z"/>
<path fill="#ccf713" stroke-width="1.65" stroke-opacity="1" d="M365.2 559.1l8.8 7.4l-6.4 -11.1l-8.8 -9.8z"/>
<path fill="#f7fe03" stroke-width="1.86" stroke-opacity="0.85" d="M356.4 552.7l8.8 6.4l-6.4 -13.5l-8.8 -8.5z"/>
<path fill="#fff100" stroke-width="2.08" stroke-opacity="0.71" d="M347.6 547.7l8.8 5l-6.4 -15.6l-8.8 -6.8z"/>
<path fill="#ffe300" stroke-width="2.29" stroke-opacity="0.56" d="M338.9 544.1l8.7 3.6l-6.4 -17.4l-8.7 -5.1z"/>
<path fill="#ffd900" stroke-width="2.5" stroke-opacity="0.42" d="M330.1 542.1l8.8 2l-6.4 -18.9l-8.8 -3z"/>
<path fill="#ffd200" stroke-width="2.5" stroke-opacity="0.42" d="M321.3 541.8l8.8 .3l-6.4 -19.9l-8.8 -.9z"/>
<path fill="#ffd000" stroke-width="2.5" stroke-opacity="0.42" d="M312.5 543.4l8.8 -1.6l-6.4 -20.5l-8.8 1.3z"/>
<path fill="#fff300" stroke-width="2.5" stroke-opacity="0.42" d="M1013 366.6l8.8 -3.2l-6.4 -17.3l-8.8 3.4z"/>
<path fill="#fff900" stroke-width="2.5" stroke-opacity="0.42" d="M1004.2 371.3l8.8 -4.7l-6.4 -17.1l-8.8 5.2z"/>
<path fill="#fbfe02" stroke-width="2.5" stroke-opacity="0.42" d="M995.4 377.3l8.8 -6l-6.4 -16.6l-8.8 6.9z"/>
<path fill="#e3fb0a" stroke-width="2.5" stroke-opacity="0.42" d="M986.6 384.7l8.8 -7.4l-6.4 -15.7l-8.8 8.5z"/>
<path fill="#c6f715" stroke-width="2.5" stroke-opacity="0.42" d="M977.8 393.3l8.8 -8.6l-6.4 -14.6l-8.8 10z"/>
<path fill="#a4f222" stroke-width="2.5" stroke-opacity="0.42" d="M969 402.8l8.8 -9.5l-6.4 -13.2l-8.8 11.3z"/>
<path fill="#7eec30" stroke-width="2.5" stroke-opacity="0.42" d="M960.3 413.3l8.7 -10.5l-6.4 -11.4l-8.7 12.3z"/>
<path fill="#55e23e" stroke-width="2.5" stroke-opacity="0.42" d="M951.5 424.4l8.8 -11.1l-6.4 -9.6l-8.8 13.2z"/>
<path fill="#2bd84c" stroke-width="2.5" stroke-opacity="0.42" d="M942.7 436l8.8 -11.6l-6.4 -7.5l-8.8 13.8z"/>
<path fill="#00cd5a" stroke-width="2.5" stroke-opacity="0.42" d="M933.9 447.8l8.8 -11.8l-6.4 -5.3l-8.8 14z"/>
<path fill="#00cf77" stroke-width="2.08" stroke-opacity="0.71" d="M925.1 459.6l8.8 -11.8l-6.4 -3.1l-8.8 14z"/>
<path fill="#00d092" stroke-width="1.86" stroke-opacity="0.85" d="M916.3 471.2l8.8 -11.6l-6.4 -.9l-8.8 13.8z"/>
<path fill="#00d2ad" stroke-width="1.65" stroke-opacity="1" d="M907.5 482.3l8.8 -11.1l-6.4 1.3l-8.8 13.2z"/>
<path fill="#00d3c5" stroke-width="2.2" stroke-opacity="1" d="M898.8 492.7l8.7 -10.4l-6.4 3.4l-8.7 12.3z"/>
<path fill="#00d5db" stroke-width="2.2" stroke-opacity="1" d="M890 502.3l8.8 -9.6l-6.4 5.3l-8.8 11.3z"/>
<path fill="#00d6ed" stroke-width="2.2" stroke-opacity="1" d="M881.2 510.9l8.8 -8.6l-6.4 7l-8.8 10z"/>
<path fill="#00d7fc" stroke-width="2.2" stroke-opacity="1" d="M872.4 518.2l8.8 -7.3l-6.4 8.4l-8.8 8.6z"/>
<path fill="#00d2ff" stroke-width="1.65" stroke-opacity="1" d="M863.6 524.3l8.8 -6.1l-6.4 9.7l-8.8 6.9z"/>
<path fill="#00cdff" stroke-width="1.86" stroke-opacity="0.85" d="M854.8 528.9l8.8 -4.6l-6.4 10.5l-8.8 5.1z"/>
<path fill="#0cf" stroke-width="2.08" stroke-opacity="0.71" d="M846 532.1l8.8 -3.2l-6.4 11l-8.8 3.4z"/>
<path fill="#00cdff" stroke-width="2.29" stroke-opacity="0.56" d="M837.3 533.8l8.7 -1.7l-6.4 11.2l-8.7 1.6z"/>
<path fill="#00d2ff" stroke-width="2.5" stroke-opacity="0.42" d="M828.5 534.1l8.8 -.3l-6.4 11.1l-8.8 -.3z"/>
<path fill="#00d7fc" stroke-width="2.5" stroke-opacity="0.42" d="M819.7 533l8.8 1.1l-6.4 10.5l-8.8 -1.9z"/>
<path fill="#00d6ed" stroke-width="2.5" stroke-opacity="0.42" d="M810.9 530.6l8.8 2.4l-6.4 9.7l-8.8 -3.6z"/>
<path fill="#00d5db" stroke-width="2.5" stroke-opacity="0.42" d="M802.1 527l8.8 3.6l-6.4 8.5l-8.8 -5.1z"/>
<path fill="#00d3c5" stroke-width="2.5" stroke-opacity="0.42" d="M793.3 522.3l8.8 4.7l-6.4 7l-8.8 -6.4z"/>
<path fill="#00d2ad" stroke-width="2.29" stroke-opacity="0.56" d="M784.5 516.8l8.8 5.5l-6.4 5.3l-8.8 -7.4z"/>
<path fill="#00d092" stroke-width="2.08" stroke-opacity="0.71" d="M775.8 510.6l8.7 6.2l-6.4 3.4l-8.7 -8.2z"/>
<path fill="#00cf77" stroke-width="1.65" stroke-opacity="1" d="M767 504l8.8 6.6l-6.4 1.4l-8.8 -8.9z"/>
<path fill="#00cd5a" stroke-width="1.65" stroke-opacity="1" d="M758.2 497.1l8.8 6.9l-6.4 -.9l-8.8 -9.1z"/>
<path fill="#2bd84c" stroke-width="2.2" stroke-opacity="1" d="M749.4 490.2l8.8 6.9l-6.4 -3.1l-8.8 -9.1z"/>
<path fill="#55e23e" stroke-width="2.2" stroke-opacity="1" d="M740.6 483.6l8.8 6.6l-6.4 -5.3l-8.8 -8.8z"/>
<path fill="#7eec30" stroke-width="2.2" stroke-opacity="1" d="M731.8 477.4l8.8 6.2l-6.4 -7.5l-8.8 -8.2z"/>
<path fill="#a4f222" stroke-width="1.65" stroke-opacity="1" d="M723 471.9l8.8 5.5l-6.4 -9.5l-8.8 -7.5z"/>
<path fill="#c6f715" stroke-width="1.86" stroke-opacity="0.85" d="M714.3 467.2l8.7 4.7l-6.4 -11.5l-8.7 -6.3z"/>
<path fill="#e3fb0a" stroke-width="2.08" stroke-opacity="0.71" d="M705.5 463.6l8.8 3.6l-6.4 -13.1l-8.8 -5.1z"/>
<path fill="#fbfe02" stroke-width="2.29" stroke-opacity="0.56" d="M696.7 461.2l8.8 2.4l-6.4 -14.6l-8.8 -3.6z"/>
<path fill="#fff900" stroke-width="2.5" stroke-opacity="0.42" d="M687.9 460.1l8.8 1.1l-6.4 -15.8l-8.8 -2z"/>
<path fill="#fff300" stroke-width="2.5" stroke-opacity="0.42" d="M679.1 460.4l8.8 -.3l-6.4 -16.7l-8.8 -.2z"/>
<path fill="#fff200" stroke-width="2.5" stroke-opacity="0.42" d="M670.3 462.1l8.8 -1.7l-6.4 -17.2l-8.8 1.5z"/>
<path fill="#fff300" stroke-width="2.5" stroke-opacity="0.42" d="M661.5 465.3l8.8 -3.2l-6.4 -17.4l-8.8 3.4z"/>
<path fill="#fff900" stroke-width="2.5" stroke-opacity="0.42" d="M652.8 469.9l8.7 -4.6l-6.4 -17.2l-8.7 5.2z"/>
<path fill="#fbfe02" stroke-width="2.5" stroke-opacity="0.42" d="M644 476l8.8 -6.1l-6.4 -16.6l-8.8 6.9z"/>
<path fill="#e3fb0a" stroke-width="2.5" stroke-opacity="0.42" d="M635.2 483.4l8.8 -7.4l-6.4 -15.8l-8.8 8.5z"/>
<path fill="#c6f715" stroke-width="2.5" stroke-opacity="0.42" d="M626.4 491.9l8.8 -8.5l-6.4 -14.7l-8.8 10z"/>
<path fill="#a4f222" stroke-width="2.5" stroke-opacity="0.42" d="M617.6 501.5l8.8 -9.6l-6.4 -13.2l-8.8 11.3z"/>
<path fill="#7eec30" stroke-width="2.5" stroke-opacity="0.42" d="M608.8 511.9l8.8 -10.4l-6.4 -11.5l-8.8 12.4z"/>
<path fill="#55e23e" stroke-width="2.5" stroke-opacity="0.42" d="M600 523.1l8.8 -11.2l-6.4 -9.5l-8.8 13.2z"/>
<path fill="#2bd84c" stroke-width="2.5" stroke-opacity="0.42" d="M591.3 534.6l8.7 -11.5l-6.4 -7.5l-8.7 13.7z"/>
<path fill="#00cd5a" stroke-width="2.5" stroke-opacity="0.42" d="M582.5 546.4l8.8 -11.8l-6.4 -5.3l-8.8 14.1z"/>
<path fill="#00cf77" stroke-width="2.08" stroke-opacity="0.71" d="M573.7 558.2l8.8 -11.8l-6.4 -3l-8.8 14z"/>
<path fill="#00d092" stroke-width="1.86" stroke-opacity="0.85" d="M564.9 569.8l8.8 -11.6l-6.4 -.8l-8.8 13.7z"/>
<path fill="#00d2ad" stroke-width="1.65" stroke-opacity="1" d="M556.1 580.9l8.8 -11.1l-6.4 1.3l-8.8 13.2z"/>
<path fill="#00d3c5" stroke-width="2.2" stroke-opacity="1" d="M547.3 591.4l8.8 -10.5l-6.4 3.4l-8.8 12.4z"/>
<path fill="#00d5db" stroke-width="2.2" stroke-opacity="1" d="M538.5 601l8.8 -9.6l-6.4 5.3l-8.8 11.3z"/>
<path fill="#00d6ed" stroke-width="2.2" stroke-opacity="1" d="M529.8 609.5l8.7 -8.5l-6.4 7l-8.7 10z"/>
<path fill="#00d7fc" stroke-width="2.2" stroke-opacity="1" d="M521 616.9l8.8 -7.4l-6.4 8.5l-8.8 8.5z"/>
<path fill="#00d2ff" stroke-width="1.65" stroke-opacity="1" d="M512.2 622.9l8.8 -6l-6.4 9.6l-8.8 6.9z"/>
<path fill="#00cdff" stroke-width="1.86" stroke-opacity="0.85" d="M503.4 627.6l8.8 -4.7l-6.4 10.5l-8.8 5.2z"/>
<path fill="#0cf" stroke-width="2.08" stroke-opacity="0.71" d="M494.6 630.8l8.8 -3.2l-6.4 11l-8.8 3.4z"/>
<path fill="#00cdff" stroke-width="2.29" stroke-opacity="0.56" d="M485.8 632.5l8.8 -1.7l-6.4 11.2l-8.8 1.5z"/>
<path fill="#00d2ff" stroke-width="2.5" stroke-opacity="0.42" d="M477 632.8l8.8 -.3l-6.4 11l-8.8 -.2z"/>
<path fill="#00d7fc" stroke-width="2.5" stroke-opacity="0.42" d="M468.3 631.7l8.7 1.1l-6.4 10.5l-8.7 -2z"/>
<path fill="#00d6ed" stroke-width="2.5" stroke-opacity="0.42" d="M459.5 629.2l8.8 2.5l-6.4 9.6l-8.8 -3.6z"/>
<path fill="#00d5db" stroke-width="2.5" stroke-opacity="0.42" d="M450.7 625.6l8.8 3.6l-6.4 8.5l-8.8 -5.1z"/>
<path fill="#00d3c5" stroke-width="2.5" stroke-opacity="0.42" d="M441.9 621l8.8 4.6l-6.4 7l-8.8 -6.3z"/>
<path fill="#00d2ad" stroke-width="2.29" stroke-opacity="0.56" d="M433.1 615.4l8.8 5.6l-6.4 5.3l-8.8 -7.4z"/>
<path fill="#00d092" stroke-width="2.08" stroke-opacity="0.71" d="M424.3 609.3l8.8 6.1l-6.4 3.5l-8.8 -8.3z"/>
<path fill="#00cf77" stroke-width="1.65" stroke-opacity="1" d="M415.5 602.6l8.8 6.7l-6.4 1.3l-8.8 -8.8z"/>
<path fill="#00cd5a" stroke-width="1.65" stroke-opacity="1" d="M406.8 595.8l8.7 6.8l-6.4 -.8l-8.7 -9.1z"/>
<path fill="#2bd84c" stroke-width="2.2" stroke-opacity="1" d="M398 588.9l8.8 6.9l-6.4 -3.1l-8.8 -9.1z"/>
<path fill="#55e23e" stroke-width="2.2" stroke-opacity="1" d="M389.2 582.2l8.8 6.7l-6.4 -5.3l-8.8 -8.8z"/>
<path fill="#7eec30" stroke-width="2.2" stroke-opacity="1" d="M380.4 576.1l8.8 6.1l-6.4 -7.4l-8.8 -8.3z"/>
<path fill="#a4f222" stroke-width="1.65" stroke-opacity="1" d="M371.6 570.5l8.8 5.6l-6.4 -9.6l-8.8 -7.4z"/>
<path fill="#c6f715" stroke-width="1.86" stroke-opacity="0.85" d="M362.8 565.9l8.8 4.6l-6.4 -11.4l-8.8 -6.4z"/>
<path fill="#e3fb0a" stroke-width="2.08" stroke-opacity="0.71" d="M354 562.3l8.8 3.6l-6.4 -13.2l-8.8 -5z"/>
<path fill="#fbfe02" stroke-width="2.29" stroke-opacity="0.56" d="M345.3 559.9l8.7 2.4l-6.4 -14.6l-8.7 -3.6z"/>
<path fill="#fff900" stroke-width="2.5" stroke-opacity="0.42" d="M336.5 558.7l8.8 1.2l-6.4 -15.8l-8.8 -2z"/>
<path fill="#fff300" stroke-width="2.5" stroke-opacity="0.42" d="M327.7 559l8.8 -.3l-6.4 -16.6l-8.8 -.3z"/>
<path fill="#fff200" stroke-width="2.5" stroke-opacity="0.42" d="M318.9 560.7l8.8 -1.7l-6.4 -17.2l-8.8 1.6z"/>
<path fill="#e0fa0c" stroke-width="2.5" stroke-opacity="0.42" d="M1019.4 381.1l8.8 -3.1l-6.4 -14.6l-8.8 3.2z"/>
<path fill="#d7f90f" stroke-width="2.5" stroke-opacity="0.42" d="M1010.6 385.3l8.8 -4.2l-6.4 -14.5l-8.8 4.7z"/>
<path fill="#caf714" stroke-width="2.5" stroke-opacity="0.42" d="M1001.8 390.7l8.8 -5.4l-6.4 -14l-8.8 6z"/>
<path fill="#b7f41b" stroke-width="2.5" stroke-opacity="0.42" d="M993 397.1l8.8 -6.4l-6.4 -13.4l-8.8 7.4z"/>
<path fill="#9ff124" stroke-width="2.5" stroke-opacity="0.42" d="M984.2 404.5l8.8 -7.4l-6.4 -12.4l-8.8 8.6z"/>
<path fill="#83ed2e" stroke-width="2.5" stroke-opacity="0.42" d="M975.4 412.7l8.8 -8.2l-6.4 -11.2l-8.8 9.5z"/>
<path fill="#65e638" stroke-width="2.5" stroke-opacity="0.42" d="M966.7 421.6l8.7 -8.9l-6.4 -9.9l-8.7 10.5z"/>
<path fill="#45de43" stroke-width="2.5" stroke-opacity="0.42" d="M957.9 431l8.8 -9.4l-6.4 -8.3l-8.8 11.1z"/>
<path fill="#23d64e" stroke-width="2.5" stroke-opacity="0.42" d="M949.1 440.9l8.8 -9.9l-6.4 -6.6l-8.8 11.6z"/>
<path fill="#00cd5a" stroke-width="2.5" stroke-opacity="0.42" d="M940.3 450.9l8.8 -10l-6.4 -4.9l-8.8 11.8z"/>
<path fill="#00ce71" stroke-width="2.08" stroke-opacity="0.71" d="M931.5 460.9l8.8 -10l-6.4 -3.1l-8.8 11.8z"/>
<path fill="#00d087" stroke-width="1.86" stroke-opacity="0.85" d="M922.7 470.7l8.8 -9.8l-6.4 -1.3l-8.8 11.6z"/>
<path fill="#00d19d" stroke-width="1.65" stroke-opacity="1" d="M913.9 480.1l8.8 -9.4l-6.4 .5l-8.8 11.1z"/>
<path fill="#00d2b0" stroke-width="1.65" stroke-opacity="1" d="M905.2 489l8.7 -8.9l-6.4 2.2l-8.7 10.4z"/>
<path fill="#00d3c2" stroke-width="2.2" stroke-opacity="1" d="M896.4 497.2l8.8 -8.2l-6.4 3.7l-8.8 9.6z"/>
<path fill="#00d4d1" stroke-width="2.2" stroke-opacity="1" d="M887.6 504.6l8.8 -7.4l-6.4 5.1l-8.8 8.6z"/>
<path fill="#00d5dd" stroke-width="2.2" stroke-opacity="1" d="M878.8 511l8.8 -6.4l-6.4 6.3l-8.8 7.3z"/>
<path fill="#00d5e6" stroke-width="1.65" stroke-opacity="1" d="M870 516.4l8.8 -5.4l-6.4 7.2l-8.8 6.1z"/>
<path fill="#00d6eb" stroke-width="1.65" stroke-opacity="1" d="M861.2 520.6l8.8 -4.2l-6.4 7.9l-8.8 4.6z"/>
<path fill="#00d6ed" stroke-width="1.86" stroke-opacity="0.85" d="M852.4 523.7l8.8 -3.1l-6.4 8.3l-8.8 3.2z"/>
<path fill="#00d6eb" stroke-width="2.08" stroke-opacity="0.71" d="M843.7 525.5l8.7 -1.8l-6.4 8.4l-8.7 1.7z"/>
<path fill="#00d5e6" stroke-width="2.29" stroke-opacity="0.56" d="M834.9 526.2l8.8 -.7l-6.4 8.3l-8.8 .3z"/>
<path fill="#00d5dd" stroke-width="2.29" stroke-opacity="0.56" d="M826.1 525.8l8.8 .4l-6.4 7.9l-8.8 -1.1z"/>
<path fill="#00d4d1" stroke-width="2.5" stroke-opacity="0.42" d="M817.3 524.3l8.8 1.5l-6.4 7.2l-8.8 -2.4z"/>
<path fill="#00d3c2" stroke-width="2.5" stroke-opacity="0.42" d="M808.5 521.9l8.8 2.4l-6.4 6.3l-8.8 -3.6z"/>
<path fill="#00d2b0" stroke-width="2.29" stroke-opacity="0.56" d="M799.7 518.6l8.8 3.3l-6.4 5.1l-8.8 -4.7z"/>
<path fill="#00d19d" stroke-width="2.08" stroke-opacity="0.71" d="M790.9 514.6l8.8 4l-6.4 3.7l-8.8 -5.5z"/>
<path fill="#00d087" stroke-width="1.65" stroke-opacity="1" d="M782.2 510.1l8.7 4.5l-6.4 2.2l-8.7 -6.2z"/>
<path fill="#00ce71" stroke-width="1.65" stroke-opacity="1" d="M773.4 505.2l8.8 4.9l-6.4 .5l-8.8 -6.6z"/>
<path fill="#00cd5a" stroke-width="2.2" stroke-opacity="1" d="M764.6 500.2l8.8 5l-6.4 -1.2l-8.8 -6.9z"/>
<path fill="#23d64e" stroke-width="2.2" stroke-opacity="1" d="M755.8 495.1l8.8 5.1l-6.4 -3.1l-8.8 -6.9z"/>
<path fill="#45de43" stroke-width="2.2" stroke-opacity="1" d="M747 490.2l8.8 4.9l-6.4 -4.9l-8.8 -6.6z"/>
<path fill="#65e638" stroke-width="1.65" stroke-opacity="1" d="M738.2 485.7l8.8 4.5l-6.4 -6.6l-8.8 -6.2z"/>
<path fill="#83ed2e" stroke-width="1.65" stroke-opacity="1" d="M729.4 481.7l8.8 4l-6.4 -8.3l-8.8 -5.5z"/>
<path fill="#9ff124" stroke-width="1.86" stroke-opacity="0.85" d="M720.7 478.5l8.7 3.2l-6.4 -9.8l-8.7 -4.7z"/>
<path fill="#b7f41b" stroke-width="2.08" stroke-opacity="0.71" d="M711.9 476l8.8 2.5l-6.4 -11.3l-8.8 -3.6z"/>
<path fill="#caf714" stroke-width="2.29" stroke-opacity="0.56" d="M703.1 474.5l8.8 1.5l-6.4 -12.4l-8.8 -2.4z"/>
<path fill="#d7f90f" stroke-width="2.5" stroke-opacity="0.42" d="M694.3 474.1l8.8 .4l-6.4 -13.3l-8.8 -1.1z"/>
<path fill="#e0fa0c" stroke-width="2.5" stroke-opacity="0.42" d="M685.5 474.8l8.8 -.7l-6.4 -14l-8.8 .3z"/>
<path fill="#e3fb0a" stroke-width="2.5" stroke-opacity="0.42" d="M676.7 476.7l8.8 -1.9l-6.4 -14.4l-8.8 1.7z"/>
<path fill="#e0fa0c" stroke-width="2.5" stroke-opacity="0.42" d="M667.9 479.7l8.8 -3l-6.4 -14.6l-8.8 3.2z"/>
<path fill="#d7f90f" stroke-width="2.5" stroke-opacity="0.42" d="M659.2 484l8.7 -4.3l-6.4 -14.4l-8.7 4.6z"/>
<path fill="#caf714" stroke-width="2.5" stroke-opacity="0.42" d="M650.4 489.3l8.8 -5.3l-6.4 -14.1l-8.8 6.1z"/>
<path fill="#b7f41b" stroke-width="2.5" stroke-opacity="0.42" d="M641.6 495.7l8.8 -6.4l-6.4 -13.3l-8.8 7.4z"/>
<path fill="#9ff124" stroke-width="2.5" stroke-opacity="0.42" d="M632.8 503.1l8.8 -7.4l-6.4 -12.3l-8.8 8.5z"/>
<path fill="#83ed2e" stroke-width="2.5" stroke-opacity="0.42" d="M624 511.3l8.8 -8.2l-6.4 -11.2l-8.8 9.6z"/>
<path fill="#65e638" stroke-width="2.5" stroke-opacity="0.42" d="M615.2 520.2l8.8 -8.9l-6.4 -9.8l-8.8 10.4z"/>
<path fill="#45de43" stroke-width="2.5" stroke-opacity="0.42" d="M606.4 529.7l8.8 -9.5l-6.4 -8.3l-8.8 11.2z"/>
<path fill="#23d64e" stroke-width="2.5" stroke-opacity="0.42" d="M597.7 539.5l8.7 -9.8l-6.4 -6.6l-8.7 11.5z"/>
<path fill="#00cd5a" stroke-width="2.5" stroke-opacity="0.42" d="M588.9 549.5l8.8 -10l-6.4 -4.9l-8.8 11.8z"/>
<path fill="#00ce71" stroke-width="2.08" stroke-opacity="0.71" d="M580.1 559.5l8.8 -10l-6.4 -3.1l-8.8 11.8z"/>
<path fill="#00d087" stroke-width="1.86" stroke-opacity="0.85" d="M571.3 569.3l8.8 -9.8l-6.4 -1.3l-8.8 11.6z"/>
<path fill="#00d19d" stroke-width="1.65" stroke-opacity="1" d="M562.5 578.8l8.8 -9.5l-6.4 .5l-8.8 11.1z"/>
<path fill="#00d2b0" stroke-width="1.65" stroke-opacity="1" d="M553.7 587.7l8.8 -8.9l-6.4 2.1l-8.8 10.5z"/>
<path fill="#00d3c2" stroke-width="2.2" stroke-opacity="1" d="M544.9 595.9l8.8 -8.2l-6.4 3.7l-8.8 9.6z"/>
<path fill="#00d4d1" stroke-width="2.2" stroke-opacity="1" d="M536.2 603.3l8.7 -7.4l-6.4 5.1l-8.7 8.5z"/>
<path fill="#00d5dd" stroke-width="2.2" stroke-opacity="1" d="M527.4 609.7l8.8 -6.4l-6.4 6.2l-8.8 7.4z"/>
<path fill="#00d5e6" stroke-width="1.65" stroke-opacity="1" d="M518.6 615l8.8 -5.3l-6.4 7.2l-8.8 6z"/>
<path fill="#00d6eb" stroke-width="1.65" stroke-opacity="1" d="M509.8 619.3l8.8 -4.3l-6.4 7.9l-8.8 4.7z"/>
<path fill="#00d6ed" stroke-width="1.86" stroke-opacity="0.85" d="M501 622.3l8.8 -3l-6.4 8.3l-8.8 3.2z"/>
<path fill="#00d6eb" stroke-width="2.08" stroke-opacity="0.71" d="M492.2 624.2l8.8 -1.9l-6.4 8.5l-8.8 1.7z"/>
<path fill="#00d5e6" stroke-width="2.29" stroke-opacity="0.56" d="M483.4 624.9l8.8 -.7l-6.4 8.3l-8.8 .3z"/>
<path fill="#00d5dd" stroke-width="2.29" stroke-opacity="0.56" d="M474.7 624.5l8.7 .4l-6.4 7.9l-8.7 -1.1z"/>
<path fill="#00d4d1" stroke-width="2.5" stroke-opacity="0.42" d="M465.9 623l8.8 1.5l-6.4 7.2l-8.8 -2.5z"/>
<path fill="#00d3c2" stroke-width="2.5" stroke-opacity="0.42" d="M457.1 620.5l8.8 2.5l-6.4 6.2l-8.8 -3.6z"/>
<path fill="#00d2b0" stroke-width="2.29" stroke-opacity="0.56" d="M448.3 617.3l8.8 3.2l-6.4 5.1l-8.8 -4.6z"/>
<path fill="#00d19d" stroke-width="2.08" stroke-opacity="0.71" d="M439.5 613.3l8.8 4l-6.4 3.7l-8.8 -5.6z"/>
<path fill="#00d087" stroke-width="1.65" stroke-opacity="1" d="M430.7 608.8l8.8 4.5l-6.4 2.1l-8.8 -6.1z"/>
<path fill="#00ce71" stroke-width="1.65" stroke-opacity="1" d="M421.9 603.9l8.8 4.9l-6.4 .5l-8.8 -6.7z"/>
<path fill="#00cd5a" stroke-width="2.2" stroke-opacity="1" d="M413.2 598.8l8.7 5.1l-6.4 -1.3l-8.7 -6.8z"/>
<path fill="#23d64e" stroke-width="2.2" stroke-opacity="1" d="M404.4 593.8l8.8 5l-6.4 -3l-8.8 -6.9z"/>
<path fill="#45de43" stroke-width="2.2" stroke-opacity="1" d="M395.6 588.9l8.8 4.9l-6.4 -4.9l-8.8 -6.7z"/>
<path fill="#65e638" stroke-width="1.65" stroke-opacity="1" d="M386.8 584.4l8.8 4.5l-6.4 -6.7l-8.8 -6.1z"/>
<path fill="#83ed2e" stroke-width="1.65" stroke-opacity="1" d="M378 580.4l8.8 4l-6.4 -8.3l-8.8 -5.6z"/>
<path fill="#9ff124" stroke-width="1.86" stroke-opacity="0.85" d="M369.2 577.1l8.8 3.3l-6.4 -9.9l-8.8 -4.6z"/>
<path fill="#b7f41b" stroke-width="2.08" stroke-opacity="0.71" d="M360.4 574.7l8.8 2.4l-6.4 -11.2l-8.8 -3.6z"/>
<path fill="#caf714" stroke-width="2.29" stroke-opacity="0.56" d="M351.7 573.2l8.7 1.5l-6.4 -12.4l-8.7 -2.4z"/>
<path fill="#d7f90f" stroke-width="2.5" stroke-opacity="0.42" d="M342.9 572.8l8.8 .4l-6.4 -13.3l-8.8 -1.2z"/>
<path fill="#e0fa0c" stroke-width="2.5" stroke-opacity="0.42" d="M334.1 573.5l8.8 -.7l-6.4 -14.1l-8.8 .3z"/>
<path fill="#e3fb0a" stroke-width="2.5" stroke-opacity="0.42" d="M325.3 575.3l8.8 -1.8l-6.4 -14.5l-8.8 1.7z"/>
<path fill="#b4f41c" stroke-width="2.5" stroke-opacity="0.42" d="M1025.8 393.3l8.8 -2.9l-6.4 -12.4l-8.8 3.1z"/>
<path fill="#adf31e" stroke-width="2.5" stroke-opacity="0.42" d="M1017 397.2l8.8 -3.9l-6.4 -12.2l-8.8 4.2z"/>
<path fill="#a2f123" stroke-width="2.5" stroke-opacity="0.42" d="M1008.2 402l8.8 -4.8l-6.4 -11.9l-8.8 5.4z"/>
<path fill="#92ef28" stroke-width="2.5" stroke-opacity="0.42" d="M999.4 407.7l8.8 -5.7l-6.4 -11.3l-8.8 6.4z"/>
<path fill="#7fec2f" stroke-width="2.5" stroke-opacity="0.42" d="M990.6 414.1l8.8 -6.4l-6.4 -10.6l-8.8 7.4z"/>
<path fill="#6ae737" stroke-width="2.5" stroke-opacity="0.42" d="M981.8 421.2l8.8 -7.1l-6.4 -9.6l-8.8 8.2z"/>
<path fill="#52e13f" stroke-width="2.5" stroke-opacity="0.42" d="M973.1 428.9l8.7 -7.7l-6.4 -8.5l-8.7 8.9z"/>
<path fill="#38db47" stroke-width="2.5" stroke-opacity="0.42" d="M964.3 437l8.8 -8.1l-6.4 -7.3l-8.8 9.4z"/>
<path fill="#1cd451" stroke-width="2.5" stroke-opacity="0.42" d="M955.5 445.4l8.8 -8.4l-6.4 -6l-8.8 9.9z"/>
<path fill="#00cd5a" stroke-width="2.29" stroke-opacity="0.56" d="M946.7 453.9l8.8 -8.5l-6.4 -4.5l-8.8 10z"/>
<path fill="#00ce6d" stroke-width="2.08" stroke-opacity="0.71" d="M937.9 462.5l8.8 -8.6l-6.4 -3l-8.8 10z"/>
<path fill="#00cf7f" stroke-width="1.86" stroke-opacity="0.85" d="M929.1 470.9l8.8 -8.4l-6.4 -1.6l-8.8 9.8z"/>
<path fill="#00d090" stroke-width="1.65" stroke-opacity="1" d="M920.3 479l8.8 -8.1l-6.4 -.2l-8.8 9.4z"/>
<path fill="#00d1a0" stroke-width="1.65" stroke-opacity="1" d="M911.6 486.6l8.7 -7.6l-6.4 1.1l-8.7 8.9z"/>
<path fill="#00d2ae" stroke-width="2.2" stroke-opacity="1" d="M902.8 493.7l8.8 -7.1l-6.4 2.4l-8.8 8.2z"/>
<path fill="#00d3ba" stroke-width="2.2" stroke-opacity="1" d="M894 500.2l8.8 -6.5l-6.4 3.5l-8.8 7.4z"/>
<path fill="#00d3c4" stroke-width="2.2" stroke-opacity="1" d="M885.2 505.8l8.8 -5.6l-6.4 4.4l-8.8 6.4z"/>
<path fill="#00d4cb" stroke-width="2.2" stroke-opacity="1" d="M876.4 510.6l8.8 -4.8l-6.4 5.2l-8.8 5.4z"/>
<path fill="#00d4cf" stroke-width="1.65" stroke-opacity="1" d="M867.6 514.5l8.8 -3.9l-6.4 5.8l-8.8 4.2z"/>
<path fill="#00d4d1" stroke-width="1.65" stroke-opacity="1" d="M858.8 517.4l8.8 -2.9l-6.4 6.1l-8.8 3.1z"/>
<path fill="#00d4cf" stroke-width="1.86" stroke-opacity="0.85" d="M850.1 519.4l8.7 -2l-6.4 6.3l-8.7 1.8z"/>
<path fill="#00d4cb" stroke-width="1.86" stroke-opacity="0.85" d="M841.3 520.5l8.8 -1.1l-6.4 6.1l-8.8 .7z"/>
<path fill="#00d3c4" stroke-width="2.08" stroke-opacity="0.71" d="M832.5 520.6l8.8 -.1l-6.4 5.7l-8.8 -.4z"/>
<path fill="#00d3ba" stroke-width="2.08" stroke-opacity="0.71" d="M823.7 519.9l8.8 .7l-6.4 5.2l-8.8 -1.5z"/>
<path fill="#00d2ae" stroke-width="1.86" stroke-opacity="0.85" d="M814.9 518.4l8.8 1.5l-6.4 4.4l-8.8 -2.4z"/>
<path fill="#00d1a0" stroke-width="1.86" stroke-opacity="0.85" d="M806.1 516.2l8.8 2.2l-6.4 3.5l-8.8 -3.3z"/>
<path fill="#00d090" stroke-width="1.65" stroke-opacity="1" d="M797.3 513.5l8.8 2.7l-6.4 2.4l-8.8 -4z"/>
<path fill="#00cf7f" stroke-width="1.65" stroke-opacity="1" d="M788.6 510.3l8.7 3.2l-6.4 1.1l-8.7 -4.5z"/>
<path fill="#00ce6d" stroke-width="2.2" stroke-opacity="1" d="M779.8 506.9l8.8 3.4l-6.4 -.2l-8.8 -4.9z"/>
<path fill="#00cd5a" stroke-width="2.2" stroke-opacity="1" d="M771 503.2l8.8 3.7l-6.4 -1.7l-8.8 -5z"/>
<path fill="#1cd451" stroke-width="2.2" stroke-opacity="1" d="M762.2 499.6l8.8 3.6l-6.4 -3l-8.8 -5.1z"/>
<path fill="#38db47" stroke-width="2.2" stroke-opacity="1" d="M753.4 496.2l8.8 3.4l-6.4 -4.5l-8.8 -4.9z"/>
<path fill="#52e13f" stroke-width="1.65" stroke-opacity="1" d="M744.6 493l8.8 3.2l-6.4 -6l-8.8 -4.5z"/>
<path fill="#6ae737" stroke-width="1.86" stroke-opacity="0.85" d="M735.8 490.3l8.8 2.7l-6.4 -7.3l-8.8 -4z"/>
<path fill="#7fec2f" stroke-width="2.08" stroke-opacity="0.71" d="M727.1 488.1l8.7 2.2l-6.4 -8.6l-8.7 -3.2z"/>
<path fill="#92ef28" stroke-width="2.08" stroke-opacity="0.71" d="M718.3 486.6l8.8 1.5l-6.4 -9.6l-8.8 -2.5z"/>
<path fill="#a2f123" stroke-width="2.29" stroke-opacity="0.56" d="M709.5 485.9l8.8 .7l-6.4 -10.6l-8.8 -1.5z"/>
<path fill="#adf31e" stroke-width="2.5" stroke-opacity="0.42" d="M700.7 486l8.8 -.1l-6.4 -11.4l-8.8 -.4z"/>
<path fill="#b4f41c" stroke-width="2.5" stroke-opacity="0.42" d="M691.9 487.1l8.8 -1.1l-6.4 -11.9l-8.8 .7z"/>
<path fill="#b6f41b" stroke-width="2.5" stroke-opacity="0.42" d="M683.1 489.1l8.8 -2l-6.4 -12.3l-8.8 1.9z"/>
<path fill="#b4f41c" stroke-width="2.5" stroke-opacity="0.42" d="M674.3 492l8.8 -2.9l-6.4 -12.4l-8.8 3z"/>
<path fill="#adf31e" stroke-width="2.5" stroke-opacity="0.42" d="M665.6 495.9l8.7 -3.9l-6.4 -12.3l-8.7 4.3z"/>
<path fill="#a2f123" stroke-width="2.5" stroke-opacity="0.42" d="M656.8 500.7l8.8 -4.8l-6.4 -11.9l-8.8 5.3z"/>
<path fill="#92ef28" stroke-width="2.5" stroke-opacity="0.42" d="M648 506.3l8.8 -5.6l-6.4 -11.4l-8.8 6.4z"/>
<path fill="#7fec2f" stroke-width="2.5" stroke-opacity="0.42" d="M639.2 512.8l8.8 -6.5l-6.4 -10.6l-8.8 7.4z"/>
<path fill="#6ae737" stroke-width="2.5" stroke-opacity="0.42" d="M630.4 519.9l8.8 -7.1l-6.4 -9.7l-8.8 8.2z"/>
<path fill="#52e13f" stroke-width="2.5" stroke-opacity="0.42" d="M621.6 527.5l8.8 -7.6l-6.4 -8.6l-8.8 8.9z"/>
<path fill="#38db47" stroke-width="2.5" stroke-opacity="0.42" d="M612.8 535.6l8.8 -8.1l-6.4 -7.3l-8.8 9.5z"/>
<path fill="#1cd451" stroke-width="2.5" stroke-opacity="0.42" d="M604.1 544l8.7 -8.4l-6.4 -5.9l-8.7 9.8z"/>
<path fill="#00cd5a" stroke-width="2.29" stroke-opacity="0.56" d="M595.3 552.6l8.8 -8.6l-6.4 -4.5l-8.8 10z"/>
<path fill="#00ce6d" stroke-width="2.08" stroke-opacity="0.71" d="M586.5 561.1l8.8 -8.5l-6.4 -3.1l-8.8 10z"/>
<path fill="#00cf7f" stroke-width="1.86" stroke-opacity="0.85" d="M577.7 569.5l8.8 -8.4l-6.4 -1.6l-8.8 9.8z"/>
<path fill="#00d090" stroke-width="1.65" stroke-opacity="1" d="M568.9 577.6l8.8 -8.1l-6.4 -.2l-8.8 9.5z"/>
<path fill="#00d1a0" stroke-width="1.65" stroke-opacity="1" d="M560.1 585.3l8.8 -7.7l-6.4 1.2l-8.8 8.9z"/>
<path fill="#00d2ae" stroke-width="2.2" stroke-opacity="1" d="M551.3 592.4l8.8 -7.1l-6.4 2.4l-8.8 8.2z"/>
<path fill="#00d3ba" stroke-width="2.2" stroke-opacity="1" d="M542.6 598.8l8.7 -6.4l-6.4 3.5l-8.7 7.4z"/>
<path fill="#00d3c4" stroke-width="2.2" stroke-opacity="1" d="M533.8 604.5l8.8 -5.7l-6.4 4.5l-8.8 6.4z"/>
<path fill="#00d4cb" stroke-width="2.2" stroke-opacity="1" d="M525 609.3l8.8 -4.8l-6.4 5.2l-8.8 5.3z"/>
<path fill="#00d4cf" stroke-width="1.65" stroke-opacity="1" d="M516.2 613.1l8.8 -3.8l-6.4 5.7l-8.8 4.3z"/>
<path fill="#00d4d1" stroke-width="1.65" stroke-opacity="1" d="M507.4 616.1l8.8 -3l-6.4 6.2l-8.8 3z"/>
<path fill="#00d4cf" stroke-width="1.86" stroke-opacity="0.85" d="M498.6 618.1l8.8 -2l-6.4 6.2l-8.8 1.9z"/>
<path fill="#00d4cb" stroke-width="1.86" stroke-opacity="0.85" d="M489.8 619.1l8.8 -1l-6.4 6.1l-8.8 .7z"/>
<path fill="#00d3c4" stroke-width="2.08" stroke-opacity="0.71" d="M481.1 619.3l8.7 -.2l-6.4 5.8l-8.7 -.4z"/>
<path fill="#00d3ba" stroke-width="2.08" stroke-opacity="0.71" d="M472.3 618.5l8.8 .8l-6.4 5.2l-8.8 -1.5z"/>
<path fill="#00d2ae" stroke-width="1.86" stroke-opacity="0.85" d="M463.5 617l8.8 1.5l-6.4 4.5l-8.8 -2.5z"/>
<path fill="#00d1a0" stroke-width="1.86" stroke-opacity="0.85" d="M454.7 614.9l8.8 2.1l-6.4 3.5l-8.8 -3.2z"/>
<path fill="#00d090" stroke-width="1.65" stroke-opacity="1" d="M445.9 612.1l8.8 2.8l-6.4 2.4l-8.8 -4z"/>
<path fill="#00cf7f" stroke-width="1.65" stroke-opacity="1" d="M437.1 609l8.8 3.1l-6.4 1.2l-8.8 -4.5z"/>
<path fill="#00ce6d" stroke-width="2.2" stroke-opacity="1" d="M428.3 605.5l8.8 3.5l-6.4 -.2l-8.8 -4.9z"/>
<path fill="#00cd5a" stroke-width="2.2" stroke-opacity="1" d="M419.6 601.9l8.7 3.6l-6.4 -1.6l-8.7 -5.1z"/>
<path fill="#1cd451" stroke-width="2.2" stroke-opacity="1" d="M410.8 598.3l8.8 3.6l-6.4 -3.1l-8.8 -5z"/>
<path fill="#38db47" stroke-width="2.2" stroke-opacity="1" d="M402 594.8l8.8 3.5l-6.4 -4.5l-8.8 -4.9z"/>
<path fill="#52e13f" stroke-width="1.65" stroke-opacity="1" d="M393.2 591.7l8.8 3.1l-6.4 -5.9l-8.8 -4.5z"/>
<path fill="#6ae737" stroke-width="1.86" stroke-opacity="0.85" d="M384.4 588.9l8.8 2.8l-6.4 -7.3l-8.8 -4z"/>
<path fill="#7fec2f" stroke-width="2.08" stroke-opacity="0.71" d="M375.6 586.8l8.8 2.1l-6.4 -8.5l-8.8 -3.3z"/>
<path fill="#92ef28" stroke-width="2.08" stroke-opacity="0.71" d="M366.8 585.3l8.8 1.5l-6.4 -9.7l-8.8 -2.4z"/>
<path fill="#a2f123" stroke-width="2.29" stroke-opacity="0.56" d="M358.1 584.5l8.7 .8l-6.4 -10.6l-8.7 -1.5z"/>
<path fill="#adf31e" stroke-width="2.5" stroke-opacity="0.42" d="M349.3 584.7l8.8 -.2l-6.4 -11.3l-8.8 -.4z"/>
<path fill="#b4f41c" stroke-width="2.5" stroke-opacity="0.42" d="M340.5 585.7l8.8 -1l-6.4 -11.9l-8.8 .7z"/>
<path fill="#b6f41b" stroke-width="2.5" stroke-opacity="0.42" d="M331.7 587.7l8.8 -2l-6.4 -12.2l-8.8 1.8z"/>
<path fill="#90ef29" stroke-width="2.5" stroke-opacity="0.42" d="M1032.2 403.8l8.8 -2.8l-6.4 -10.6l-8.8 2.9z"/>
<path fill="#8bee2b" stroke-width="2.5" stroke-opacity="0.42" d="M1023.4 407.4l8.8 -3.6l-6.4 -10.5l-8.8 3.9z"/>
<path fill="#82ec2e" stroke-width="2.5" stroke-opacity="0.42" d="M1014.6 411.8l8.8 -4.4l-6.4 -10.2l-8.8 4.8z"/>
<path fill="#75ea33" stroke-width="2.5" stroke-opacity="0.42" d="M1005.8 416.8l8.8 -5l-6.4 -9.8l-8.8 5.7z"/>
<path fill="#67e738" stroke-width="2.5" stroke-opacity="0.42" d="M997 422.5l8.8 -5.7l-6.4 -9.1l-8.8 6.4z"/>
<path fill="#55e23e" stroke-width="2.5" stroke-opacity="0.42" d="M988.2 428.7l8.8 -6.2l-6.4 -8.4l-8.8 7.1z"/>
<path fill="#42dd44" stroke-width="2.5" stroke-opacity="0.42" d="M979.5 435.4l8.7 -6.7l-6.4 -7.5l-8.7 7.7z"/>
<path fill="#2dd84b" stroke-width="2.5" stroke-opacity="0.42" d="M970.7 442.4l8.8 -7l-6.4 -6.5l-8.8 8.1z"/>
<path fill="#17d352" stroke-width="2.5" stroke-opacity="0.42" d="M961.9 449.6l8.8 -7.2l-6.4 -5.4l-8.8 8.4z"/>
<path fill="#00cd5a" stroke-width="2.29" stroke-opacity="0.56" d="M953.1 457l8.8 -7.4l-6.4 -4.2l-8.8 8.5z"/>
<path fill="#00ce69" stroke-width="2.08" stroke-opacity="0.71" d="M944.3 464.4l8.8 -7.4l-6.4 -3.1l-8.8 8.6z"/>
<path fill="#00cf78" stroke-width="1.86" stroke-opacity="0.85" d="M935.5 471.6l8.8 -7.2l-6.4 -1.9l-8.8 8.4z"/>
<path fill="#00d085" stroke-width="1.65" stroke-opacity="1" d="M926.7 478.6l8.8 -7l-6.4 -.7l-8.8 8.1z"/>
<path fill="#00d092" stroke-width="1.65" stroke-opacity="1" d="M918 485.3l8.7 -6.7l-6.4 .4l-8.7 7.6z"/>
<path fill="#00d19e" stroke-width="2.2" stroke-opacity="1" d="M909.2 491.5l8.8 -6.2l-6.4 1.3l-8.8 7.1z"/>
<path fill="#00d2a7" stroke-width="2.2" stroke-opacity="1" d="M900.4 497.2l8.8 -5.7l-6.4 2.2l-8.8 6.5z"/>
<path fill="#00d2af" stroke-width="2.2" stroke-opacity="1" d="M891.6 502.2l8.8 -5l-6.4 3l-8.8 5.6z"/>
<path fill="#00d3b5" stroke-width="2.2" stroke-opacity="1" d="M882.8 506.5l8.8 -4.3l-6.4 3.6l-8.8 4.8z"/>
<path fill="#00d3b9" stroke-width="2.2" stroke-opacity="1" d="M874 510.2l8.8 -3.7l-6.4 4.1l-8.8 3.9z"/>
<path fill="#00d3ba" stroke-width="2.2" stroke-opacity="1" d="M865.2 513l8.8 -2.8l-6.4 4.3l-8.8 2.9z"/>
<path fill="#00d3b9" stroke-width="1.65" stroke-opacity="1" d="M856.5 515.1l8.7 -2.1l-6.4 4.4l-8.7 2z"/>
<path fill="#00d3b5" stroke-width="1.65" stroke-opacity="1" d="M847.7 516.4l8.8 -1.3l-6.4 4.3l-8.8 1.1z"/>
<path fill="#00d2af" stroke-width="1.65" stroke-opacity="1" d="M838.9 517l8.8 -.6l-6.4 4.1l-8.8 .1z"/>
<path fill="#00d2a7" stroke-width="1.65" stroke-opacity="1" d="M830.1 516.9l8.8 .1l-6.4 3.6l-8.8 -.7z"/>
<path fill="#00d19e" stroke-width="1.65" stroke-opacity="1" d="M821.3 516.2l8.8 .7l-6.4 3l-8.8 -1.5z"/>
<path fill="#00d092" stroke-width="1.65" stroke-opacity="1" d="M812.5 514.9l8.8 1.3l-6.4 2.2l-8.8 -2.2z"/>
<path fill="#00d085" stroke-width="2.2" stroke-opacity="1" d="M803.7 513.2l8.8 1.7l-6.4 1.3l-8.8 -2.7z"/>
<path fill="#00cf78" stroke-width="2.2" stroke-opacity="1" d="M795 511.1l8.7 2.1l-6.4 .3l-8.7 -3.2z"/>
<path fill="#00ce69" stroke-width="2.2" stroke-opacity="1" d="M786.2 508.8l8.8 2.3l-6.4 -.8l-8.8 -3.4z"/>
<path fill="#00cd5a" stroke-width="2.2" stroke-opacity="1" d="M777.4 506.3l8.8 2.5l-6.4 -1.9l-8.8 -3.7z"/>
<path fill="#17d352" stroke-width="2.2" stroke-opacity="1" d="M768.6 503.9l8.8 2.4l-6.4 -3.1l-8.8 -3.6z"/>
<path fill="#2dd84b" stroke-width="2.2" stroke-opacity="1" d="M759.8 501.6l8.8 2.3l-6.4 -4.3l-8.8 -3.4z"/>
<path fill="#42dd44" stroke-width="1.65" stroke-opacity="1" d="M751 499.5l8.8 2.1l-6.4 -5.4l-8.8 -3.2z"/>
<path fill="#55e23e" stroke-width="1.86" stroke-opacity="0.85" d="M742.2 497.8l8.8 1.7l-6.4 -6.5l-8.8 -2.7z"/>
<path fill="#67e738" stroke-width="2.08" stroke-opacity="0.71" d="M733.5 496.5l8.7 1.3l-6.4 -7.5l-8.7 -2.2z"/>
<path fill="#75ea33" stroke-width="2.29" stroke-opacity="0.56" d="M724.7 495.7l8.8 .8l-6.4 -8.4l-8.8 -1.5z"/>
<path fill="#82ec2e" stroke-width="2.29" stroke-opacity="0.56" d="M715.9 495.6l8.8 .1l-6.4 -9.1l-8.8 -.7z"/>
<path fill="#8bee2b" stroke-width="2.5" stroke-opacity="0.42" d="M707.1 496.2l8.8 -.6l-6.4 -9.7l-8.8 .1z"/>
<path fill="#90ef29" stroke-width="2.5" stroke-opacity="0.42" d="M698.3 497.5l8.8 -1.3l-6.4 -10.2l-8.8 1.1z"/>
<path fill="#92ef28" stroke-width="2.5" stroke-opacity="0.42" d="M689.5 499.6l8.8 -2.1l-6.4 -10.4l-8.8 2z"/>
<path fill="#90ef29" stroke-width="2.5" stroke-opacity="0.42" d="M680.7 502.5l8.8 -2.9l-6.4 -10.5l-8.8 2.9z"/>
<path fill="#8bee2b" stroke-width="2.5" stroke-opacity="0.42" d="M672 506.1l8.7 -3.6l-6.4 -10.5l-8.7 3.9z"/>
<path fill="#82ec2e" stroke-width="2.5" stroke-opacity="0.42" d="M663.2 510.4l8.8 -4.3l-6.4 -10.2l-8.8 4.8z"/>
<path fill="#75ea33" stroke-width="2.5" stroke-opacity="0.42" d="M654.4 515.5l8.8 -5.1l-6.4 -9.7l-8.8 5.6z"/>
<path fill="#67e738" stroke-width="2.5" stroke-opacity="0.42" d="M645.6 521.1l8.8 -5.6l-6.4 -9.2l-8.8 6.5z"/>
<path fill="#55e23e" stroke-width="2.5" stroke-opacity="0.42" d="M636.8 527.3l8.8 -6.2l-6.4 -8.3l-8.8 7.1z"/>
<path fill="#42dd44" stroke-width="2.5" stroke-opacity="0.42" d="M628 534l8.8 -6.7l-6.4 -7.4l-8.8 7.6z"/>
<path fill="#2dd84b" stroke-width="2.5" stroke-opacity="0.42" d="M619.2 541l8.8 -7l-6.4 -6.5l-8.8 8.1z"/>
<path fill="#17d352" stroke-width="2.5" stroke-opacity="0.42" d="M610.5 548.3l8.7 -7.3l-6.4 -5.4l-8.7 8.4z"/>
<path fill="#00cd5a" stroke-width="2.29" stroke-opacity="0.56" d="M601.7 555.6l8.8 -7.3l-6.4 -4.3l-8.8 8.6z"/>
<path fill="#00ce69" stroke-width="2.08" stroke-opacity="0.71" d="M592.9 563l8.8 -7.4l-6.4 -3l-8.8 8.5z"/>
<path fill="#00cf78" stroke-width="1.86" stroke-opacity="0.85" d="M584.1 570.3l8.8 -7.3l-6.4 -1.9l-8.8 8.4z"/>
<path fill="#00d085" stroke-width="1.65" stroke-opacity="1" d="M575.3 577.3l8.8 -7l-6.4 -.8l-8.8 8.1z"/>
<path fill="#00d092" stroke-width="1.65" stroke-opacity="1" d="M566.5 583.9l8.8 -6.6l-6.4 .3l-8.8 7.7z"/>
<path fill="#00d19e" stroke-width="2.2" stroke-opacity="1" d="M557.7 590.1l8.8 -6.2l-6.4 1.4l-8.8 7.1z"/>
<path fill="#00d2a7" stroke-width="2.2" stroke-opacity="1" d="M549 595.8l8.7 -5.7l-6.4 2.3l-8.7 6.4z"/>
<path fill="#00d2af" stroke-width="2.2" stroke-opacity="1" d="M540.2 600.8l8.8 -5l-6.4 3l-8.8 5.7z"/>
<path fill="#00d3b5" stroke-width="2.2" stroke-opacity="1" d="M531.4 605.2l8.8 -4.4l-6.4 3.7l-8.8 4.8z"/>
<path fill="#00d3b9" stroke-width="2.2" stroke-opacity="1" d="M522.6 608.8l8.8 -3.6l-6.4 4.1l-8.8 3.8z"/>
<path fill="#00d3ba" stroke-width="2.2" stroke-opacity="1" d="M513.8 611.7l8.8 -2.9l-6.4 4.3l-8.8 3z"/>
<path fill="#00d3b9" stroke-width="1.65" stroke-opacity="1" d="M505 613.7l8.8 -2l-6.4 4.4l-8.8 2z"/>
<path fill="#00d3b5" stroke-width="1.65" stroke-opacity="1" d="M496.2 615.1l8.8 -1.4l-6.4 4.4l-8.8 1z"/>
<path fill="#00d2af" stroke-width="1.65" stroke-opacity="1" d="M487.5 615.6l8.7 -.5l-6.4 4l-8.7 .2z"/>
<path fill="#00d2a7" stroke-width="1.65" stroke-opacity="1" d="M478.7 615.5l8.8 .1l-6.4 3.7l-8.8 -.8z"/>
<path fill="#00d19e" stroke-width="1.65" stroke-opacity="1" d="M469.9 614.8l8.8 .7l-6.4 3l-8.8 -1.5z"/>
<path fill="#00d092" stroke-width="1.65" stroke-opacity="1" d="M461.1 613.5l8.8 1.3l-6.4 2.2l-8.8 -2.1z"/>
<path fill="#00d085" stroke-width="2.2" stroke-opacity="1" d="M452.3 611.8l8.8 1.7l-6.4 1.4l-8.8 -2.8z"/>
<path fill="#00cf78" stroke-width="2.2" stroke-opacity="1" d="M443.5 609.7l8.8 2.1l-6.4 .3l-8.8 -3.1z"/>
<path fill="#00ce69" stroke-width="2.2" stroke-opacity="1" d="M434.7 607.4l8.8 2.3l-6.4 -.7l-8.8 -3.5z"/>
<path fill="#00cd5a" stroke-width="2.2" stroke-opacity="1" d="M426 605l8.7 2.4l-6.4 -1.9l-8.7 -3.6z"/>
<path fill="#17d352" stroke-width="2.2" stroke-opacity="1" d="M417.2 602.5l8.8 2.5l-6.4 -3.1l-8.8 -3.6z"/>
<path fill="#2dd84b" stroke-width="2.2" stroke-opacity="1" d="M408.4 600.2l8.8 2.3l-6.4 -4.2l-8.8 -3.5z"/>
<path fill="#42dd44" stroke-width="1.65" stroke-opacity="1" d="M399.6 598.1l8.8 2.1l-6.4 -5.4l-8.8 -3.1z"/>
<path fill="#55e23e" stroke-width="1.86" stroke-opacity="0.85" d="M390.8 596.4l8.8 1.7l-6.4 -6.4l-8.8 -2.8z"/>
<path fill="#67e738" stroke-width="2.08" stroke-opacity="0.71" d="M382 595.1l8.8 1.3l-6.4 -7.5l-8.8 -2.1z"/>
<path fill="#75ea33" stroke-width="2.29" stroke-opacity="0.56" d="M373.2 594.4l8.8 .7l-6.4 -8.3l-8.8 -1.5z"/>
<path fill="#82ec2e" stroke-width="2.29" stroke-opacity="0.56" d="M364.5 594.3l8.7 .1l-6.4 -9.1l-8.7 -.8z"/>
<path fill="#8bee2b" stroke-width="2.5" stroke-opacity="0.42" d="M355.7 594.9l8.8 -.6l-6.4 -9.8l-8.8 .2z"/>
<path fill="#90ef29" stroke-width="2.5" stroke-opacity="0.42" d="M346.9 596.2l8.8 -1.3l-6.4 -10.2l-8.8 1z"/>
<path fill="#92ef28" stroke-width="2.5" stroke-opacity="0.42" d="M338.1 598.3l8.8 -2.1l-6.4 -10.5l-8.8 2z"/>
<path fill="#74ea33" stroke-width="2.5" stroke-opacity="0.42" d="M1038.6 412.9l8.8 -2.8l-6.4 -9.1l-8.8 2.8z"/>
<path fill="#6fe935" stroke-width="2.5" stroke-opacity="0.42" d="M1029.8 416.3l8.8 -3.4l-6.4 -9.1l-8.8 3.6z"/>
<path fill="#68e737" stroke-width="2.5" stroke-opacity="0.42" d="M1021 420.3l8.8 -4l-6.4 -8.9l-8.8 4.4z"/>
<path fill="#5fe53a" stroke-width="2.5" stroke-opacity="0.42" d="M1012.2 424.8l8.8 -4.5l-6.4 -8.5l-8.8 5z"/>
<path fill="#53e23e" stroke-width="2.5" stroke-opacity="0.42" d="M1003.4 429.8l8.8 -5l-6.4 -8l-8.8 5.7z"/>
<path fill="#45de43" stroke-width="2.5" stroke-opacity="0.42" d="M994.6 435.3l8.8 -5.5l-6.4 -7.3l-8.8 6.2z"/>
<path fill="#35da48" stroke-width="2.5" stroke-opacity="0.42" d="M985.9 441.2l8.7 -5.9l-6.4 -6.6l-8.7 6.7z"/>
<path fill="#24d64e" stroke-width="2.5" stroke-opacity="0.42" d="M977.1 447.3l8.8 -6.1l-6.4 -5.8l-8.8 7z"/>
<path fill="#12d254" stroke-width="2.5" stroke-opacity="0.42" d="M968.3 453.6l8.8 -6.3l-6.4 -4.9l-8.8 7.2z"/>
<path fill="#00cd5a" stroke-width="2.29" stroke-opacity="0.56" d="M959.5 460.1l8.8 -6.5l-6.4 -4l-8.8 7.4z"/>
<path fill="#00ce66" stroke-width="2.08" stroke-opacity="0.71" d="M950.7 466.5l8.8 -6.4l-6.4 -3.1l-8.8 7.4z"/>
<path fill="#00ce72" stroke-width="1.86" stroke-opacity="0.85" d="M941.9 472.8l8.8 -6.3l-6.4 -2.1l-8.8 7.2z"/>
<path fill="#00cf7d" stroke-width="1.65" stroke-opacity="1" d="M933.1 478.9l8.8 -6.1l-6.4 -1.2l-8.8 7z"/>
<path fill="#00d087" stroke-width="1.65" stroke-opacity="1" d="M924.4 484.8l8.7 -5.9l-6.4 -.3l-8.7 6.7z"/>
<path fill="#00d091" stroke-width="1.65" stroke-opacity="1" d="M915.6 490.3l8.8 -5.5l-6.4 .5l-8.8 6.2z"/>
<path fill="#00d199" stroke-width="2.2" stroke-opacity="1" d="M906.8 495.3l8.8 -5l-6.4 1.2l-8.8 5.7z"/>
<path fill="#00d19f" stroke-width="2.2" stroke-opacity="1" d="M898 499.9l8.8 -4.6l-6.4 1.9l-8.8 5z"/>
<path fill="#00d1a3" stroke-width="2.2" stroke-opacity="1" d="M889.2 503.9l8.8 -4l-6.4 2.3l-8.8 4.3z"/>
<path fill="#00d2a6" stroke-width="2.2" stroke-opacity="1" d="M880.4 507.2l8.8 -3.3l-6.4 2.6l-8.8 3.7z"/>
<path fill="#00d2a7" stroke-width="2.2" stroke-opacity="1" d="M871.6 510l8.8 -2.8l-6.4 3l-8.8 2.8z"/>
<path fill="#00d2a6" stroke-width="2.2" stroke-opacity="1" d="M862.9 512.2l8.7 -2.2l-6.4 3l-8.7 2.1z"/>
<path fill="#00d1a3" stroke-width="2.2" stroke-opacity="1" d="M854.1 513.7l8.8 -1.5l-6.4 2.9l-8.8 1.3z"/>
<path fill="#00d19f" stroke-width="2.2" stroke-opacity="1" d="M845.3 514.7l8.8 -1l-6.4 2.7l-8.8 .6z"/>
<path fill="#00d199" stroke-width="2.2" stroke-opacity="1" d="M836.5 515.1l8.8 -.4l-6.4 2.3l-8.8 -.1z"/>
<path fill="#00d091" stroke-width="2.2" stroke-opacity="1" d="M827.7 514.9l8.8 .2l-6.4 1.8l-8.8 -.7z"/>
<path fill="#00d087" stroke-width="2.2" stroke-opacity="1" d="M818.9 514.4l8.8 .5l-6.4 1.3l-8.8 -1.3z"/>
<path fill="#00cf7d" stroke-width="2.2" stroke-opacity="1" d="M810.1 513.5l8.8 .9l-6.4 .5l-8.8 -1.7z"/>
<path fill="#00ce72" stroke-width="2.2" stroke-opacity="1" d="M801.4 512.3l8.7 1.2l-6.4 -.3l-8.7 -2.1z"/>
<path fill="#00ce66" stroke-width="2.2" stroke-opacity="1" d="M792.6 510.9l8.8 1.4l-6.4 -1.2l-8.8 -2.3z"/>
<path fill="#00cd5a" stroke-width="2.2" stroke-opacity="1" d="M783.8 509.4l8.8 1.5l-6.4 -2.1l-8.8 -2.5z"/>
<path fill="#12d254" stroke-width="2.2" stroke-opacity="1" d="M775 507.9l8.8 1.5l-6.4 -3.1l-8.8 -2.4z"/>
<path fill="#24d64e" stroke-width="1.65" stroke-opacity="1" d="M766.2 506.5l8.8 1.4l-6.4 -4l-8.8 -2.3z"/>
<path fill="#35da48" stroke-width="1.65" stroke-opacity="1" d="M757.4 505.3l8.8 1.2l-6.4 -4.9l-8.8 -2.1z"/>
<path fill="#45de43" stroke-width="1.86" stroke-opacity="0.85" d="M748.6 504.4l8.8 .9l-6.4 -5.8l-8.8 -1.7z"/>
<path fill="#53e23e" stroke-width="2.08" stroke-opacity="0.71" d="M739.9 503.8l8.7 .6l-6.4 -6.6l-8.7 -1.3z"/>
<path fill="#5fe53a" stroke-width="2.29" stroke-opacity="0.56" d="M731.1 503.7l8.8 .1l-6.4 -7.3l-8.8 -.8z"/>
<path fill="#68e737" stroke-width="2.29" stroke-opacity="0.56" d="M722.3 504.1l8.8 -.4l-6.4 -8l-8.8 -.1z"/>
<path fill="#6fe935" stroke-width="2.5" stroke-opacity="0.42" d="M713.5 505.1l8.8 -1l-6.4 -8.5l-8.8 .6z"/>
<path fill="#74ea33" stroke-width="2.5" stroke-opacity="0.42" d="M704.7 506.6l8.8 -1.5l-6.4 -8.9l-8.8 1.3z"/>
<path fill="#75ea33" stroke-width="2.5" stroke-opacity="0.42" d="M695.9 508.7l8.8 -2.1l-6.4 -9.1l-8.8 2.1z"/>
<path fill="#74ea33" stroke-width="2.5" stroke-opacity="0.42" d="M687.1 511.5l8.8 -2.8l-6.4 -9.1l-8.8 2.9z"/>
<path fill="#6fe935" stroke-width="2.5" stroke-opacity="0.42" d="M678.4 514.9l8.7 -3.4l-6.4 -9l-8.7 3.6z"/>
<path fill="#68e737" stroke-width="2.5" stroke-opacity="0.42" d="M669.6 518.9l8.8 -4l-6.4 -8.8l-8.8 4.3z"/>
<path fill="#5fe53a" stroke-width="2.5" stroke-opacity="0.42" d="M660.8 523.4l8.8 -4.5l-6.4 -8.5l-8.8 5.1z"/>
<path fill="#53e23e" stroke-width="2.5" stroke-opacity="0.42" d="M652 528.5l8.8 -5.1l-6.4 -7.9l-8.8 5.6z"/>
<path fill="#45de43" stroke-width="2.5" stroke-opacity="0.42" d="M643.2 534l8.8 -5.5l-6.4 -7.4l-8.8 6.2z"/>
<path fill="#35da48" stroke-width="2.5" stroke-opacity="0.42" d="M634.4 539.8l8.8 -5.8l-6.4 -6.7l-8.8 6.7z"/>
<path fill="#24d64e" stroke-width="2.5" stroke-opacity="0.42" d="M625.6 546l8.8 -6.2l-6.4 -5.8l-8.8 7z"/>
<path fill="#12d254" stroke-width="2.5" stroke-opacity="0.42" d="M616.9 552.3l8.7 -6.3l-6.4 -5l-8.7 7.3z"/>
<path fill="#00cd5a" stroke-width="2.29" stroke-opacity="0.56" d="M608.1 558.7l8.8 -6.4l-6.4 -4l-8.8 7.3z"/>
<path fill="#00ce66" stroke-width="2.08" stroke-opacity="0.71" d="M599.3 565.1l8.8 -6.4l-6.4 -3.1l-8.8 7.4z"/>
<path fill="#00ce72" stroke-width="1.86" stroke-opacity="0.85" d="M590.5 571.5l8.8 -6.4l-6.4 -2.1l-8.8 7.3z"/>
<path fill="#00cf7d" stroke-width="1.65" stroke-opacity="1" d="M581.7 577.6l8.8 -6.1l-6.4 -1.2l-8.8 7z"/>
<path fill="#00d087" stroke-width="1.65" stroke-opacity="1" d="M572.9 583.4l8.8 -5.8l-6.4 -.3l-8.8 6.6z"/>
<path fill="#00d091" stroke-width="1.65" stroke-opacity="1" d="M564.1 588.9l8.8 -5.5l-6.4 .5l-8.8 6.2z"/>
<path fill="#00d199" stroke-width="2.2" stroke-opacity="1" d="M555.4 594l8.7 -5.1l-6.4 1.2l-8.7 5.7z"/>
<path fill="#00d19f" stroke-width="2.2" stroke-opacity="1" d="M546.6 598.5l8.8 -4.5l-6.4 1.8l-8.8 5z"/>
<path fill="#00d1a3" stroke-width="2.2" stroke-opacity="1" d="M537.8 602.5l8.8 -4l-6.4 2.3l-8.8 4.4z"/>
<path fill="#00d2a6" stroke-width="2.2" stroke-opacity="1" d="M529 605.9l8.8 -3.4l-6.4 2.7l-8.8 3.6z"/>
<path fill="#00d2a7" stroke-width="2.2" stroke-opacity="1" d="M520.2 608.7l8.8 -2.8l-6.4 2.9l-8.8 2.9z"/>
<path fill="#00d2a6" stroke-width="2.2" stroke-opacity="1" d="M511.4 610.8l8.8 -2.1l-6.4 3l-8.8 2z"/>
<path fill="#00d1a3" stroke-width="2.2" stroke-opacity="1" d="M502.6 612.4l8.8 -1.6l-6.4 2.9l-8.8 1.4z"/>
<path fill="#00d19f" stroke-width="2.2" stroke-opacity="1" d="M493.9 613.3l8.7 -.9l-6.4 2.7l-8.7 .5z"/>
<path fill="#00d199" stroke-width="2.2" stroke-opacity="1" d="M485.1 613.7l8.8 -.4l-6.4 2.3l-8.8 -.1z"/>
<path fill="#00d091" stroke-width="2.2" stroke-opacity="1" d="M476.3 613.6l8.8 .1l-6.4 1.8l-8.8 -.7z"/>
<path fill="#00d087" stroke-width="2.2" stroke-opacity="1" d="M467.5 613l8.8 .6l-6.4 1.2l-8.8 -1.3z"/>
<path fill="#00cf7d" stroke-width="2.2" stroke-opacity="1" d="M458.7 612.1l8.8 .9l-6.4 .5l-8.8 -1.7z"/>
<path fill="#00ce72" stroke-width="2.2" stroke-opacity="1" d="M449.9 610.9l8.8 1.2l-6.4 -.3l-8.8 -2.1z"/>
<path fill="#00ce66" stroke-width="2.2" stroke-opacity="1" d="M441.1 609.5l8.8 1.4l-6.4 -1.2l-8.8 -2.3z"/>
<path fill="#00cd5a" stroke-width="2.2" stroke-opacity="1" d="M432.4 608l8.7 1.5l-6.4 -2.1l-8.7 -2.4z"/>
<path fill="#12d254" stroke-width="2.2" stroke-opacity="1" d="M423.6 606.5l8.8 1.5l-6.4 -3l-8.8 -2.5z"/>
<path fill="#24d64e" stroke-width="1.65" stroke-opacity="1" d="M414.8 605.2l8.8 1.3l-6.4 -4l-8.8 -2.3z"/>
<path fill="#35da48" stroke-width="1.65" stroke-opacity="1" d="M406 603.9l8.8 1.3l-6.4 -5l-8.8 -2.1z"/>
<path fill="#45de43" stroke-width="1.86" stroke-opacity="0.85" d="M397.2 603l8.8 .9l-6.4 -5.8l-8.8 -1.7z"/>
<path fill="#53e23e" stroke-width="2.08" stroke-opacity="0.71" d="M388.4 602.5l8.8 .5l-6.4 -6.6l-8.8 -1.3z"/>
<path fill="#5fe53a" stroke-width="2.29" stroke-opacity="0.56" d="M379.6 602.4l8.8 .1l-6.4 -7.4l-8.8 -.7z"/>
<path fill="#68e737" stroke-width="2.29" stroke-opacity="0.56" d="M370.9 602.8l8.7 -.4l-6.4 -8l-8.7 -.1z"/>
<path fill="#6fe935" stroke-width="2.5" stroke-opacity="0.42" d="M362.1 603.7l8.8 -.9l-6.4 -8.5l-8.8 .6z"/>
<path fill="#74ea33" stroke-width="2.5" stroke-opacity="0.42" d="M353.3 605.2l8.8 -1.5l-6.4 -8.8l-8.8 1.3z"/>
<path fill="#75ea33" stroke-width="2.5" stroke-opacity="0.42" d="M344.5 607.4l8.8 -2.2l-6.4 -9l-8.8 2.1z"/>
<path fill="#5de43b" stroke-width="2.5" stroke-opacity="0.42" d="M1045 420.8l8.8 -2.7l-6.4 -8l-8.8 2.8z"/>
<path fill="#5ae33c" stroke-width="2.5" stroke-opacity="0.42" d="M1036.2 424l8.8 -3.2l-6.4 -7.9l-8.8 3.4z"/>
<path fill="#54e23e" stroke-width="2.5" stroke-opacity="0.42" d="M1027.4 427.7l8.8 -3.7l-6.4 -7.7l-8.8 4z"/>
<path fill="#4ce041" stroke-width="2.5" stroke-opacity="0.42" d="M1018.6 431.8l8.8 -4.1l-6.4 -7.4l-8.8 4.5z"/>
<path fill="#43de44" stroke-width="2.5" stroke-opacity="0.42" d="M1009.8 436.4l8.8 -4.6l-6.4 -7l-8.8 5z"/>
<path fill="#38db47" stroke-width="2.5" stroke-opacity="0.42" d="M1001 441.3l8.8 -4.9l-6.4 -6.6l-8.8 5.5z"/>
<path fill="#2bd84c" stroke-width="2.5" stroke-opacity="0.42" d="M992.3 446.5l8.7 -5.2l-6.4 -6l-8.7 5.9z"/>
<path fill="#1dd450" stroke-width="2.5" stroke-opacity="0.42" d="M983.5 451.9l8.8 -5.4l-6.4 -5.3l-8.8 6.1z"/>
<path fill="#0fd155" stroke-width="2.29" stroke-opacity="0.56" d="M974.7 457.5l8.8 -5.6l-6.4 -4.6l-8.8 6.3z"/>
<path fill="#00cd5a" stroke-width="2.29" stroke-opacity="0.56" d="M965.9 463.1l8.8 -5.6l-6.4 -3.9l-8.8 6.5z"/>
<path fill="#00ce64" stroke-width="2.08" stroke-opacity="0.71" d="M957.1 468.8l8.8 -5.7l-6.4 -3l-8.8 6.4z"/>
<path fill="#00ce6d" stroke-width="1.86" stroke-opacity="0.85" d="M948.3 474.4l8.8 -5.6l-6.4 -2.3l-8.8 6.3z"/>
<path fill="#00cf76" stroke-width="1.86" stroke-opacity="0.85" d="M939.5 479.8l8.8 -5.4l-6.4 -1.6l-8.8 6.1z"/>
<path fill="#00cf7f" stroke-width="1.65" stroke-opacity="1" d="M930.8 485l8.7 -5.2l-6.4 -.9l-8.7 5.9z"/>
<path fill="#00d086" stroke-width="1.65" stroke-opacity="1" d="M922 489.9l8.8 -4.9l-6.4 -.2l-8.8 5.5z"/>
<path fill="#00d08c" stroke-width="2.2" stroke-opacity="1" d="M913.2 494.4l8.8 -4.5l-6.4 .4l-8.8 5z"/>
<path fill="#00d092" stroke-width="2.2" stroke-opacity="1" d="M904.4 498.6l8.8 -4.2l-6.4 .9l-8.8 4.6z"/>
<path fill="#00d195" stroke-width="2.2" stroke-opacity="1" d="M895.6 502.3l8.8 -3.7l-6.4 1.3l-8.8 4z"/>
<path fill="#00d198" stroke-width="2.2" stroke-opacity="1" d="M886.8 505.5l8.8 -3.2l-6.4 1.6l-8.8 3.3zM878 508.2l8.8 -2.7l-6.4 1.7l-8.8 2.8zM869.3 510.4l8.7 -2.2l-6.4 1.8l-8.7 2.2z"/>
<path fill="#00d195" stroke-width="2.2" stroke-opacity="1" d="M860.5 512.1l8.8 -1.7l-6.4 1.8l-8.8 1.5z"/>
<path fill="#00d092" stroke-width="2.2" stroke-opacity="1" d="M851.7 513.4l8.8 -1.3l-6.4 1.6l-8.8 1z"/>
<path fill="#00d08c" stroke-width="2.2" stroke-opacity="1" d="M842.9 514.2l8.8 -.8l-6.4 1.3l-8.8 .4z"/>
<path fill="#00d086" stroke-width="2.2" stroke-opacity="1" d="M834.1 514.6l8.8 -.4l-6.4 .9l-8.8 -.2z"/>
<path fill="#00cf7f" stroke-width="2.2" stroke-opacity="1" d="M825.3 514.6l8.8 0l-6.4 .3l-8.8 -.5z"/>
<path fill="#00cf76" stroke-width="2.2" stroke-opacity="1" d="M816.5 514.3l8.8 .3l-6.4 -.2l-8.8 -.9z"/>
<path fill="#00ce6d" stroke-width="2.2" stroke-opacity="1" d="M807.8 513.8l8.7 .5l-6.4 -.8l-8.7 -1.2z"/>
<path fill="#00ce64" stroke-width="2.2" stroke-opacity="1" d="M799 513.2l8.8 .6l-6.4 -1.5l-8.8 -1.4z"/>
<path fill="#00cd5a" stroke-width="2.2" stroke-opacity="1" d="M790.2 512.5l8.8 .7l-6.4 -2.3l-8.8 -1.5z"/>
<path fill="#0fd155" stroke-width="1.65" stroke-opacity="1" d="M781.4 511.7l8.8 .8l-6.4 -3.1l-8.8 -1.5z"/>
<path fill="#1dd450" stroke-width="1.65" stroke-opacity="1" d="M772.6 511.1l8.8 .6l-6.4 -3.8l-8.8 -1.4z"/>
<path fill="#2bd84c" stroke-width="1.65" stroke-opacity="1" d="M763.8 510.6l8.8 .5l-6.4 -4.6l-8.8 -1.2z"/>
<path fill="#38db47" stroke-width="1.86" stroke-opacity="0.85" d="M755 510.3l8.8 .3l-6.4 -5.3l-8.8 -.9z"/>
<path fill="#43de44" stroke-width="2.08" stroke-opacity="0.71" d="M746.3 510.4l8.7 -.1l-6.4 -5.9l-8.7 -.6z"/>
<path fill="#4ce041" stroke-width="2.29" stroke-opacity="0.56" d="M737.5 510.7l8.8 -.3l-6.4 -6.6l-8.8 -.1z"/>
<path fill="#54e23e" stroke-width="2.29" stroke-opacity="0.56" d="M728.7 511.5l8.8 -.8l-6.4 -7l-8.8 .4z"/>
<path fill="#5ae33c" stroke-width="2.5" stroke-opacity="0.42" d="M719.9 512.8l8.8 -1.3l-6.4 -7.4l-8.8 1z"/>
<path fill="#5de43b" stroke-width="2.5" stroke-opacity="0.42" d="M711.1 514.5l8.8 -1.7l-6.4 -7.7l-8.8 1.5z"/>
<path fill="#5ee53b" stroke-width="2.5" stroke-opacity="0.42" d="M702.3 516.7l8.8 -2.2l-6.4 -7.9l-8.8 2.1z"/>
<path fill="#5de43b" stroke-width="2.5" stroke-opacity="0.42" d="M693.5 519.4l8.8 -2.7l-6.4 -8l-8.8 2.8z"/>
<path fill="#5ae33c" stroke-width="2.5" stroke-opacity="0.42" d="M684.8 522.6l8.7 -3.2l-6.4 -7.9l-8.7 3.4z"/>
<path fill="#54e23e" stroke-width="2.5" stroke-opacity="0.42" d="M676 526.3l8.8 -3.7l-6.4 -7.7l-8.8 4z"/>
<path fill="#4ce041" stroke-width="2.5" stroke-opacity="0.42" d="M667.2 530.5l8.8 -4.2l-6.4 -7.4l-8.8 4.5z"/>
<path fill="#43de44" stroke-width="2.5" stroke-opacity="0.42" d="M658.4 535l8.8 -4.5l-6.4 -7.1l-8.8 5.1z"/>
<path fill="#38db47" stroke-width="2.5" stroke-opacity="0.42" d="M649.6 539.9l8.8 -4.9l-6.4 -6.5l-8.8 5.5z"/>
<path fill="#2bd84c" stroke-width="2.5" stroke-opacity="0.42" d="M640.8 545.1l8.8 -5.2l-6.4 -5.9l-8.8 5.8z"/>
<path fill="#1dd450" stroke-width="2.5" stroke-opacity="0.42" d="M632 550.5l8.8 -5.4l-6.4 -5.3l-8.8 6.2z"/>
<path fill="#0fd155" stroke-width="2.29" stroke-opacity="0.56" d="M623.3 556.1l8.7 -5.6l-6.4 -4.5l-8.7 6.3z"/>
<path fill="#00cd5a" stroke-width="2.29" stroke-opacity="0.56" d="M614.5 561.8l8.8 -5.7l-6.4 -3.8l-8.8 6.4z"/>
<path fill="#00ce64" stroke-width="2.08" stroke-opacity="0.71" d="M605.7 567.4l8.8 -5.6l-6.4 -3.1l-8.8 6.4z"/>
<path fill="#00ce6d" stroke-width="1.86" stroke-opacity="0.85" d="M596.9 573l8.8 -5.6l-6.4 -2.3l-8.8 6.4z"/>
<path fill="#00cf76" stroke-width="1.86" stroke-opacity="0.85" d="M588.1 578.5l8.8 -5.5l-6.4 -1.5l-8.8 6.1z"/>
<path fill="#00cf7f" stroke-width="1.65" stroke-opacity="1" d="M579.3 583.6l8.8 -5.1l-6.4 -.9l-8.8 5.8z"/>
<path fill="#00d086" stroke-width="1.65" stroke-opacity="1" d="M570.5 588.6l8.8 -5l-6.4 -.2l-8.8 5.5z"/>
<path fill="#00d08c" stroke-width="2.2" stroke-opacity="1" d="M561.8 593.1l8.7 -4.5l-6.4 .3l-8.7 5.1z"/>
<path fill="#00d092" stroke-width="2.2" stroke-opacity="1" d="M553 597.2l8.8 -4.1l-6.4 .9l-8.8 4.5z"/>
<path fill="#00d195" stroke-width="2.2" stroke-opacity="1" d="M544.2 600.9l8.8 -3.7l-6.4 1.3l-8.8 4z"/>
<path fill="#00d198" stroke-width="2.2" stroke-opacity="1" d="M535.4 604.1l8.8 -3.2l-6.4 1.6l-8.8 3.4zM526.6 606.9l8.8 -2.8l-6.4 1.8l-8.8 2.8zM517.8 609.1l8.8 -2.2l-6.4 1.8l-8.8 2.1z"/>
<path fill="#00d195" stroke-width="2.2" stroke-opacity="1" d="M509 610.8l8.8 -1.7l-6.4 1.7l-8.8 1.6z"/>
<path fill="#00d092" stroke-width="2.2" stroke-opacity="1" d="M500.3 612l8.7 -1.2l-6.4 1.6l-8.7 .9z"/>
<path fill="#00d08c" stroke-width="2.2" stroke-opacity="1" d="M491.5 612.8l8.8 -.8l-6.4 1.3l-8.8 .4z"/>
<path fill="#00d086" stroke-width="2.2" stroke-opacity="1" d="M482.7 613.2l8.8 -.4l-6.4 .9l-8.8 -.1z"/>
<path fill="#00cf7f" stroke-width="2.2" stroke-opacity="1" d="M473.9 613.2l8.8 0l-6.4 .4l-8.8 -.6z"/>
<path fill="#00cf76" stroke-width="2.2" stroke-opacity="1" d="M465.1 613l8.8 .2l-6.4 -.2l-8.8 -.9z"/>
<path fill="#00ce6d" stroke-width="2.2" stroke-opacity="1" d="M456.3 612.5l8.8 .5l-6.4 -.9l-8.8 -1.2z"/>
<path fill="#00ce64" stroke-width="2.2" stroke-opacity="1" d="M447.5 611.8l8.8 .7l-6.4 -1.6l-8.8 -1.4z"/>
<path fill="#00cd5a" stroke-width="2.2" stroke-opacity="1" d="M438.8 611.1l8.7 .7l-6.4 -2.3l-8.7 -1.5z"/>
<path fill="#0fd155" stroke-width="1.65" stroke-opacity="1" d="M430 610.4l8.8 .7l-6.4 -3.1l-8.8 -1.5z"/>
<path fill="#1dd450" stroke-width="1.65" stroke-opacity="1" d="M421.2 609.7l8.8 .7l-6.4 -3.9l-8.8 -1.3z"/>
<path fill="#2bd84c" stroke-width="1.65" stroke-opacity="1" d="M412.4 609.2l8.8 .5l-6.4 -4.5l-8.8 -1.3z"/>
<path fill="#38db47" stroke-width="1.86" stroke-opacity="0.85" d="M403.6 609l8.8 .2l-6.4 -5.3l-8.8 -.9z"/>
<path fill="#43de44" stroke-width="2.08" stroke-opacity="0.71" d="M394.8 609l8.8 0l-6.4 -6l-8.8 -.5z"/>
<path fill="#4ce041" stroke-width="2.29" stroke-opacity="0.56" d="M386 609.4l8.8 -.4l-6.4 -6.5l-8.8 -.1z"/>
<path fill="#54e23e" stroke-width="2.29" stroke-opacity="0.56" d="M377.3 610.2l8.7 -.8l-6.4 -7l-8.7 .4z"/>
<path fill="#5ae33c" stroke-width="2.5" stroke-opacity="0.42" d="M368.5 611.4l8.8 -1.2l-6.4 -7.4l-8.8 .9z"/>
<path fill="#5de43b" stroke-width="2.5" stroke-opacity="0.42" d="M359.7 613.1l8.8 -1.7l-6.4 -7.7l-8.8 1.5z"/>
<path fill="#5ee53b" stroke-width="2.5" stroke-opacity="0.42" d="M350.9 615.4l8.8 -2.3l-6.4 -7.9l-8.8 2.2z"/>
<path fill="#4be041" stroke-width="2.5" stroke-opacity="0.42" d="M1051.4 427.7l8.8 -2.6l-6.4 -7l-8.8 2.7z"/>
<path fill="#48df42" stroke-width="2.5" stroke-opacity="0.42" d="M1042.6 430.8l8.8 -3.1l-6.4 -6.9l-8.8 3.2z"/>
<path fill="#44de43" stroke-width="2.5" stroke-opacity="0.42" d="M1033.8 434.3l8.8 -3.5l-6.4 -6.8l-8.8 3.7z"/>
<path fill="#3edc45" stroke-width="2.5" stroke-opacity="0.42" d="M1025 438.1l8.8 -3.8l-6.4 -6.6l-8.8 4.1z"/>
<path fill="#36da48" stroke-width="2.5" stroke-opacity="0.42" d="M1016.2 442.2l8.8 -4.1l-6.4 -6.3l-8.8 4.6z"/>
<path fill="#2dd84b" stroke-width="2.5" stroke-opacity="0.42" d="M1007.4 446.7l8.8 -4.5l-6.4 -5.8l-8.8 4.9z"/>
<path fill="#23d64e" stroke-width="2.5" stroke-opacity="0.42" d="M998.7 451.3l8.7 -4.6l-6.4 -5.4l-8.7 5.2z"/>
<path fill="#18d352" stroke-width="2.5" stroke-opacity="0.42" d="M989.9 456.2l8.8 -4.9l-6.4 -4.8l-8.8 5.4z"/>
<path fill="#0cd056" stroke-width="2.29" stroke-opacity="0.56" d="M981.1 461.2l8.8 -5l-6.4 -4.3l-8.8 5.6z"/>
<path fill="#00cd5a" stroke-width="2.08" stroke-opacity="0.71" d="M972.3 466.2l8.8 -5l-6.4 -3.7l-8.8 5.6z"/>
<path fill="#00cd62" stroke-width="2.08" stroke-opacity="0.71" d="M963.5 471.2l8.8 -5l-6.4 -3.1l-8.8 5.7z"/>
<path fill="#00ce6a" stroke-width="1.86" stroke-opacity="0.85" d="M954.7 476.2l8.8 -5l-6.4 -2.4l-8.8 5.6z"/>
<path fill="#00ce71" stroke-width="1.86" stroke-opacity="0.85" d="M945.9 481.1l8.8 -4.9l-6.4 -1.8l-8.8 5.4z"/>
<path fill="#00cf78" stroke-width="1.65" stroke-opacity="1" d="M937.2 485.8l8.7 -4.7l-6.4 -1.3l-8.7 5.2z"/>
<path fill="#00cf7e" stroke-width="1.65" stroke-opacity="1" d="M928.4 490.2l8.8 -4.4l-6.4 -.8l-8.8 4.9z"/>
<path fill="#00cf83" stroke-width="1.65" stroke-opacity="1" d="M919.6 494.3l8.8 -4.1l-6.4 -.3l-8.8 4.5z"/>
<path fill="#00d087" stroke-width="2.2" stroke-opacity="1" d="M910.8 498.1l8.8 -3.8l-6.4 .1l-8.8 4.2z"/>
<path fill="#00d08a" stroke-width="2.2" stroke-opacity="1" d="M902 501.6l8.8 -3.5l-6.4 .5l-8.8 3.7z"/>
<path fill="#00d08c" stroke-width="2.2" stroke-opacity="1" d="M893.2 504.7l8.8 -3.1l-6.4 .7l-8.8 3.2zM884.4 507.3l8.8 -2.6l-6.4 .8l-8.8 2.7zM875.7 509.6l8.7 -2.3l-6.4 .9l-8.7 2.2z"/>
<path fill="#00d08a" stroke-width="2.2" stroke-opacity="1" d="M866.9 511.5l8.8 -1.9l-6.4 .8l-8.8 1.7z"/>
<path fill="#00d087" stroke-width="2.2" stroke-opacity="1" d="M858.1 512.9l8.8 -1.4l-6.4 .6l-8.8 1.3z"/>
<path fill="#00cf83" stroke-width="2.2" stroke-opacity="1" d="M849.3 514.1l8.8 -1.2l-6.4 .5l-8.8 .8z"/>
<path fill="#00cf7e" stroke-width="2.2" stroke-opacity="1" d="M840.5 514.8l8.8 -.7l-6.4 .1l-8.8 .4z"/>
<path fill="#00cf78" stroke-width="2.2" stroke-opacity="1" d="M831.7 515.3l8.8 -.5l-6.4 -.2l-8.8 0z"/>
<path fill="#00ce71" stroke-width="2.2" stroke-opacity="1" d="M822.9 515.6l8.8 -.3l-6.4 -.7l-8.8 -.3z"/>
<path fill="#00ce6a" stroke-width="2.2" stroke-opacity="1" d="M814.2 515.7l8.7 -.1l-6.4 -1.3l-8.7 -.5z"/>
<path fill="#00cd62" stroke-width="2.2" stroke-opacity="1" d="M805.4 515.6l8.8 .1l-6.4 -1.9l-8.8 -.6z"/>
<path fill="#00cd5a" stroke-width="2.2" stroke-opacity="1" d="M796.6 515.5l8.8 .1l-6.4 -2.4l-8.8 -.7z"/>
<path fill="#0cd056" stroke-width="1.65" stroke-opacity="1" d="M787.8 515.4l8.8 .1l-6.4 -3l-8.8 -.8z"/>
<path fill="#18d352" stroke-width="1.65" stroke-opacity="1" d="M779 515.4l8.8 0l-6.4 -3.7l-8.8 -.6z"/>
<path fill="#23d64e" stroke-width="1.65" stroke-opacity="1" d="M770.2 515.4l8.8 0l-6.4 -4.3l-8.8 -.5z"/>
<path fill="#2dd84b" stroke-width="1.86" stroke-opacity="0.85" d="M761.4 515.7l8.8 -.3l-6.4 -4.8l-8.8 -.3z"/>
<path fill="#36da48" stroke-width="2.08" stroke-opacity="0.71" d="M752.7 516.2l8.7 -.5l-6.4 -5.4l-8.7 .1z"/>
<path fill="#3edc45" stroke-width="2.29" stroke-opacity="0.56" d="M743.9 517l8.8 -.8l-6.4 -5.8l-8.8 .3z"/>
<path fill="#44de43" stroke-width="2.29" stroke-opacity="0.56" d="M735.1 518.1l8.8 -1.1l-6.4 -6.3l-8.8 .8z"/>
<path fill="#48df42" stroke-width="2.5" stroke-opacity="0.42" d="M726.3 519.6l8.8 -1.5l-6.4 -6.6l-8.8 1.3z"/>
<path fill="#4be041" stroke-width="2.5" stroke-opacity="0.42" d="M717.5 521.5l8.8 -1.9l-6.4 -6.8l-8.8 1.7z"/>
<path fill="#4ce041" stroke-width="2.5" stroke-opacity="0.42" d="M708.7 523.7l8.8 -2.2l-6.4 -7l-8.8 2.2z"/>
<path fill="#4be041" stroke-width="2.5" stroke-opacity="0.42" d="M699.9 526.4l8.8 -2.7l-6.4 -7l-8.8 2.7z"/>
<path fill="#48df42" stroke-width="2.5" stroke-opacity="0.42" d="M691.2 529.5l8.7 -3.1l-6.4 -7l-8.7 3.2z"/>
<path fill="#44de43" stroke-width="2.5" stroke-opacity="0.42" d="M682.4 532.9l8.8 -3.4l-6.4 -6.9l-8.8 3.7z"/>
<path fill="#3edc45" stroke-width="2.5" stroke-opacity="0.42" d="M673.6 536.7l8.8 -3.8l-6.4 -6.6l-8.8 4.2z"/>
<path fill="#36da48" stroke-width="2.5" stroke-opacity="0.42" d="M664.8 540.9l8.8 -4.2l-6.4 -6.2l-8.8 4.5z"/>
<path fill="#2dd84b" stroke-width="2.5" stroke-opacity="0.42" d="M656 545.3l8.8 -4.4l-6.4 -5.9l-8.8 4.9z"/>
<path fill="#23d64e" stroke-width="2.5" stroke-opacity="0.42" d="M647.2 550l8.8 -4.7l-6.4 -5.4l-8.8 5.2z"/>
<path fill="#18d352" stroke-width="2.5" stroke-opacity="0.42" d="M638.4 554.8l8.8 -4.8l-6.4 -4.9l-8.8 5.4z"/>
<path fill="#0cd056" stroke-width="2.29" stroke-opacity="0.56" d="M629.7 559.8l8.7 -5l-6.4 -4.3l-8.7 5.6z"/>
<path fill="#00cd5a" stroke-width="2.08" stroke-opacity="0.71" d="M620.9 564.9l8.8 -5.1l-6.4 -3.7l-8.8 5.7z"/>
<path fill="#00cd62" stroke-width="2.08" stroke-opacity="0.71" d="M612.1 569.9l8.8 -5l-6.4 -3.1l-8.8 5.6z"/>
<path fill="#00ce6a" stroke-width="1.86" stroke-opacity="0.85" d="M603.3 574.9l8.8 -5l-6.4 -2.5l-8.8 5.6z"/>
<path fill="#00ce71" stroke-width="1.86" stroke-opacity="0.85" d="M594.5 579.7l8.8 -4.8l-6.4 -1.9l-8.8 5.5z"/>
<path fill="#00cf78" stroke-width="1.65" stroke-opacity="1" d="M585.7 584.4l8.8 -4.7l-6.4 -1.2l-8.8 5.1z"/>
<path fill="#00cf7e" stroke-width="1.65" stroke-opacity="1" d="M576.9 588.8l8.8 -4.4l-6.4 -.8l-8.8 5z"/>
<path fill="#00cf83" stroke-width="1.65" stroke-opacity="1" d="M568.2 593l8.7 -4.2l-6.4 -.2l-8.7 4.5z"/>
<path fill="#00d087" stroke-width="2.2" stroke-opacity="1" d="M559.4 596.8l8.8 -3.8l-6.4 .1l-8.8 4.1z"/>
<path fill="#00d08a" stroke-width="2.2" stroke-opacity="1" d="M550.6 600.3l8.8 -3.5l-6.4 .4l-8.8 3.7z"/>
<path fill="#00d08c" stroke-width="2.2" stroke-opacity="1" d="M541.8 603.3l8.8 -3l-6.4 .6l-8.8 3.2zM533 606l8.8 -2.7l-6.4 .8l-8.8 2.8zM524.2 608.3l8.8 -2.3l-6.4 .9l-8.8 2.2z"/>
<path fill="#00d08a" stroke-width="2.2" stroke-opacity="1" d="M515.4 610.1l8.8 -1.8l-6.4 .8l-8.8 1.7z"/>
<path fill="#00d087" stroke-width="2.2" stroke-opacity="1" d="M506.7 611.6l8.7 -1.5l-6.4 .7l-8.7 1.2z"/>
<path fill="#00cf83" stroke-width="2.2" stroke-opacity="1" d="M497.9 612.7l8.8 -1.1l-6.4 .4l-8.8 .8z"/>
<path fill="#00cf7e" stroke-width="2.2" stroke-opacity="1" d="M489.1 613.5l8.8 -.8l-6.4 .1l-8.8 .4z"/>
<path fill="#00cf78" stroke-width="2.2" stroke-opacity="1" d="M480.3 614l8.8 -.5l-6.4 -.3l-8.8 0z"/>
<path fill="#00ce71" stroke-width="2.2" stroke-opacity="1" d="M471.5 614.3l8.8 -.3l-6.4 -.8l-8.8 -.2z"/>
<path fill="#00ce6a" stroke-width="2.2" stroke-opacity="1" d="M462.7 614.3l8.8 0l-6.4 -1.3l-8.8 -.5z"/>
<path fill="#00cd62" stroke-width="2.2" stroke-opacity="1" d="M453.9 614.3l8.8 0l-6.4 -1.8l-8.8 -.7z"/>
<path fill="#00cd5a" stroke-width="2.2" stroke-opacity="1" d="M445.2 614.2l8.7 .1l-6.4 -2.5l-8.7 -.7z"/>
<path fill="#0cd056" stroke-width="1.65" stroke-opacity="1" d="M436.4 614.1l8.8 .1l-6.4 -3.1l-8.8 -.7z"/>
<path fill="#18d352" stroke-width="1.65" stroke-opacity="1" d="M427.6 614l8.8 .1l-6.4 -3.7l-8.8 -.7z"/>
<path fill="#23d64e" stroke-width="1.65" stroke-opacity="1" d="M418.8 614.1l8.8 -.1l-6.4 -4.3l-8.8 -.5z"/>
<path fill="#2dd84b" stroke-width="1.86" stroke-opacity="0.85" d="M410 614.4l8.8 -.3l-6.4 -4.9l-8.8 -.2z"/>
<path fill="#36da48" stroke-width="2.08" stroke-opacity="0.71" d="M401.2 614.9l8.8 -.5l-6.4 -5.4l-8.8 0z"/>
<path fill="#3edc45" stroke-width="2.29" stroke-opacity="0.56" d="M392.4 615.6l8.8 -.7l-6.4 -5.9l-8.8 .4z"/>
<path fill="#44de43" stroke-width="2.29" stroke-opacity="0.56" d="M383.7 616.8l8.7 -1.2l-6.4 -6.2l-8.7 .8z"/>
<path fill="#48df42" stroke-width="2.5" stroke-opacity="0.42" d="M374.9 618.2l8.8 -1.4l-6.4 -6.6l-8.8 1.2z"/>
<path fill="#4be041" stroke-width="2.5" stroke-opacity="0.42" d="M366.1 620.1l8.8 -1.9l-6.4 -6.8l-8.8 1.7z"/>
<path fill="#4ce041" stroke-width="2.5" stroke-opacity="0.42" d="M357.3 622.4l8.8 -2.3l-6.4 -7l-8.8 2.3z"/>
<path fill="#3ddc46" stroke-width="2.5" stroke-opacity="0.42" d="M1057.8 433.9l8.8 -2.6l-6.4 -6.2l-8.8 2.6z"/>
<path fill="#3bdc46" stroke-width="2.5" stroke-opacity="0.42" d="M1049 436.9l8.8 -3l-6.4 -6.2l-8.8 3.1z"/>
<path fill="#37db48" stroke-width="2.5" stroke-opacity="0.42" d="M1040.2 440.2l8.8 -3.3l-6.4 -6.1l-8.8 3.5z"/>
<path fill="#32d949" stroke-width="2.5" stroke-opacity="0.42" d="M1031.4 443.7l8.8 -3.5l-6.4 -5.9l-8.8 3.8z"/>
<path fill="#2bd84c" stroke-width="2.5" stroke-opacity="0.42" d="M1022.6 447.5l8.8 -3.8l-6.4 -5.6l-8.8 4.1z"/>
<path fill="#24d64e" stroke-width="2.5" stroke-opacity="0.42" d="M1013.8 451.6l8.8 -4.1l-6.4 -5.3l-8.8 4.5z"/>
<path fill="#1cd451" stroke-width="2.29" stroke-opacity="0.56" d="M1005.1 455.8l8.7 -4.2l-6.4 -4.9l-8.7 4.6z"/>
<path fill="#13d254" stroke-width="2.29" stroke-opacity="0.56" d="M996.3 460.2l8.8 -4.4l-6.4 -4.5l-8.8 4.9z"/>
<path fill="#0acf57" stroke-width="2.29" stroke-opacity="0.56" d="M987.5 464.7l8.8 -4.5l-6.4 -4l-8.8 5z"/>
<path fill="#00cd5a" stroke-width="2.08" stroke-opacity="0.71" d="M978.7 469.3l8.8 -4.6l-6.4 -3.5l-8.8 5z"/>
<path fill="#00cd60" stroke-width="2.08" stroke-opacity="0.71" d="M969.9 473.8l8.8 -4.5l-6.4 -3.1l-8.8 5z"/>
<path fill="#00ce67" stroke-width="1.86" stroke-opacity="0.85" d="M961.1 478.3l8.8 -4.5l-6.4 -2.6l-8.8 5z"/>
<path fill="#00ce6c" stroke-width="1.86" stroke-opacity="0.85" d="M952.3 482.7l8.8 -4.4l-6.4 -2.1l-8.8 4.9z"/>
<path fill="#00ce72" stroke-width="1.65" stroke-opacity="1" d="M943.6 487l8.7 -4.3l-6.4 -1.6l-8.7 4.7z"/>
<path fill="#00cf77" stroke-width="1.65" stroke-opacity="1" d="M934.8 491l8.8 -4l-6.4 -1.2l-8.8 4.4z"/>
<path fill="#00cf7b" stroke-width="1.65" stroke-opacity="1" d="M926 494.8l8.8 -3.8l-6.4 -.8l-8.8 4.1z"/>
<path fill="#00cf7e" stroke-width="1.65" stroke-opacity="1" d="M917.2 498.4l8.8 -3.6l-6.4 -.5l-8.8 3.8z"/>
<path fill="#00cf81" stroke-width="2.2" stroke-opacity="1" d="M908.4 501.6l8.8 -3.2l-6.4 -.3l-8.8 3.5z"/>
<path fill="#00cf82" stroke-width="2.2" stroke-opacity="1" d="M899.6 504.6l8.8 -3l-6.4 0l-8.8 3.1z"/>
<path fill="#00cf83" stroke-width="2.2" stroke-opacity="1" d="M890.8 507.2l8.8 -2.6l-6.4 .1l-8.8 2.6z"/>
<path fill="#00cf82" stroke-width="2.2" stroke-opacity="1" d="M882.1 509.5l8.7 -2.3l-6.4 .1l-8.7 2.3z"/>
<path fill="#00cf81" stroke-width="2.2" stroke-opacity="1" d="M873.3 511.5l8.8 -2l-6.4 .1l-8.8 1.9z"/>
<path fill="#00cf7e" stroke-width="2.2" stroke-opacity="1" d="M864.5 513.2l8.8 -1.7l-6.4 0l-8.8 1.4z"/>
<path fill="#00cf7b" stroke-width="2.2" stroke-opacity="1" d="M855.7 514.6l8.8 -1.4l-6.4 -.3l-8.8 1.2z"/>
<path fill="#00cf77" stroke-width="2.2" stroke-opacity="1" d="M846.9 515.7l8.8 -1.1l-6.4 -.5l-8.8 .7z"/>
<path fill="#00ce72" stroke-width="2.2" stroke-opacity="1" d="M838.1 516.5l8.8 -.8l-6.4 -.9l-8.8 .5z"/>
<path fill="#00ce6c" stroke-width="2.2" stroke-opacity="1" d="M829.3 517.2l8.8 -.7l-6.4 -1.2l-8.8 .3z"/>
<path fill="#00ce67" stroke-width="2.2" stroke-opacity="1" d="M820.6 517.8l8.7 -.6l-6.4 -1.6l-8.7 .1z"/>
<path fill="#00cd60" stroke-width="2.2" stroke-opacity="1" d="M811.8 518.2l8.8 -.4l-6.4 -2.1l-8.8 -.1z"/>
<path fill="#00cd5a" stroke-width="1.65" stroke-opacity="1" d="M803 518.6l8.8 -.4l-6.4 -2.6l-8.8 -.1z"/>
<path fill="#0acf57" stroke-width="1.65" stroke-opacity="1" d="M794.2 519l8.8 -.4l-6.4 -3.1l-8.8 -.1z"/>
<path fill="#13d254" stroke-width="1.65" stroke-opacity="1" d="M785.4 519.4l8.8 -.4l-6.4 -3.6l-8.8 0z"/>
<path fill="#1cd451" stroke-width="1.86" stroke-opacity="0.85" d="M776.6 520l8.8 -.6l-6.4 -4l-8.8 0z"/>
<path fill="#24d64e" stroke-width="1.86" stroke-opacity="0.85" d="M767.8 520.6l8.8 -.6l-6.4 -4.6l-8.8 .3z"/>
<path fill="#2bd84c" stroke-width="2.08" stroke-opacity="0.71" d="M759.1 521.5l8.7 -.9l-6.4 -4.9l-8.7 .5z"/>
<path fill="#32d949" stroke-width="2.08" stroke-opacity="0.71" d="M750.3 522.6l8.8 -1.1l-6.4 -5.3l-8.8 .8z"/>
<path fill="#37db48" stroke-width="2.29" stroke-opacity="0.56" d="M741.5 524l8.8 -1.4l-6.4 -5.6l-8.8 1.1z"/>
<path fill="#3bdc46" stroke-width="2.29" stroke-opacity="0.56" d="M732.7 525.7l8.8 -1.7l-6.4 -5.9l-8.8 1.5z"/>
<path fill="#3ddc46" stroke-width="2.5" stroke-opacity="0.42" d="M723.9 527.7l8.8 -2l-6.4 -6.1l-8.8 1.9z"/>
<path fill="#3edc45" stroke-width="2.5" stroke-opacity="0.42" d="M715.1 530l8.8 -2.3l-6.4 -6.2l-8.8 2.2z"/>
<path fill="#3ddc46" stroke-width="2.5" stroke-opacity="0.42" d="M706.3 532.6l8.8 -2.6l-6.4 -6.3l-8.8 2.7z"/>
<path fill="#3bdc46" stroke-width="2.5" stroke-opacity="0.42" d="M697.6 535.5l8.7 -2.9l-6.4 -6.2l-8.7 3.1z"/>
<path fill="#37db48" stroke-width="2.5" stroke-opacity="0.42" d="M688.8 538.8l8.8 -3.3l-6.4 -6l-8.8 3.4z"/>
<path fill="#32d949" stroke-width="2.5" stroke-opacity="0.42" d="M680 542.4l8.8 -3.6l-6.4 -5.9l-8.8 3.8z"/>
<path fill="#2bd84c" stroke-width="2.5" stroke-opacity="0.42" d="M671.2 546.2l8.8 -3.8l-6.4 -5.7l-8.8 4.2z"/>
<path fill="#24d64e" stroke-width="2.5" stroke-opacity="0.42" d="M662.4 550.2l8.8 -4l-6.4 -5.3l-8.8 4.4z"/>
<path fill="#1cd451" stroke-width="2.29" stroke-opacity="0.56" d="M653.6 554.5l8.8 -4.3l-6.4 -4.9l-8.8 4.7z"/>
<path fill="#13d254" stroke-width="2.29" stroke-opacity="0.56" d="M644.8 558.9l8.8 -4.4l-6.4 -4.5l-8.8 4.8z"/>
<path fill="#0acf57" stroke-width="2.29" stroke-opacity="0.56" d="M636.1 563.4l8.7 -4.5l-6.4 -4.1l-8.7 5z"/>
<path fill="#00cd5a" stroke-width="2.08" stroke-opacity="0.71" d="M627.3 567.9l8.8 -4.5l-6.4 -3.6l-8.8 5.1z"/>
<path fill="#00cd60" stroke-width="2.08" stroke-opacity="0.71" d="M618.5 572.5l8.8 -4.6l-6.4 -3l-8.8 5z"/>
<path fill="#00ce67" stroke-width="1.86" stroke-opacity="0.85" d="M609.7 577l8.8 -4.5l-6.4 -2.6l-8.8 5z"/>
<path fill="#00ce6c" stroke-width="1.86" stroke-opacity="0.85" d="M600.9 581.4l8.8 -4.4l-6.4 -2.1l-8.8 4.8z"/>
<path fill="#00ce72" stroke-width="1.65" stroke-opacity="1" d="M592.1 585.6l8.8 -4.2l-6.4 -1.7l-8.8 4.7z"/>
<path fill="#00cf77" stroke-width="1.65" stroke-opacity="1" d="M583.3 589.7l8.8 -4.1l-6.4 -1.2l-8.8 4.4z"/>
<path fill="#00cf7b" stroke-width="1.65" stroke-opacity="1" d="M574.6 593.5l8.7 -3.8l-6.4 -.9l-8.7 4.2z"/>
<path fill="#00cf7e" stroke-width="1.65" stroke-opacity="1" d="M565.8 597l8.8 -3.5l-6.4 -.5l-8.8 3.8z"/>
<path fill="#00cf81" stroke-width="2.2" stroke-opacity="1" d="M557 600.3l8.8 -3.3l-6.4 -.2l-8.8 3.5z"/>
<path fill="#00cf82" stroke-width="2.2" stroke-opacity="1" d="M548.2 603.2l8.8 -2.9l-6.4 0l-8.8 3z"/>
<path fill="#00cf83" stroke-width="2.2" stroke-opacity="1" d="M539.4 605.9l8.8 -2.7l-6.4 .1l-8.8 2.7z"/>
<path fill="#00cf82" stroke-width="2.2" stroke-opacity="1" d="M530.6 608.2l8.8 -2.3l-6.4 .1l-8.8 2.3z"/>
<path fill="#00cf81" stroke-width="2.2" stroke-opacity="1" d="M521.8 610.2l8.8 -2l-6.4 .1l-8.8 1.8z"/>
<path fill="#00cf7e" stroke-width="2.2" stroke-opacity="1" d="M513.1 611.8l8.7 -1.6l-6.4 -.1l-8.7 1.5z"/>
<path fill="#00cf7b" stroke-width="2.2" stroke-opacity="1" d="M504.3 613.2l8.8 -1.4l-6.4 -.2l-8.8 1.1z"/>
<path fill="#00cf77" stroke-width="2.2" stroke-opacity="1" d="M495.5 614.3l8.8 -1.1l-6.4 -.5l-8.8 .8z"/>
<path fill="#00ce72" stroke-width="2.2" stroke-opacity="1" d="M486.7 615.2l8.8 -.9l-6.4 -.8l-8.8 .5z"/>
<path fill="#00ce6c" stroke-width="2.2" stroke-opacity="1" d="M477.9 615.9l8.8 -.7l-6.4 -1.2l-8.8 .3z"/>
<path fill="#00ce67" stroke-width="2.2" stroke-opacity="1" d="M469.1 616.4l8.8 -.5l-6.4 -1.6l-8.8 0z"/>
<path fill="#00cd60" stroke-width="2.2" stroke-opacity="1" d="M460.3 616.9l8.8 -.5l-6.4 -2.1l-8.8 0z"/>
<path fill="#00cd5a" stroke-width="1.65" stroke-opacity="1" d="M451.6 617.2l8.7 -.3l-6.4 -2.6l-8.7 -.1z"/>
<path fill="#0acf57" stroke-width="1.65" stroke-opacity="1" d="M442.8 617.6l8.8 -.4l-6.4 -3l-8.8 -.1z"/>
<path fill="#13d254" stroke-width="1.65" stroke-opacity="1" d="M434 618.1l8.8 -.5l-6.4 -3.5l-8.8 -.1z"/>
<path fill="#1cd451" stroke-width="1.86" stroke-opacity="0.85" d="M425.2 618.6l8.8 -.5l-6.4 -4.1l-8.8 .1z"/>
<path fill="#24d64e" stroke-width="1.86" stroke-opacity="0.85" d="M416.4 619.3l8.8 -.7l-6.4 -4.5l-8.8 .3z"/>
<path fill="#2bd84c" stroke-width="2.08" stroke-opacity="0.71" d="M407.6 620.2l8.8 -.9l-6.4 -4.9l-8.8 .5z"/>
<path fill="#32d949" stroke-width="2.08" stroke-opacity="0.71" d="M398.8 621.3l8.8 -1.1l-6.4 -5.3l-8.8 .7z"/>
<path fill="#37db48" stroke-width="2.29" stroke-opacity="0.56" d="M390.1 622.7l8.7 -1.4l-6.4 -5.7l-8.7 1.2z"/>
<path fill="#3bdc46" stroke-width="2.29" stroke-opacity="0.56" d="M381.3 624.3l8.8 -1.6l-6.4 -5.9l-8.8 1.4z"/>
<path fill="#3ddc46" stroke-width="2.5" stroke-opacity="0.42" d="M372.5 626.3l8.8 -2l-6.4 -6.1l-8.8 1.9z"/>
<path fill="#3edc45" stroke-width="2.5" stroke-opacity="0.42" d="M363.7 628.6l8.8 -2.3l-6.4 -6.2l-8.8 2.3z"/>
<path fill="#31d94a" stroke-width="2.5" stroke-opacity="0.42" d="M1064.2 439.5l8.8 -2.5l-6.4 -5.7l-8.8 2.6z"/>
<path fill="#2fd94a" stroke-width="2.5" stroke-opacity="0.42" d="M1055.4 442.4l8.8 -2.9l-6.4 -5.6l-8.8 3z"/>
<path fill="#2cd84b" stroke-width="2.5" stroke-opacity="0.42" d="M1046.6 445.5l8.8 -3.1l-6.4 -5.5l-8.8 3.3z"/>
<path fill="#28d74d" stroke-width="2.5" stroke-opacity="0.42" d="M1037.8 448.9l8.8 -3.4l-6.4 -5.3l-8.8 3.5z"/>
<path fill="#23d64e" stroke-width="2.5" stroke-opacity="0.42" d="M1029 452.4l8.8 -3.5l-6.4 -5.2l-8.8 3.8z"/>
<path fill="#1dd450" stroke-width="2.29" stroke-opacity="0.56" d="M1020.2 456.2l8.8 -3.8l-6.4 -4.9l-8.8 4.1z"/>
<path fill="#17d352" stroke-width="2.29" stroke-opacity="0.56" d="M1011.5 460.1l8.7 -3.9l-6.4 -4.6l-8.7 4.2z"/>
<path fill="#0fd155" stroke-width="2.29" stroke-opacity="0.56" d="M1002.7 464.1l8.8 -4l-6.4 -4.3l-8.8 4.4z"/>
<path fill="#08cf57" stroke-width="2.08" stroke-opacity="0.71" d="M993.9 468.2l8.8 -4.1l-6.4 -3.9l-8.8 4.5z"/>
<path fill="#00cd5a" stroke-width="2.08" stroke-opacity="0.71" d="M985.1 472.3l8.8 -4.1l-6.4 -3.5l-8.8 4.6z"/>
<path fill="#00cd5f" stroke-width="2.08" stroke-opacity="0.71" d="M976.3 476.5l8.8 -4.2l-6.4 -3l-8.8 4.5z"/>
<path fill="#00ce64" stroke-width="1.86" stroke-opacity="0.85" d="M967.5 480.6l8.8 -4.1l-6.4 -2.7l-8.8 4.5z"/>
<path fill="#00ce69" stroke-width="1.86" stroke-opacity="0.85" d="M958.7 484.6l8.8 -4l-6.4 -2.3l-8.8 4.4z"/>
<path fill="#00ce6d" stroke-width="1.65" stroke-opacity="1" d="M950 488.5l8.7 -3.9l-6.4 -1.9l-8.7 4.3z"/>
<path fill="#00ce71" stroke-width="1.65" stroke-opacity="1" d="M941.2 492.3l8.8 -3.8l-6.4 -1.5l-8.8 4z"/>
<path fill="#00cf75" stroke-width="1.65" stroke-opacity="1" d="M932.4 495.8l8.8 -3.5l-6.4 -1.3l-8.8 3.8z"/>
<path fill="#00cf77" stroke-width="1.65" stroke-opacity="1" d="M923.6 499.2l8.8 -3.4l-6.4 -1l-8.8 3.6z"/>
<path fill="#00cf79" stroke-width="1.65" stroke-opacity="1" d="M914.8 502.3l8.8 -3.1l-6.4 -.8l-8.8 3.2z"/>
<path fill="#00cf7a" stroke-width="2.2" stroke-opacity="1" d="M906 505.1l8.8 -2.8l-6.4 -.7l-8.8 3z"/>
<path fill="#00cf7b" stroke-width="2.2" stroke-opacity="1" d="M897.2 507.7l8.8 -2.6l-6.4 -.5l-8.8 2.6z"/>
<path fill="#00cf7a" stroke-width="2.2" stroke-opacity="1" d="M888.5 510.1l8.7 -2.4l-6.4 -.5l-8.7 2.3z"/>
<path fill="#00cf79" stroke-width="2.2" stroke-opacity="1" d="M879.7 512.1l8.8 -2l-6.4 -.6l-8.8 2z"/>
<path fill="#00cf77" stroke-width="2.2" stroke-opacity="1" d="M870.9 514l8.8 -1.9l-6.4 -.6l-8.8 1.7z"/>
<path fill="#00cf75" stroke-width="2.2" stroke-opacity="1" d="M862.1 515.5l8.8 -1.5l-6.4 -.8l-8.8 1.4z"/>
<path fill="#00ce71" stroke-width="2.2" stroke-opacity="1" d="M853.3 516.9l8.8 -1.4l-6.4 -.9l-8.8 1.1z"/>
<path fill="#00ce6d" stroke-width="2.2" stroke-opacity="1" d="M844.5 518.1l8.8 -1.2l-6.4 -1.2l-8.8 .8z"/>
<path fill="#00ce69" stroke-width="2.2" stroke-opacity="1" d="M835.7 519.1l8.8 -1l-6.4 -1.6l-8.8 .7z"/>
<path fill="#00ce64" stroke-width="1.65" stroke-opacity="1" d="M827 520l8.7 -.9l-6.4 -1.9l-8.7 .6z"/>
<path fill="#00cd5f" stroke-width="1.65" stroke-opacity="1" d="M818.2 520.9l8.8 -.9l-6.4 -2.2l-8.8 .4z"/>
<path fill="#00cd5a" stroke-width="1.65" stroke-opacity="1" d="M809.4 521.7l8.8 -.8l-6.4 -2.7l-8.8 .4z"/>
<path fill="#08cf57" stroke-width="1.65" stroke-opacity="1" d="M800.6 522.5l8.8 -.8l-6.4 -3.1l-8.8 .4z"/>
<path fill="#0fd155" stroke-width="1.65" stroke-opacity="1" d="M791.8 523.3l8.8 -.8l-6.4 -3.5l-8.8 .4z"/>
<path fill="#17d352" stroke-width="1.86" stroke-opacity="0.85" d="M783 524.2l8.8 -.9l-6.4 -3.9l-8.8 .6z"/>
<path fill="#1dd450" stroke-width="1.86" stroke-opacity="0.85" d="M774.2 525.2l8.8 -1l-6.4 -4.2l-8.8 .6z"/>
<path fill="#23d64e" stroke-width="2.08" stroke-opacity="0.71" d="M765.5 526.4l8.7 -1.2l-6.4 -4.6l-8.7 .9z"/>
<path fill="#28d74d" stroke-width="2.08" stroke-opacity="0.71" d="M756.7 527.8l8.8 -1.4l-6.4 -4.9l-8.8 1.1z"/>
<path fill="#2cd84b" stroke-width="2.29" stroke-opacity="0.56" d="M747.9 529.4l8.8 -1.6l-6.4 -5.2l-8.8 1.4z"/>
<path fill="#2fd94a" stroke-width="2.29" stroke-opacity="0.56" d="M739.1 531.2l8.8 -1.8l-6.4 -5.4l-8.8 1.7z"/>
<path fill="#31d94a" stroke-width="2.29" stroke-opacity="0.56" d="M730.3 533.3l8.8 -2.1l-6.4 -5.5l-8.8 2z"/>
<path fill="#32d949" stroke-width="2.5" stroke-opacity="0.42" d="M721.5 535.6l8.8 -2.3l-6.4 -5.6l-8.8 2.3z"/>
<path fill="#31d94a" stroke-width="2.5" stroke-opacity="0.42" d="M712.7 538.2l8.8 -2.6l-6.4 -5.6l-8.8 2.6z"/>
<path fill="#2fd94a" stroke-width="2.5" stroke-opacity="0.42" d="M704 541.1l8.7 -2.9l-6.4 -5.6l-8.7 2.9z"/>
<path fill="#2cd84b" stroke-width="2.5" stroke-opacity="0.42" d="M695.2 544.2l8.8 -3.1l-6.4 -5.6l-8.8 3.3z"/>
<path fill="#28d74d" stroke-width="2.5" stroke-opacity="0.42" d="M686.4 547.5l8.8 -3.3l-6.4 -5.4l-8.8 3.6z"/>
<path fill="#23d64e" stroke-width="2.5" stroke-opacity="0.42" d="M677.6 551.1l8.8 -3.6l-6.4 -5.1l-8.8 3.8z"/>
<path fill="#1dd450" stroke-width="2.29" stroke-opacity="0.56" d="M668.8 554.8l8.8 -3.7l-6.4 -4.9l-8.8 4z"/>
<path fill="#17d352" stroke-width="2.29" stroke-opacity="0.56" d="M660 558.7l8.8 -3.9l-6.4 -4.6l-8.8 4.3z"/>
<path fill="#0fd155" stroke-width="2.29" stroke-opacity="0.56" d="M651.2 562.7l8.8 -4l-6.4 -4.2l-8.8 4.4z"/>
<path fill="#08cf57" stroke-width="2.08" stroke-opacity="0.71" d="M642.5 566.8l8.7 -4.1l-6.4 -3.8l-8.7 4.5z"/>
<path fill="#00cd5a" stroke-width="2.08" stroke-opacity="0.71" d="M633.7 571l8.8 -4.2l-6.4 -3.4l-8.8 4.5z"/>
<path fill="#00cd5f" stroke-width="2.08" stroke-opacity="0.71" d="M624.9 575.1l8.8 -4.1l-6.4 -3.1l-8.8 4.6z"/>
<path fill="#00ce64" stroke-width="1.86" stroke-opacity="0.85" d="M616.1 579.2l8.8 -4.1l-6.4 -2.6l-8.8 4.5z"/>
<path fill="#00ce69" stroke-width="1.86" stroke-opacity="0.85" d="M607.3 583.3l8.8 -4.1l-6.4 -2.2l-8.8 4.4z"/>
<path fill="#00ce6d" stroke-width="1.65" stroke-opacity="1" d="M598.5 587.2l8.8 -3.9l-6.4 -1.9l-8.8 4.2z"/>
<path fill="#00ce71" stroke-width="1.65" stroke-opacity="1" d="M589.7 590.9l8.8 -3.7l-6.4 -1.6l-8.8 4.1z"/>
<path fill="#00cf75" stroke-width="1.65" stroke-opacity="1" d="M581 594.5l8.7 -3.6l-6.4 -1.2l-8.7 3.8z"/>
<path fill="#00cf77" stroke-width="1.65" stroke-opacity="1" d="M572.2 597.8l8.8 -3.3l-6.4 -1l-8.8 3.5z"/>
<path fill="#00cf79" stroke-width="1.65" stroke-opacity="1" d="M563.4 600.9l8.8 -3.1l-6.4 -.8l-8.8 3.3z"/>
<path fill="#00cf7a" stroke-width="2.2" stroke-opacity="1" d="M554.6 603.8l8.8 -2.9l-6.4 -.6l-8.8 2.9z"/>
<path fill="#00cf7b" stroke-width="2.2" stroke-opacity="1" d="M545.8 606.4l8.8 -2.6l-6.4 -.6l-8.8 2.7z"/>
<path fill="#00cf7a" stroke-width="2.2" stroke-opacity="1" d="M537 608.7l8.8 -2.3l-6.4 -.5l-8.8 2.3z"/>
<path fill="#00cf79" stroke-width="2.2" stroke-opacity="1" d="M528.2 610.8l8.8 -2.1l-6.4 -.5l-8.8 2z"/>
<path fill="#00cf77" stroke-width="2.2" stroke-opacity="1" d="M519.5 612.6l8.7 -1.8l-6.4 -.6l-8.7 1.6z"/>
<path fill="#00cf75" stroke-width="2.2" stroke-opacity="1" d="M510.7 614.2l8.8 -1.6l-6.4 -.8l-8.8 1.4z"/>
<path fill="#00ce71" stroke-width="2.2" stroke-opacity="1" d="M501.9 615.6l8.8 -1.4l-6.4 -1l-8.8 1.1z"/>
<path fill="#00ce6d" stroke-width="2.2" stroke-opacity="1" d="M493.1 616.8l8.8 -1.2l-6.4 -1.3l-8.8 .9z"/>
<path fill="#00ce69" stroke-width="2.2" stroke-opacity="1" d="M484.3 617.8l8.8 -1l-6.4 -1.6l-8.8 .7z"/>
<path fill="#00ce64" stroke-width="1.65" stroke-opacity="1" d="M475.5 618.7l8.8 -.9l-6.4 -1.9l-8.8 .5z"/>
<path fill="#00cd5f" stroke-width="1.65" stroke-opacity="1" d="M466.7 619.5l8.8 -.8l-6.4 -2.3l-8.8 .5z"/>
<path fill="#00cd5a" stroke-width="1.65" stroke-opacity="1" d="M458 620.3l8.7 -.8l-6.4 -2.6l-8.7 .3z"/>
<path fill="#08cf57" stroke-width="1.65" stroke-opacity="1" d="M449.2 621.1l8.8 -.8l-6.4 -3.1l-8.8 .4z"/>
<path fill="#0fd155" stroke-width="1.65" stroke-opacity="1" d="M440.4 621.9l8.8 -.8l-6.4 -3.5l-8.8 .5z"/>
<path fill="#17d352" stroke-width="1.86" stroke-opacity="0.85" d="M431.6 622.8l8.8 -.9l-6.4 -3.8l-8.8 .5z"/>
<path fill="#1dd450" stroke-width="1.86" stroke-opacity="0.85" d="M422.8 623.9l8.8 -1.1l-6.4 -4.2l-8.8 .7z"/>
<path fill="#23d64e" stroke-width="2.08" stroke-opacity="0.71" d="M414 625.1l8.8 -1.2l-6.4 -4.6l-8.8 .9z"/>
<path fill="#28d74d" stroke-width="2.08" stroke-opacity="0.71" d="M405.2 626.4l8.8 -1.3l-6.4 -4.9l-8.8 1.1z"/>
<path fill="#2cd84b" stroke-width="2.29" stroke-opacity="0.56" d="M396.5 628l8.7 -1.6l-6.4 -5.1l-8.7 1.4z"/>
<path fill="#2fd94a" stroke-width="2.29" stroke-opacity="0.56" d="M387.7 629.8l8.8 -1.8l-6.4 -5.3l-8.8 1.6z"/>
<path fill="#31d94a" stroke-width="2.29" stroke-opacity="0.56" d="M378.9 631.9l8.8 -2.1l-6.4 -5.5l-8.8 2z"/>
<path fill="#32d949" stroke-width="2.5" stroke-opacity="0.42" d="M370.1 634.3l8.8 -2.4l-6.4 -5.6l-8.8 2.3z"/>
<path fill="#28d74d" stroke-width="2.29" stroke-opacity="0.56" d="M1070.6 444.7l8.8 -2.6l-6.4 -5.1l-8.8 2.5z"/>
<path fill="#26d74d" stroke-width="2.29" stroke-opacity="0.56" d="M1061.8 447.4l8.8 -2.7l-6.4 -5.2l-8.8 2.9z"/>
<path fill="#24d64e" stroke-width="2.29" stroke-opacity="0.56" d="M1053 450.4l8.8 -3l-6.4 -5l-8.8 3.1z"/>
<path fill="#20d54f" stroke-width="2.29" stroke-opacity="0.56" d="M1044.2 453.6l8.8 -3.2l-6.4 -4.9l-8.8 3.4z"/>
<path fill="#1cd451" stroke-width="2.29" stroke-opacity="0.56" d="M1035.4 457l8.8 -3.4l-6.4 -4.7l-8.8 3.5z"/>
<path fill="#18d352" stroke-width="2.29" stroke-opacity="0.56" d="M1026.6 460.5l8.8 -3.5l-6.4 -4.6l-8.8 3.8z"/>
<path fill="#12d254" stroke-width="2.29" stroke-opacity="0.56" d="M1017.9 464.1l8.7 -3.6l-6.4 -4.3l-8.7 3.9z"/>
<path fill="#0cd056" stroke-width="2.08" stroke-opacity="0.71" d="M1009.1 467.8l8.8 -3.7l-6.4 -4l-8.8 4z"/>
<path fill="#06cf58" stroke-width="2.08" stroke-opacity="0.71" d="M1000.3 471.6l8.8 -3.8l-6.4 -3.7l-8.8 4.1z"/>
<path fill="#00cd5a" stroke-width="2.08" stroke-opacity="0.71" d="M991.5 475.4l8.8 -3.8l-6.4 -3.4l-8.8 4.1z"/>
<path fill="#00cd5e" stroke-width="1.86" stroke-opacity="0.85" d="M982.7 479.2l8.8 -3.8l-6.4 -3.1l-8.8 4.2z"/>
<path fill="#00cd62" stroke-width="1.86" stroke-opacity="0.85" d="M973.9 483l8.8 -3.8l-6.4 -2.7l-8.8 4.1z"/>
<path fill="#00ce66" stroke-width="1.86" stroke-opacity="0.85" d="M965.1 486.7l8.8 -3.7l-6.4 -2.4l-8.8 4z"/>
<path fill="#00ce6a" stroke-width="1.65" stroke-opacity="1" d="M956.4 490.4l8.7 -3.7l-6.4 -2.1l-8.7 3.9z"/>
<path fill="#00ce6d" stroke-width="1.65" stroke-opacity="1" d="M947.6 493.9l8.8 -3.5l-6.4 -1.9l-8.8 3.8z"/>
<path fill="#00ce6f" stroke-width="1.65" stroke-opacity="1" d="M938.8 497.2l8.8 -3.3l-6.4 -1.6l-8.8 3.5z"/>
<path fill="#00ce72" stroke-width="1.65" stroke-opacity="1" d="M930 500.4l8.8 -3.2l-6.4 -1.4l-8.8 3.4z"/>
<path fill="#00cf73" stroke-width="1.65" stroke-opacity="1" d="M921.2 503.4l8.8 -3l-6.4 -1.2l-8.8 3.1z"/>
<path fill="#00cf74" stroke-width="1.65" stroke-opacity="1" d="M912.4 506.2l8.8 -2.8l-6.4 -1.1l-8.8 2.8zM903.6 508.7l8.8 -2.5l-6.4 -1.1l-8.8 2.6zM894.9 511.1l8.7 -2.4l-6.4 -1l-8.7 2.4z"/>
<path fill="#00cf73" stroke-width="2.2" stroke-opacity="1" d="M886.1 513.2l8.8 -2.1l-6.4 -1l-8.8 2z"/>
<path fill="#00ce72" stroke-width="2.2" stroke-opacity="1" d="M877.3 515.2l8.8 -2l-6.4 -1.1l-8.8 1.9z"/>
<path fill="#00ce6f" stroke-width="2.2" stroke-opacity="1" d="M868.5 516.9l8.8 -1.7l-6.4 -1.2l-8.8 1.5z"/>
<path fill="#00ce6d" stroke-width="2.2" stroke-opacity="1" d="M859.7 518.5l8.8 -1.6l-6.4 -1.4l-8.8 1.4z"/>
<path fill="#00ce6a" stroke-width="1.65" stroke-opacity="1" d="M850.9 520l8.8 -1.5l-6.4 -1.6l-8.8 1.2z"/>
<path fill="#00ce66" stroke-width="1.65" stroke-opacity="1" d="M842.1 521.3l8.8 -1.3l-6.4 -1.9l-8.8 1z"/>
<path fill="#00cd62" stroke-width="1.65" stroke-opacity="1" d="M833.4 522.5l8.7 -1.2l-6.4 -2.2l-8.7 .9z"/>
<path fill="#00cd5e" stroke-width="1.65" stroke-opacity="1" d="M824.6 523.6l8.8 -1.1l-6.4 -2.5l-8.8 .9z"/>
<path fill="#00cd5a" stroke-width="1.65" stroke-opacity="1" d="M815.8 524.7l8.8 -1.1l-6.4 -2.7l-8.8 .8z"/>
<path fill="#06cf58" stroke-width="1.65" stroke-opacity="1" d="M807 525.8l8.8 -1.1l-6.4 -3l-8.8 .8z"/>
<path fill="#0cd056" stroke-width="1.65" stroke-opacity="1" d="M798.2 527l8.8 -1.2l-6.4 -3.3l-8.8 .8z"/>
<path fill="#12d254" stroke-width="1.86" stroke-opacity="0.85" d="M789.4 528.2l8.8 -1.2l-6.4 -3.7l-8.8 .9z"/>
<path fill="#18d352" stroke-width="1.86" stroke-opacity="0.85" d="M780.6 529.5l8.8 -1.3l-6.4 -4l-8.8 1z"/>
<path fill="#1cd451" stroke-width="1.86" stroke-opacity="0.85" d="M771.9 530.9l8.7 -1.4l-6.4 -4.3l-8.7 1.2z"/>
<path fill="#20d54f" stroke-width="2.08" stroke-opacity="0.71" d="M763.1 532.5l8.8 -1.6l-6.4 -4.5l-8.8 1.4z"/>
<path fill="#24d64e" stroke-width="2.08" stroke-opacity="0.71" d="M754.3 534.3l8.8 -1.8l-6.4 -4.7l-8.8 1.6z"/>
<path fill="#26d74d" stroke-width="2.29" stroke-opacity="0.56" d="M745.5 536.2l8.8 -1.9l-6.4 -4.9l-8.8 1.8z"/>
<path fill="#28d74d" stroke-width="2.29" stroke-opacity="0.56" d="M736.7 538.4l8.8 -2.2l-6.4 -5l-8.8 2.1zM727.9 540.7l8.8 -2.3l-6.4 -5.1l-8.8 2.3zM719.1 543.3l8.8 -2.6l-6.4 -5.1l-8.8 2.6z"/>
<path fill="#26d74d" stroke-width="2.29" stroke-opacity="0.56" d="M710.4 546.1l8.7 -2.8l-6.4 -5.1l-8.7 2.9z"/>
<path fill="#24d64e" stroke-width="2.29" stroke-opacity="0.56" d="M701.6 549.1l8.8 -3l-6.4 -5l-8.8 3.1z"/>
<path fill="#20d54f" stroke-width="2.29" stroke-opacity="0.56" d="M692.8 552.3l8.8 -3.2l-6.4 -4.9l-8.8 3.3z"/>
<path fill="#1cd451" stroke-width="2.29" stroke-opacity="0.56" d="M684 555.6l8.8 -3.3l-6.4 -4.8l-8.8 3.6z"/>
<path fill="#18d352" stroke-width="2.29" stroke-opacity="0.56" d="M675.2 559.1l8.8 -3.5l-6.4 -4.5l-8.8 3.7z"/>
<path fill="#12d254" stroke-width="2.29" stroke-opacity="0.56" d="M666.4 562.7l8.8 -3.6l-6.4 -4.3l-8.8 3.9z"/>
<path fill="#0cd056" stroke-width="2.08" stroke-opacity="0.71" d="M657.6 566.5l8.8 -3.8l-6.4 -4l-8.8 4z"/>
<path fill="#06cf58" stroke-width="2.08" stroke-opacity="0.71" d="M648.9 570.2l8.7 -3.7l-6.4 -3.8l-8.7 4.1z"/>
<path fill="#00cd5a" stroke-width="2.08" stroke-opacity="0.71" d="M640.1 574.1l8.8 -3.9l-6.4 -3.4l-8.8 4.2z"/>
<path fill="#00cd5e" stroke-width="1.86" stroke-opacity="0.85" d="M631.3 577.9l8.8 -3.8l-6.4 -3.1l-8.8 4.1z"/>
<path fill="#00cd62" stroke-width="1.86" stroke-opacity="0.85" d="M622.5 581.7l8.8 -3.8l-6.4 -2.8l-8.8 4.1z"/>
<path fill="#00ce66" stroke-width="1.86" stroke-opacity="0.85" d="M613.7 585.4l8.8 -3.7l-6.4 -2.5l-8.8 4.1z"/>
<path fill="#00ce6a" stroke-width="1.65" stroke-opacity="1" d="M604.9 589l8.8 -3.6l-6.4 -2.1l-8.8 3.9z"/>
<path fill="#00ce6d" stroke-width="1.65" stroke-opacity="1" d="M596.1 592.5l8.8 -3.5l-6.4 -1.8l-8.8 3.7z"/>
<path fill="#00ce6f" stroke-width="1.65" stroke-opacity="1" d="M587.4 595.9l8.7 -3.4l-6.4 -1.6l-8.7 3.6z"/>
<path fill="#00ce72" stroke-width="1.65" stroke-opacity="1" d="M578.6 599l8.8 -3.1l-6.4 -1.4l-8.8 3.3z"/>
<path fill="#00cf73" stroke-width="1.65" stroke-opacity="1" d="M569.8 602l8.8 -3l-6.4 -1.2l-8.8 3.1z"/>
<path fill="#00cf74" stroke-width="1.65" stroke-opacity="1" d="M561 604.8l8.8 -2.8l-6.4 -1.1l-8.8 2.9zM552.2 607.4l8.8 -2.6l-6.4 -1l-8.8 2.6zM543.4 609.7l8.8 -2.3l-6.4 -1l-8.8 2.3z"/>
<path fill="#00cf73" stroke-width="2.2" stroke-opacity="1" d="M534.6 611.9l8.8 -2.2l-6.4 -1l-8.8 2.1z"/>
<path fill="#00ce72" stroke-width="2.2" stroke-opacity="1" d="M525.9 613.8l8.7 -1.9l-6.4 -1.1l-8.7 1.8z"/>
<path fill="#00ce6f" stroke-width="2.2" stroke-opacity="1" d="M517.1 615.6l8.8 -1.8l-6.4 -1.2l-8.8 1.6z"/>
<path fill="#00ce6d" stroke-width="2.2" stroke-opacity="1" d="M508.3 617.2l8.8 -1.6l-6.4 -1.4l-8.8 1.4z"/>
<path fill="#00ce6a" stroke-width="1.65" stroke-opacity="1" d="M499.5 618.6l8.8 -1.4l-6.4 -1.6l-8.8 1.2z"/>
<path fill="#00ce66" stroke-width="1.65" stroke-opacity="1" d="M490.7 619.9l8.8 -1.3l-6.4 -1.8l-8.8 1z"/>
<path fill="#00cd62" stroke-width="1.65" stroke-opacity="1" d="M481.9 621.1l8.8 -1.2l-6.4 -2.1l-8.8 .9z"/>
<path fill="#00cd5e" stroke-width="1.65" stroke-opacity="1" d="M473.1 622.3l8.8 -1.2l-6.4 -2.4l-8.8 .8z"/>
<path fill="#00cd5a" stroke-width="1.65" stroke-opacity="1" d="M464.4 623.4l8.7 -1.1l-6.4 -2.8l-8.7 .8z"/>
<path fill="#06cf58" stroke-width="1.65" stroke-opacity="1" d="M455.6 624.5l8.8 -1.1l-6.4 -3.1l-8.8 .8z"/>
<path fill="#0cd056" stroke-width="1.65" stroke-opacity="1" d="M446.8 625.6l8.8 -1.1l-6.4 -3.4l-8.8 .8z"/>
<path fill="#12d254" stroke-width="1.86" stroke-opacity="0.85" d="M438 626.9l8.8 -1.3l-6.4 -3.7l-8.8 .9z"/>
<path fill="#18d352" stroke-width="1.86" stroke-opacity="0.85" d="M429.2 628.2l8.8 -1.3l-6.4 -4.1l-8.8 1.1z"/>
<path fill="#1cd451" stroke-width="1.86" stroke-opacity="0.85" d="M420.4 629.6l8.8 -1.4l-6.4 -4.3l-8.8 1.2z"/>
<path fill="#20d54f" stroke-width="2.08" stroke-opacity="0.71" d="M411.6 631.2l8.8 -1.6l-6.4 -4.5l-8.8 1.3z"/>
<path fill="#24d64e" stroke-width="2.08" stroke-opacity="0.71" d="M402.9 632.9l8.7 -1.7l-6.4 -4.8l-8.7 1.6z"/>
<path fill="#26d74d" stroke-width="2.29" stroke-opacity="0.56" d="M394.1 634.9l8.8 -2l-6.4 -4.9l-8.8 1.8z"/>
<path fill="#28d74d" stroke-width="2.29" stroke-opacity="0.56" d="M385.3 637l8.8 -2.1l-6.4 -5.1l-8.8 2.1zM376.5 639.4l8.8 -2.4l-6.4 -5.1l-8.8 2.4z"/>
<path fill="#20d54f" stroke-width="2.29" stroke-opacity="0.56" d="M1077 449.4l8.8 -2.6l-6.4 -4.7l-8.8 2.6z"/>
<path fill="#1fd550" stroke-width="2.29" stroke-opacity="0.56" d="M1068.2 452.1l8.8 -2.7l-6.4 -4.7l-8.8 2.7z"/>
<path fill="#1dd450" stroke-width="2.29" stroke-opacity="0.56" d="M1059.4 455l8.8 -2.9l-6.4 -4.7l-8.8 3z"/>
<path fill="#1ad451" stroke-width="2.29" stroke-opacity="0.56" d="M1050.6 458l8.8 -3l-6.4 -4.6l-8.8 3.2z"/>
<path fill="#17d352" stroke-width="2.29" stroke-opacity="0.56" d="M1041.8 461.2l8.8 -3.2l-6.4 -4.4l-8.8 3.4z"/>
<path fill="#13d254" stroke-width="2.08" stroke-opacity="0.71" d="M1033 464.5l8.8 -3.3l-6.4 -4.2l-8.8 3.5z"/>
<path fill="#0fd155" stroke-width="2.08" stroke-opacity="0.71" d="M1024.3 467.9l8.7 -3.4l-6.4 -4l-8.7 3.6z"/>
<path fill="#0acf57" stroke-width="2.08" stroke-opacity="0.71" d="M1015.5 471.4l8.8 -3.5l-6.4 -3.8l-8.8 3.7z"/>
<path fill="#05ce58" stroke-width="2.08" stroke-opacity="0.71" d="M1006.7 474.9l8.8 -3.5l-6.4 -3.6l-8.8 3.8z"/>
<path fill="#00cd5a" stroke-width="2.08" stroke-opacity="0.71" d="M997.9 478.5l8.8 -3.6l-6.4 -3.3l-8.8 3.8z"/>
<path fill="#00cd5d" stroke-width="1.86" stroke-opacity="0.85" d="M989.1 482l8.8 -3.5l-6.4 -3.1l-8.8 3.8z"/>
<path fill="#00cd61" stroke-width="1.86" stroke-opacity="0.85" d="M980.3 485.6l8.8 -3.6l-6.4 -2.8l-8.8 3.8z"/>
<path fill="#00ce64" stroke-width="1.86" stroke-opacity="0.85" d="M971.5 489.1l8.8 -3.5l-6.4 -2.6l-8.8 3.7z"/>
<path fill="#00ce67" stroke-width="1.65" stroke-opacity="1" d="M962.8 492.5l8.7 -3.4l-6.4 -2.4l-8.7 3.7z"/>
<path fill="#00ce69" stroke-width="1.65" stroke-opacity="1" d="M954 495.8l8.8 -3.3l-6.4 -2.1l-8.8 3.5z"/>
<path fill="#00ce6b" stroke-width="1.65" stroke-opacity="1" d="M945.2 498.9l8.8 -3.1l-6.4 -1.9l-8.8 3.3z"/>
<path fill="#00ce6d" stroke-width="1.65" stroke-opacity="1" d="M936.4 502l8.8 -3.1l-6.4 -1.7l-8.8 3.2z"/>
<path fill="#00ce6e" stroke-width="1.65" stroke-opacity="1" d="M927.6 504.9l8.8 -2.9l-6.4 -1.6l-8.8 3z"/>
<path fill="#00ce6f" stroke-width="1.65" stroke-opacity="1" d="M918.8 507.6l8.8 -2.7l-6.4 -1.5l-8.8 2.8zM910 510.1l8.8 -2.5l-6.4 -1.4l-8.8 2.5zM901.3 512.5l8.7 -2.4l-6.4 -1.4l-8.7 2.4z"/>
<path fill="#00ce6e" stroke-width="1.65" stroke-opacity="1" d="M892.5 514.7l8.8 -2.2l-6.4 -1.4l-8.8 2.1z"/>
<path fill="#00ce6d" stroke-width="1.65" stroke-opacity="1" d="M883.7 516.8l8.8 -2.1l-6.4 -1.5l-8.8 2z"/>
<path fill="#00ce6b" stroke-width="1.65" stroke-opacity="1" d="M874.9 518.7l8.8 -1.9l-6.4 -1.6l-8.8 1.7z"/>
<path fill="#00ce69" stroke-width="1.65" stroke-opacity="1" d="M866.1 520.4l8.8 -1.7l-6.4 -1.8l-8.8 1.6z"/>
<path fill="#00ce67" stroke-width="1.65" stroke-opacity="1" d="M857.3 522l8.8 -1.6l-6.4 -1.9l-8.8 1.5z"/>
<path fill="#00ce64" stroke-width="1.65" stroke-opacity="1" d="M848.5 523.6l8.8 -1.6l-6.4 -2l-8.8 1.3z"/>
<path fill="#00cd61" stroke-width="1.65" stroke-opacity="1" d="M839.8 525l8.7 -1.4l-6.4 -2.3l-8.7 1.2z"/>
<path fill="#00cd5d" stroke-width="1.65" stroke-opacity="1" d="M831 526.4l8.8 -1.4l-6.4 -2.5l-8.8 1.1z"/>
<path fill="#00cd5a" stroke-width="1.65" stroke-opacity="1" d="M822.2 527.8l8.8 -1.4l-6.4 -2.8l-8.8 1.1z"/>
<path fill="#05ce58" stroke-width="1.65" stroke-opacity="1" d="M813.4 529.2l8.8 -1.4l-6.4 -3.1l-8.8 1.1z"/>
<path fill="#0acf57" stroke-width="1.65" stroke-opacity="1" d="M804.6 530.6l8.8 -1.4l-6.4 -3.4l-8.8 1.2z"/>
<path fill="#0fd155" stroke-width="1.86" stroke-opacity="0.85" d="M795.8 532l8.8 -1.4l-6.4 -3.6l-8.8 1.2z"/>
<path fill="#13d254" stroke-width="1.86" stroke-opacity="0.85" d="M787 533.6l8.8 -1.6l-6.4 -3.8l-8.8 1.3z"/>
<path fill="#17d352" stroke-width="1.86" stroke-opacity="0.85" d="M778.3 535.2l8.7 -1.6l-6.4 -4.1l-8.7 1.4z"/>
<path fill="#1ad451" stroke-width="2.08" stroke-opacity="0.71" d="M769.5 537l8.8 -1.8l-6.4 -4.3l-8.8 1.6z"/>
<path fill="#1dd450" stroke-width="2.08" stroke-opacity="0.71" d="M760.7 538.8l8.8 -1.8l-6.4 -4.5l-8.8 1.8z"/>
<path fill="#1fd550" stroke-width="2.08" stroke-opacity="0.71" d="M751.9 540.9l8.8 -2.1l-6.4 -4.5l-8.8 1.9z"/>
<path fill="#20d54f" stroke-width="2.08" stroke-opacity="0.71" d="M743.1 543.1l8.8 -2.2l-6.4 -4.7l-8.8 2.2z"/>
<path fill="#20d54f" stroke-width="2.29" stroke-opacity="0.56" d="M734.3 545.5l8.8 -2.4l-6.4 -4.7l-8.8 2.3zM725.5 548l8.8 -2.5l-6.4 -4.8l-8.8 2.6z"/>
<path fill="#1fd550" stroke-width="2.29" stroke-opacity="0.56" d="M716.8 550.8l8.7 -2.8l-6.4 -4.7l-8.7 2.8z"/>
<path fill="#1dd450" stroke-width="2.29" stroke-opacity="0.56" d="M708 553.6l8.8 -2.8l-6.4 -4.7l-8.8 3z"/>
<path fill="#1ad451" stroke-width="2.29" stroke-opacity="0.56" d="M699.2 556.7l8.8 -3.1l-6.4 -4.5l-8.8 3.2z"/>
<path fill="#17d352" stroke-width="2.29" stroke-opacity="0.56" d="M690.4 559.9l8.8 -3.2l-6.4 -4.4l-8.8 3.3z"/>
<path fill="#13d254" stroke-width="2.08" stroke-opacity="0.71" d="M681.6 563.2l8.8 -3.3l-6.4 -4.3l-8.8 3.5z"/>
<path fill="#0fd155" stroke-width="2.08" stroke-opacity="0.71" d="M672.8 566.6l8.8 -3.4l-6.4 -4.1l-8.8 3.6z"/>
<path fill="#0acf57" stroke-width="2.08" stroke-opacity="0.71" d="M664 570l8.8 -3.4l-6.4 -3.9l-8.8 3.8z"/>
<path fill="#05ce58" stroke-width="2.08" stroke-opacity="0.71" d="M655.3 573.6l8.7 -3.6l-6.4 -3.5l-8.7 3.7z"/>
<path fill="#00cd5a" stroke-width="2.08" stroke-opacity="0.71" d="M646.5 577.1l8.8 -3.5l-6.4 -3.4l-8.8 3.9z"/>
<path fill="#00cd5d" stroke-width="1.86" stroke-opacity="0.85" d="M637.7 580.7l8.8 -3.6l-6.4 -3l-8.8 3.8z"/>
<path fill="#00cd61" stroke-width="1.86" stroke-opacity="0.85" d="M628.9 584.2l8.8 -3.5l-6.4 -2.8l-8.8 3.8z"/>
<path fill="#00ce64" stroke-width="1.86" stroke-opacity="0.85" d="M620.1 587.7l8.8 -3.5l-6.4 -2.5l-8.8 3.7z"/>
<path fill="#00ce67" stroke-width="1.65" stroke-opacity="1" d="M611.3 591.1l8.8 -3.4l-6.4 -2.3l-8.8 3.6z"/>
<path fill="#00ce69" stroke-width="1.65" stroke-opacity="1" d="M602.5 594.4l8.8 -3.3l-6.4 -2.1l-8.8 3.5z"/>
<path fill="#00ce6b" stroke-width="1.65" stroke-opacity="1" d="M593.8 597.6l8.7 -3.2l-6.4 -1.9l-8.7 3.4z"/>
<path fill="#00ce6d" stroke-width="1.65" stroke-opacity="1" d="M585 600.6l8.8 -3l-6.4 -1.7l-8.8 3.1z"/>
<path fill="#00ce6e" stroke-width="1.65" stroke-opacity="1" d="M576.2 603.5l8.8 -2.9l-6.4 -1.6l-8.8 3z"/>
<path fill="#00ce6f" stroke-width="1.65" stroke-opacity="1" d="M567.4 606.2l8.8 -2.7l-6.4 -1.5l-8.8 2.8zM558.6 608.8l8.8 -2.6l-6.4 -1.4l-8.8 2.6zM549.8 611.2l8.8 -2.4l-6.4 -1.4l-8.8 2.3z"/>
<path fill="#00ce6e" stroke-width="1.65" stroke-opacity="1" d="M541 613.4l8.8 -2.2l-6.4 -1.5l-8.8 2.2z"/>
<path fill="#00ce6d" stroke-width="1.65" stroke-opacity="1" d="M532.3 615.4l8.7 -2l-6.4 -1.5l-8.7 1.9z"/>
<path fill="#00ce6b" stroke-width="1.65" stroke-opacity="1" d="M523.5 617.3l8.8 -1.9l-6.4 -1.6l-8.8 1.8z"/>
<path fill="#00ce69" stroke-width="1.65" stroke-opacity="1" d="M514.7 619.1l8.8 -1.8l-6.4 -1.7l-8.8 1.6z"/>
<path fill="#00ce67" stroke-width="1.65" stroke-opacity="1" d="M505.9 620.7l8.8 -1.6l-6.4 -1.9l-8.8 1.4z"/>
<path fill="#00ce64" stroke-width="1.65" stroke-opacity="1" d="M497.1 622.2l8.8 -1.5l-6.4 -2.1l-8.8 1.3z"/>
<path fill="#00cd61" stroke-width="1.65" stroke-opacity="1" d="M488.3 623.7l8.8 -1.5l-6.4 -2.3l-8.8 1.2z"/>
<path fill="#00cd5d" stroke-width="1.65" stroke-opacity="1" d="M479.5 625.1l8.8 -1.4l-6.4 -2.6l-8.8 1.2z"/>
<path fill="#00cd5a" stroke-width="1.65" stroke-opacity="1" d="M470.8 626.5l8.7 -1.4l-6.4 -2.8l-8.7 1.1z"/>
<path fill="#05ce58" stroke-width="1.65" stroke-opacity="1" d="M462 627.8l8.8 -1.3l-6.4 -3.1l-8.8 1.1z"/>
<path fill="#0acf57" stroke-width="1.65" stroke-opacity="1" d="M453.2 629.2l8.8 -1.4l-6.4 -3.3l-8.8 1.1z"/>
<path fill="#0fd155" stroke-width="1.86" stroke-opacity="0.85" d="M444.4 630.7l8.8 -1.5l-6.4 -3.6l-8.8 1.3z"/>
<path fill="#13d254" stroke-width="1.86" stroke-opacity="0.85" d="M435.6 632.2l8.8 -1.5l-6.4 -3.8l-8.8 1.3z"/>
<path fill="#17d352" stroke-width="1.86" stroke-opacity="0.85" d="M426.8 633.8l8.8 -1.6l-6.4 -4l-8.8 1.4z"/>
<path fill="#1ad451" stroke-width="2.08" stroke-opacity="0.71" d="M418 635.6l8.8 -1.8l-6.4 -4.2l-8.8 1.6z"/>
<path fill="#1dd450" stroke-width="2.08" stroke-opacity="0.71" d="M409.3 637.5l8.7 -1.9l-6.4 -4.4l-8.7 1.7z"/>
<path fill="#1fd550" stroke-width="2.08" stroke-opacity="0.71" d="M400.5 639.5l8.8 -2l-6.4 -4.6l-8.8 2z"/>
<path fill="#20d54f" stroke-width="2.08" stroke-opacity="0.71" d="M391.7 641.8l8.8 -2.3l-6.4 -4.6l-8.8 2.1z"/>
<path fill="#20d54f" stroke-width="2.29" stroke-opacity="0.56" d="M382.9 644.1l8.8 -2.3l-6.4 -4.8l-8.8 2.4z"/>
<path fill="#1ad351" stroke-width="2.08" stroke-opacity="0.71" d="M1083.4 453.8l8.8 -2.5l-6.4 -4.5l-8.8 2.6z"/>
<path fill="#19d352" stroke-width="2.08" stroke-opacity="0.71" d="M1074.6 456.5l8.8 -2.7l-6.4 -4.4l-8.8 2.7z"/>
<path fill="#17d352" stroke-width="2.08" stroke-opacity="0.71" d="M1065.8 459.3l8.8 -2.8l-6.4 -4.4l-8.8 2.9z"/>
<path fill="#15d253" stroke-width="2.08" stroke-opacity="0.71" d="M1057 462.2l8.8 -2.9l-6.4 -4.3l-8.8 3z"/>
<path fill="#12d254" stroke-width="2.08" stroke-opacity="0.71" d="M1048.2 465.2l8.8 -3l-6.4 -4.2l-8.8 3.2z"/>
<path fill="#0fd155" stroke-width="2.08" stroke-opacity="0.71" d="M1039.4 468.4l8.8 -3.2l-6.4 -4l-8.8 3.3z"/>
<path fill="#0cd056" stroke-width="2.08" stroke-opacity="0.71" d="M1030.7 471.6l8.7 -3.2l-6.4 -3.9l-8.7 3.4z"/>
<path fill="#08cf57" stroke-width="2.08" stroke-opacity="0.71" d="M1021.9 474.9l8.8 -3.3l-6.4 -3.7l-8.8 3.5z"/>
<path fill="#04ce59" stroke-width="2.08" stroke-opacity="0.71" d="M1013.1 478.2l8.8 -3.3l-6.4 -3.5l-8.8 3.5z"/>
<path fill="#00cd5a" stroke-width="1.86" stroke-opacity="0.85" d="M1004.3 481.6l8.8 -3.4l-6.4 -3.3l-8.8 3.6z"/>
<path fill="#00cd5d" stroke-width="1.86" stroke-opacity="0.85" d="M995.5 484.9l8.8 -3.3l-6.4 -3.1l-8.8 3.5z"/>
<path fill="#00cd5f" stroke-width="1.86" stroke-opacity="0.85" d="M986.7 488.2l8.8 -3.3l-6.4 -2.9l-8.8 3.6z"/>
<path fill="#00cd62" stroke-width="1.86" stroke-opacity="0.85" d="M977.9 491.5l8.8 -3.3l-6.4 -2.6l-8.8 3.5z"/>
<path fill="#00ce64" stroke-width="1.86" stroke-opacity="0.85" d="M969.2 494.7l8.7 -3.2l-6.4 -2.4l-8.7 3.4z"/>
<path fill="#00ce66" stroke-width="1.65" stroke-opacity="1" d="M960.4 497.9l8.8 -3.2l-6.4 -2.2l-8.8 3.3z"/>
<path fill="#00ce68" stroke-width="1.65" stroke-opacity="1" d="M951.6 500.9l8.8 -3l-6.4 -2.1l-8.8 3.1z"/>
<path fill="#00ce69" stroke-width="1.65" stroke-opacity="1" d="M942.8 503.8l8.8 -2.9l-6.4 -2l-8.8 3.1z"/>
<path fill="#00ce6a" stroke-width="1.65" stroke-opacity="1" d="M934 506.6l8.8 -2.8l-6.4 -1.8l-8.8 2.9z"/>
<path fill="#00ce6b" stroke-width="1.65" stroke-opacity="1" d="M925.2 509.3l8.8 -2.7l-6.4 -1.7l-8.8 2.7zM916.4 511.9l8.8 -2.6l-6.4 -1.7l-8.8 2.5zM907.7 514.2l8.7 -2.3l-6.4 -1.8l-8.7 2.4z"/>
<path fill="#00ce6a" stroke-width="1.65" stroke-opacity="1" d="M898.9 516.5l8.8 -2.3l-6.4 -1.7l-8.8 2.2z"/>
<path fill="#00ce69" stroke-width="1.65" stroke-opacity="1" d="M890.1 518.6l8.8 -2.1l-6.4 -1.8l-8.8 2.1z"/>
<path fill="#00ce68" stroke-width="1.65" stroke-opacity="1" d="M881.3 520.6l8.8 -2l-6.4 -1.8l-8.8 1.9z"/>
<path fill="#00ce66" stroke-width="1.65" stroke-opacity="1" d="M872.5 522.5l8.8 -1.9l-6.4 -1.9l-8.8 1.7z"/>
<path fill="#00ce64" stroke-width="1.65" stroke-opacity="1" d="M863.7 524.3l8.8 -1.8l-6.4 -2.1l-8.8 1.6z"/>
<path fill="#00cd62" stroke-width="1.65" stroke-opacity="1" d="M854.9 526l8.8 -1.7l-6.4 -2.3l-8.8 1.6z"/>
<path fill="#00cd5f" stroke-width="1.65" stroke-opacity="1" d="M846.2 527.7l8.7 -1.7l-6.4 -2.4l-8.7 1.4z"/>
<path fill="#00cd5d" stroke-width="1.65" stroke-opacity="1" d="M837.4 529.3l8.8 -1.6l-6.4 -2.7l-8.8 1.4z"/>
<path fill="#00cd5a" stroke-width="1.65" stroke-opacity="1" d="M828.6 530.9l8.8 -1.6l-6.4 -2.9l-8.8 1.4z"/>
<path fill="#04ce59" stroke-width="1.65" stroke-opacity="1" d="M819.8 532.5l8.8 -1.6l-6.4 -3.1l-8.8 1.4z"/>
<path fill="#08cf57" stroke-width="1.65" stroke-opacity="1" d="M811 534.1l8.8 -1.6l-6.4 -3.3l-8.8 1.4z"/>
<path fill="#0cd056" stroke-width="1.86" stroke-opacity="0.85" d="M802.2 535.7l8.8 -1.6l-6.4 -3.5l-8.8 1.4z"/>
<path fill="#0fd155" stroke-width="1.86" stroke-opacity="0.85" d="M793.4 537.4l8.8 -1.7l-6.4 -3.7l-8.8 1.6z"/>
<path fill="#12d254" stroke-width="1.86" stroke-opacity="0.85" d="M784.7 539.2l8.7 -1.8l-6.4 -3.8l-8.7 1.6z"/>
<path fill="#15d253" stroke-width="1.86" stroke-opacity="0.85" d="M775.9 541.1l8.8 -1.9l-6.4 -4l-8.8 1.8z"/>
<path fill="#17d352" stroke-width="2.08" stroke-opacity="0.71" d="M767.1 543.1l8.8 -2l-6.4 -4.1l-8.8 1.8z"/>
<path fill="#19d352" stroke-width="2.08" stroke-opacity="0.71" d="M758.3 545.2l8.8 -2.1l-6.4 -4.3l-8.8 2.1z"/>
<path fill="#1ad351" stroke-width="2.08" stroke-opacity="0.71" d="M749.5 547.5l8.8 -2.3l-6.4 -4.3l-8.8 2.2z"/>
<path fill="#1ad451" stroke-width="2.08" stroke-opacity="0.71" d="M740.7 549.9l8.8 -2.4l-6.4 -4.4l-8.8 2.4z"/>
<path fill="#1ad351" stroke-width="2.08" stroke-opacity="0.71" d="M731.9 552.4l8.8 -2.5l-6.4 -4.4l-8.8 2.5z"/>
<path fill="#19d352" stroke-width="2.08" stroke-opacity="0.71" d="M723.2 555.1l8.7 -2.7l-6.4 -4.4l-8.7 2.8z"/>
<path fill="#17d352" stroke-width="2.08" stroke-opacity="0.71" d="M714.4 557.9l8.8 -2.8l-6.4 -4.3l-8.8 2.8z"/>
<path fill="#15d253" stroke-width="2.08" stroke-opacity="0.71" d="M705.6 560.8l8.8 -2.9l-6.4 -4.3l-8.8 3.1z"/>
<path fill="#12d254" stroke-width="2.08" stroke-opacity="0.71" d="M696.8 563.9l8.8 -3.1l-6.4 -4.1l-8.8 3.2z"/>
<path fill="#0fd155" stroke-width="2.08" stroke-opacity="0.71" d="M688 567l8.8 -3.1l-6.4 -4l-8.8 3.3z"/>
<path fill="#0cd056" stroke-width="2.08" stroke-opacity="0.71" d="M679.2 570.2l8.8 -3.2l-6.4 -3.8l-8.8 3.4z"/>
<path fill="#08cf57" stroke-width="2.08" stroke-opacity="0.71" d="M670.4 573.5l8.8 -3.3l-6.4 -3.6l-8.8 3.4z"/>
<path fill="#04ce59" stroke-width="2.08" stroke-opacity="0.71" d="M661.7 576.9l8.7 -3.4l-6.4 -3.5l-8.7 3.6z"/>
<path fill="#00cd5a" stroke-width="1.86" stroke-opacity="0.85" d="M652.9 580.2l8.8 -3.3l-6.4 -3.3l-8.8 3.5z"/>
<path fill="#00cd5d" stroke-width="1.86" stroke-opacity="0.85" d="M644.1 583.6l8.8 -3.4l-6.4 -3.1l-8.8 3.6z"/>
<path fill="#00cd5f" stroke-width="1.86" stroke-opacity="0.85" d="M635.3 586.9l8.8 -3.3l-6.4 -2.9l-8.8 3.5z"/>
<path fill="#00cd62" stroke-width="1.86" stroke-opacity="0.85" d="M626.5 590.2l8.8 -3.3l-6.4 -2.7l-8.8 3.5z"/>
<path fill="#00ce64" stroke-width="1.86" stroke-opacity="0.85" d="M617.7 593.4l8.8 -3.2l-6.4 -2.5l-8.8 3.4z"/>
<path fill="#00ce66" stroke-width="1.65" stroke-opacity="1" d="M608.9 596.5l8.8 -3.1l-6.4 -2.3l-8.8 3.3z"/>
<path fill="#00ce68" stroke-width="1.65" stroke-opacity="1" d="M600.2 599.6l8.7 -3.1l-6.4 -2.1l-8.7 3.2z"/>
<path fill="#00ce69" stroke-width="1.65" stroke-opacity="1" d="M591.4 602.5l8.8 -2.9l-6.4 -2l-8.8 3z"/>
<path fill="#00ce6a" stroke-width="1.65" stroke-opacity="1" d="M582.6 605.3l8.8 -2.8l-6.4 -1.9l-8.8 2.9z"/>
<path fill="#00ce6b" stroke-width="1.65" stroke-opacity="1" d="M573.8 608l8.8 -2.7l-6.4 -1.8l-8.8 2.7zM565 610.5l8.8 -2.5l-6.4 -1.8l-8.8 2.6zM556.2 612.9l8.8 -2.4l-6.4 -1.7l-8.8 2.4z"/>
<path fill="#00ce6a" stroke-width="1.65" stroke-opacity="1" d="M547.4 615.2l8.8 -2.3l-6.4 -1.7l-8.8 2.2z"/>
<path fill="#00ce69" stroke-width="1.65" stroke-opacity="1" d="M538.7 617.3l8.7 -2.1l-6.4 -1.8l-8.7 2z"/>
<path fill="#00ce68" stroke-width="1.65" stroke-opacity="1" d="M529.9 619.3l8.8 -2l-6.4 -1.9l-8.8 1.9z"/>
<path fill="#00ce66" stroke-width="1.65" stroke-opacity="1" d="M521.1 621.2l8.8 -1.9l-6.4 -2l-8.8 1.8z"/>
<path fill="#00ce64" stroke-width="1.65" stroke-opacity="1" d="M512.3 623l8.8 -1.8l-6.4 -2.1l-8.8 1.6z"/>
<path fill="#00cd62" stroke-width="1.65" stroke-opacity="1" d="M503.5 624.7l8.8 -1.7l-6.4 -2.3l-8.8 1.5z"/>
<path fill="#00cd5f" stroke-width="1.65" stroke-opacity="1" d="M494.7 626.3l8.8 -1.6l-6.4 -2.5l-8.8 1.5z"/>
<path fill="#00cd5d" stroke-width="1.65" stroke-opacity="1" d="M485.9 627.9l8.8 -1.6l-6.4 -2.6l-8.8 1.4z"/>
<path fill="#00cd5a" stroke-width="1.65" stroke-opacity="1" d="M477.2 629.5l8.7 -1.6l-6.4 -2.8l-8.7 1.4z"/>
<path fill="#04ce59" stroke-width="1.65" stroke-opacity="1" d="M468.4 631.1l8.8 -1.6l-6.4 -3l-8.8 1.3z"/>
<path fill="#08cf57" stroke-width="1.65" stroke-opacity="1" d="M459.6 632.7l8.8 -1.6l-6.4 -3.3l-8.8 1.4z"/>
<path fill="#0cd056" stroke-width="1.86" stroke-opacity="0.85" d="M450.8 634.4l8.8 -1.7l-6.4 -3.5l-8.8 1.5z"/>
<path fill="#0fd155" stroke-width="1.86" stroke-opacity="0.85" d="M442 636.1l8.8 -1.7l-6.4 -3.7l-8.8 1.5z"/>
<path fill="#12d254" stroke-width="1.86" stroke-opacity="0.85" d="M433.2 637.9l8.8 -1.8l-6.4 -3.9l-8.8 1.6z"/>
<path fill="#15d253" stroke-width="1.86" stroke-opacity="0.85" d="M424.4 639.8l8.8 -1.9l-6.4 -4.1l-8.8 1.8z"/>
<path fill="#17d352" stroke-width="2.08" stroke-opacity="0.71" d="M415.7 641.8l8.7 -2l-6.4 -4.2l-8.7 1.9z"/>
<path fill="#19d352" stroke-width="2.08" stroke-opacity="0.71" d="M406.9 643.9l8.8 -2.1l-6.4 -4.3l-8.8 2z"/>
<path fill="#1ad351" stroke-width="2.08" stroke-opacity="0.71" d="M398.1 646.2l8.8 -2.3l-6.4 -4.4l-8.8 2.3z"/>
<path fill="#1ad451" stroke-width="2.08" stroke-opacity="0.71" d="M389.3 648.6l8.8 -2.4l-6.4 -4.4l-8.8 2.3z"/>
<path fill="#15d253" stroke-width="2.08" stroke-opacity="0.71" d="M1089.8 457.9l8.8 -2.5l-6.4 -4.1l-8.8 2.5z"/>
<path fill="#14d253" stroke-width="2.08" stroke-opacity="0.71" d="M1081 460.6l8.8 -2.7l-6.4 -4.1l-8.8 2.7z"/>
<path fill="#13d254" stroke-width="2.08" stroke-opacity="0.71" d="M1072.2 463.3l8.8 -2.7l-6.4 -4.1l-8.8 2.8z"/>
<path fill="#11d154" stroke-width="2.08" stroke-opacity="0.71" d="M1063.4 466.1l8.8 -2.8l-6.4 -4l-8.8 2.9z"/>
<path fill="#0fd155" stroke-width="2.08" stroke-opacity="0.71" d="M1054.6 469.1l8.8 -3l-6.4 -3.9l-8.8 3z"/>
<path fill="#0cd056" stroke-width="2.08" stroke-opacity="0.71" d="M1045.8 472.1l8.8 -3l-6.4 -3.9l-8.8 3.2z"/>
<path fill="#0acf57" stroke-width="2.08" stroke-opacity="0.71" d="M1037.1 475.2l8.7 -3.1l-6.4 -3.7l-8.7 3.2z"/>
<path fill="#07cf58" stroke-width="2.08" stroke-opacity="0.71" d="M1028.3 478.3l8.8 -3.1l-6.4 -3.6l-8.8 3.3z"/>
<path fill="#03ce59" stroke-width="2.08" stroke-opacity="0.71" d="M1019.5 481.4l8.8 -3.1l-6.4 -3.4l-8.8 3.3z"/>
<path fill="#00cd5a" stroke-width="1.86" stroke-opacity="0.85" d="M1010.7 484.6l8.8 -3.2l-6.4 -3.2l-8.8 3.4z"/>
<path fill="#00cd5c" stroke-width="1.86" stroke-opacity="0.85" d="M1001.9 487.8l8.8 -3.2l-6.4 -3l-8.8 3.3z"/>
<path fill="#00cd5e" stroke-width="1.86" stroke-opacity="0.85" d="M993.1 491l8.8 -3.2l-6.4 -2.9l-8.8 3.3z"/>
<path fill="#00cd60" stroke-width="1.86" stroke-opacity="0.85" d="M984.3 494.1l8.8 -3.1l-6.4 -2.8l-8.8 3.3z"/>
<path fill="#00cd62" stroke-width="1.86" stroke-opacity="0.85" d="M975.6 497.2l8.7 -3.1l-6.4 -2.6l-8.7 3.2z"/>
<path fill="#00ce64" stroke-width="1.65" stroke-opacity="1" d="M966.8 500.2l8.8 -3l-6.4 -2.5l-8.8 3.2z"/>
<path fill="#00ce65" stroke-width="1.65" stroke-opacity="1" d="M958 503.1l8.8 -2.9l-6.4 -2.3l-8.8 3z"/>
<path fill="#00ce66" stroke-width="1.65" stroke-opacity="1" d="M949.2 505.9l8.8 -2.8l-6.4 -2.2l-8.8 2.9z"/>
<path fill="#00ce67" stroke-width="1.65" stroke-opacity="1" d="M940.4 508.7l8.8 -2.8l-6.4 -2.1l-8.8 2.8z"/>
<path fill="#00ce68" stroke-width="1.65" stroke-opacity="1" d="M931.6 511.3l8.8 -2.6l-6.4 -2.1l-8.8 2.7zM922.8 513.8l8.8 -2.5l-6.4 -2l-8.8 2.6zM914.1 516.2l8.7 -2.4l-6.4 -1.9l-8.7 2.3z"/>
<path fill="#00ce67" stroke-width="1.65" stroke-opacity="1" d="M905.3 518.5l8.8 -2.3l-6.4 -2l-8.8 2.3z"/>
<path fill="#00ce66" stroke-width="1.65" stroke-opacity="1" d="M896.5 520.7l8.8 -2.2l-6.4 -2l-8.8 2.1z"/>
<path fill="#00ce65" stroke-width="1.65" stroke-opacity="1" d="M887.7 522.8l8.8 -2.1l-6.4 -2.1l-8.8 2z"/>
<path fill="#00ce64" stroke-width="1.65" stroke-opacity="1" d="M878.9 524.8l8.8 -2l-6.4 -2.2l-8.8 1.9z"/>
<path fill="#00cd62" stroke-width="1.65" stroke-opacity="1" d="M870.1 526.8l8.8 -2l-6.4 -2.3l-8.8 1.8z"/>
<path fill="#00cd60" stroke-width="1.65" stroke-opacity="1" d="M861.3 528.6l8.8 -1.8l-6.4 -2.5l-8.8 1.7z"/>
<path fill="#00cd5e" stroke-width="1.65" stroke-opacity="1" d="M852.6 530.4l8.7 -1.8l-6.4 -2.6l-8.7 1.7z"/>
<path fill="#00cd5c" stroke-width="1.65" stroke-opacity="1" d="M843.8 532.2l8.8 -1.8l-6.4 -2.7l-8.8 1.6z"/>
<path fill="#00cd5a" stroke-width="1.65" stroke-opacity="1" d="M835 533.9l8.8 -1.7l-6.4 -2.9l-8.8 1.6z"/>
<path fill="#03ce59" stroke-width="1.65" stroke-opacity="1" d="M826.2 535.7l8.8 -1.8l-6.4 -3l-8.8 1.6z"/>
<path fill="#07cf58" stroke-width="1.86" stroke-opacity="0.85" d="M817.4 537.5l8.8 -1.8l-6.4 -3.2l-8.8 1.6z"/>
<path fill="#0acf57" stroke-width="1.86" stroke-opacity="0.85" d="M808.6 539.3l8.8 -1.8l-6.4 -3.4l-8.8 1.6z"/>
<path fill="#0cd056" stroke-width="1.86" stroke-opacity="0.85" d="M799.8 541.1l8.8 -1.8l-6.4 -3.6l-8.8 1.7z"/>
<path fill="#0fd155" stroke-width="1.86" stroke-opacity="0.85" d="M791.1 543.1l8.7 -2l-6.4 -3.7l-8.7 1.8z"/>
<path fill="#11d154" stroke-width="1.86" stroke-opacity="0.85" d="M782.3 545.1l8.8 -2l-6.4 -3.9l-8.8 1.9z"/>
<path fill="#13d254" stroke-width="2.08" stroke-opacity="0.71" d="M773.5 547.2l8.8 -2.1l-6.4 -4l-8.8 2z"/>
<path fill="#14d253" stroke-width="2.08" stroke-opacity="0.71" d="M764.7 549.4l8.8 -2.2l-6.4 -4.1l-8.8 2.1z"/>
<path fill="#15d253" stroke-width="2.08" stroke-opacity="0.71" d="M755.9 551.7l8.8 -2.3l-6.4 -4.2l-8.8 2.3zM747.1 554.1l8.8 -2.4l-6.4 -4.2l-8.8 2.4zM738.3 556.6l8.8 -2.5l-6.4 -4.2l-8.8 2.5z"/>
<path fill="#14d253" stroke-width="2.08" stroke-opacity="0.71" d="M729.6 559.2l8.7 -2.6l-6.4 -4.2l-8.7 2.7z"/>
<path fill="#13d254" stroke-width="2.08" stroke-opacity="0.71" d="M720.8 562l8.8 -2.8l-6.4 -4.1l-8.8 2.8z"/>
<path fill="#11d154" stroke-width="2.08" stroke-opacity="0.71" d="M712 564.8l8.8 -2.8l-6.4 -4.1l-8.8 2.9z"/>
<path fill="#0fd155" stroke-width="2.08" stroke-opacity="0.71" d="M703.2 567.7l8.8 -2.9l-6.4 -4l-8.8 3.1z"/>
<path fill="#0cd056" stroke-width="2.08" stroke-opacity="0.71" d="M694.4 570.7l8.8 -3l-6.4 -3.8l-8.8 3.1z"/>
<path fill="#0acf57" stroke-width="2.08" stroke-opacity="0.71" d="M685.6 573.8l8.8 -3.1l-6.4 -3.7l-8.8 3.2z"/>
<path fill="#07cf58" stroke-width="2.08" stroke-opacity="0.71" d="M676.8 576.9l8.8 -3.1l-6.4 -3.6l-8.8 3.3z"/>
<path fill="#03ce59" stroke-width="2.08" stroke-opacity="0.71" d="M668.1 580.1l8.7 -3.2l-6.4 -3.4l-8.7 3.4z"/>
<path fill="#00cd5a" stroke-width="1.86" stroke-opacity="0.85" d="M659.3 583.3l8.8 -3.2l-6.4 -3.2l-8.8 3.3z"/>
<path fill="#00cd5c" stroke-width="1.86" stroke-opacity="0.85" d="M650.5 586.5l8.8 -3.2l-6.4 -3.1l-8.8 3.4z"/>
<path fill="#00cd5e" stroke-width="1.86" stroke-opacity="0.85" d="M641.7 589.6l8.8 -3.1l-6.4 -2.9l-8.8 3.3z"/>
<path fill="#00cd60" stroke-width="1.86" stroke-opacity="0.85" d="M632.9 592.7l8.8 -3.1l-6.4 -2.7l-8.8 3.3z"/>
<path fill="#00cd62" stroke-width="1.86" stroke-opacity="0.85" d="M624.1 595.8l8.8 -3.1l-6.4 -2.5l-8.8 3.2z"/>
<path fill="#00ce64" stroke-width="1.65" stroke-opacity="1" d="M615.3 598.8l8.8 -3l-6.4 -2.4l-8.8 3.1z"/>
<path fill="#00ce65" stroke-width="1.65" stroke-opacity="1" d="M606.6 601.7l8.7 -2.9l-6.4 -2.3l-8.7 3.1z"/>
<path fill="#00ce66" stroke-width="1.65" stroke-opacity="1" d="M597.8 604.6l8.8 -2.9l-6.4 -2.1l-8.8 2.9z"/>
<path fill="#00ce67" stroke-width="1.65" stroke-opacity="1" d="M589 607.3l8.8 -2.7l-6.4 -2.1l-8.8 2.8z"/>
<path fill="#00ce68" stroke-width="1.65" stroke-opacity="1" d="M580.2 610l8.8 -2.7l-6.4 -2l-8.8 2.7zM571.4 612.5l8.8 -2.5l-6.4 -2l-8.8 2.5zM562.6 614.9l8.8 -2.4l-6.4 -2l-8.8 2.4z"/>
<path fill="#00ce67" stroke-width="1.65" stroke-opacity="1" d="M553.8 617.2l8.8 -2.3l-6.4 -2l-8.8 2.3z"/>
<path fill="#00ce66" stroke-width="1.65" stroke-opacity="1" d="M545.1 619.4l8.7 -2.2l-6.4 -2l-8.7 2.1z"/>
<path fill="#00ce65" stroke-width="1.65" stroke-opacity="1" d="M536.3 621.5l8.8 -2.1l-6.4 -2.1l-8.8 2z"/>
<path fill="#00ce64" stroke-width="1.65" stroke-opacity="1" d="M527.5 623.5l8.8 -2l-6.4 -2.2l-8.8 1.9z"/>
<path fill="#00cd62" stroke-width="1.65" stroke-opacity="1" d="M518.7 625.4l8.8 -1.9l-6.4 -2.3l-8.8 1.8z"/>
<path fill="#00cd60" stroke-width="1.65" stroke-opacity="1" d="M509.9 627.3l8.8 -1.9l-6.4 -2.4l-8.8 1.7z"/>
<path fill="#00cd5e" stroke-width="1.65" stroke-opacity="1" d="M501.1 629.1l8.8 -1.8l-6.4 -2.6l-8.8 1.6z"/>
<path fill="#00cd5c" stroke-width="1.65" stroke-opacity="1" d="M492.3 630.8l8.8 -1.7l-6.4 -2.8l-8.8 1.6z"/>
<path fill="#00cd5a" stroke-width="1.65" stroke-opacity="1" d="M483.6 632.6l8.7 -1.8l-6.4 -2.9l-8.7 1.6z"/>
<path fill="#03ce59" stroke-width="1.65" stroke-opacity="1" d="M474.8 634.4l8.8 -1.8l-6.4 -3.1l-8.8 1.6z"/>
<path fill="#07cf58" stroke-width="1.86" stroke-opacity="0.85" d="M466 636.1l8.8 -1.7l-6.4 -3.3l-8.8 1.6z"/>
<path fill="#0acf57" stroke-width="1.86" stroke-opacity="0.85" d="M457.2 637.9l8.8 -1.8l-6.4 -3.4l-8.8 1.7z"/>
<path fill="#0cd056" stroke-width="1.86" stroke-opacity="0.85" d="M448.4 639.8l8.8 -1.9l-6.4 -3.5l-8.8 1.7z"/>
<path fill="#0fd155" stroke-width="1.86" stroke-opacity="0.85" d="M439.6 641.7l8.8 -1.9l-6.4 -3.7l-8.8 1.8z"/>
<path fill="#11d154" stroke-width="1.86" stroke-opacity="0.85" d="M430.8 643.7l8.8 -2l-6.4 -3.8l-8.8 1.9z"/>
<path fill="#13d254" stroke-width="2.08" stroke-opacity="0.71" d="M422.1 645.8l8.7 -2.1l-6.4 -3.9l-8.7 2z"/>
<path fill="#14d253" stroke-width="2.08" stroke-opacity="0.71" d="M413.3 648l8.8 -2.2l-6.4 -4l-8.8 2.1z"/>
<path fill="#15d253" stroke-width="2.08" stroke-opacity="0.71" d="M404.5 650.3l8.8 -2.3l-6.4 -4.1l-8.8 2.3zM395.7 652.7l8.8 -2.4l-6.4 -4.1l-8.8 2.4z"/>
<path fill="#11d154" stroke-width="2.08" stroke-opacity="0.71" d="M1096.2 461.9l8.8 -2.5l-6.4 -4l-8.8 2.5z"/>
<path fill="#10d155" stroke-width="2.08" stroke-opacity="0.71" d="M1087.4 464.5l8.8 -2.6l-6.4 -4l-8.8 2.7z"/>
<path fill="#0fd155" stroke-width="2.08" stroke-opacity="0.71" d="M1078.6 467.2l8.8 -2.7l-6.4 -3.9l-8.8 2.7z"/>
<path fill="#0ed055" stroke-width="2.08" stroke-opacity="0.71" d="M1069.8 469.9l8.8 -2.7l-6.4 -3.9l-8.8 2.8z"/>
<path fill="#0cd056" stroke-width="2.08" stroke-opacity="0.71" d="M1061 472.8l8.8 -2.9l-6.4 -3.8l-8.8 3z"/>
<path fill="#0acf57" stroke-width="2.08" stroke-opacity="0.71" d="M1052.2 475.7l8.8 -2.9l-6.4 -3.7l-8.8 3z"/>
<path fill="#08cf57" stroke-width="2.08" stroke-opacity="0.71" d="M1043.5 478.6l8.7 -2.9l-6.4 -3.6l-8.7 3.1z"/>
<path fill="#05ce58" stroke-width="1.86" stroke-opacity="0.85" d="M1034.7 481.6l8.8 -3l-6.4 -3.4l-8.8 3.1z"/>
<path fill="#03ce59" stroke-width="1.86" stroke-opacity="0.85" d="M1025.9 484.7l8.8 -3.1l-6.4 -3.3l-8.8 3.1z"/>
<path fill="#00cd5a" stroke-width="1.86" stroke-opacity="0.85" d="M1017.1 487.7l8.8 -3l-6.4 -3.3l-8.8 3.2z"/>
<path fill="#00cd5c" stroke-width="1.86" stroke-opacity="0.85" d="M1008.3 490.7l8.8 -3l-6.4 -3.1l-8.8 3.2z"/>
<path fill="#00cd5d" stroke-width="1.86" stroke-opacity="0.85" d="M999.5 493.8l8.8 -3.1l-6.4 -2.9l-8.8 3.2z"/>
<path fill="#00cd5f" stroke-width="1.86" stroke-opacity="0.85" d="M990.7 496.8l8.8 -3l-6.4 -2.8l-8.8 3.1z"/>
<path fill="#00cd61" stroke-width="1.86" stroke-opacity="0.85" d="M982 499.7l8.7 -2.9l-6.4 -2.7l-8.7 3.1z"/>
<path fill="#00cd62" stroke-width="1.65" stroke-opacity="1" d="M973.2 502.6l8.8 -2.9l-6.4 -2.5l-8.8 3z"/>
<path fill="#00ce63" stroke-width="1.65" stroke-opacity="1" d="M964.4 505.5l8.8 -2.9l-6.4 -2.4l-8.8 2.9z"/>
<path fill="#00ce64" stroke-width="1.65" stroke-opacity="1" d="M955.6 508.2l8.8 -2.7l-6.4 -2.4l-8.8 2.8z"/>
<path fill="#00ce65" stroke-width="1.65" stroke-opacity="1" d="M946.8 510.9l8.8 -2.7l-6.4 -2.3l-8.8 2.8zM938 513.5l8.8 -2.6l-6.4 -2.2l-8.8 2.6zM929.2 516l8.8 -2.5l-6.4 -2.2l-8.8 2.5zM920.5 518.4l8.7 -2.4l-6.4 -2.2l-8.7 2.4zM911.7 520.8l8.8 -2.4l-6.4 -2.2l-8.8 2.3z"/>
<path fill="#00ce64" stroke-width="1.65" stroke-opacity="1" d="M902.9 523l8.8 -2.2l-6.4 -2.3l-8.8 2.2z"/>
<path fill="#00ce63" stroke-width="1.65" stroke-opacity="1" d="M894.1 525.2l8.8 -2.2l-6.4 -2.3l-8.8 2.1z"/>
<path fill="#00cd62" stroke-width="1.65" stroke-opacity="1" d="M885.3 527.3l8.8 -2.1l-6.4 -2.4l-8.8 2z"/>
<path fill="#00cd61" stroke-width="1.65" stroke-opacity="1" d="M876.5 529.3l8.8 -2l-6.4 -2.5l-8.8 2z"/>
<path fill="#00cd5f" stroke-width="1.65" stroke-opacity="1" d="M867.7 531.3l8.8 -2l-6.4 -2.5l-8.8 1.8z"/>
<path fill="#00cd5d" stroke-width="1.65" stroke-opacity="1" d="M859 533.2l8.7 -1.9l-6.4 -2.7l-8.7 1.8z"/>
<path fill="#00cd5c" stroke-width="1.65" stroke-opacity="1" d="M850.2 535.1l8.8 -1.9l-6.4 -2.8l-8.8 1.8z"/>
<path fill="#00cd5a" stroke-width="1.65" stroke-opacity="1" d="M841.4 537l8.8 -1.9l-6.4 -2.9l-8.8 1.7z"/>
<path fill="#03ce59" stroke-width="1.65" stroke-opacity="1" d="M832.6 538.9l8.8 -1.9l-6.4 -3.1l-8.8 1.8z"/>
<path fill="#05ce58" stroke-width="1.86" stroke-opacity="0.85" d="M823.8 540.8l8.8 -1.9l-6.4 -3.2l-8.8 1.8z"/>
<path fill="#08cf57" stroke-width="1.86" stroke-opacity="0.85" d="M815 542.7l8.8 -1.9l-6.4 -3.3l-8.8 1.8z"/>
<path fill="#0acf57" stroke-width="1.86" stroke-opacity="0.85" d="M806.2 544.7l8.8 -2l-6.4 -3.4l-8.8 1.8z"/>
<path fill="#0cd056" stroke-width="1.86" stroke-opacity="0.85" d="M797.5 546.8l8.7 -2.1l-6.4 -3.6l-8.7 2z"/>
<path fill="#0ed055" stroke-width="1.86" stroke-opacity="0.85" d="M788.7 548.8l8.8 -2l-6.4 -3.7l-8.8 2z"/>
<path fill="#0fd155" stroke-width="1.86" stroke-opacity="0.85" d="M779.9 551l8.8 -2.2l-6.4 -3.7l-8.8 2.1z"/>
<path fill="#10d155" stroke-width="2.08" stroke-opacity="0.71" d="M771.1 553.3l8.8 -2.3l-6.4 -3.8l-8.8 2.2z"/>
<path fill="#11d154" stroke-width="2.08" stroke-opacity="0.71" d="M762.3 555.6l8.8 -2.3l-6.4 -3.9l-8.8 2.3zM753.5 558l8.8 -2.4l-6.4 -3.9l-8.8 2.4zM744.7 560.5l8.8 -2.5l-6.4 -3.9l-8.8 2.5z"/>
<path fill="#10d155" stroke-width="2.08" stroke-opacity="0.71" d="M736 563.1l8.7 -2.6l-6.4 -3.9l-8.7 2.6z"/>
<path fill="#0fd155" stroke-width="2.08" stroke-opacity="0.71" d="M727.2 565.8l8.8 -2.7l-6.4 -3.9l-8.8 2.8z"/>
<path fill="#0ed055" stroke-width="2.08" stroke-opacity="0.71" d="M718.4 568.6l8.8 -2.8l-6.4 -3.8l-8.8 2.8z"/>
<path fill="#0cd056" stroke-width="2.08" stroke-opacity="0.71" d="M709.6 571.4l8.8 -2.8l-6.4 -3.8l-8.8 2.9z"/>
<path fill="#0acf57" stroke-width="2.08" stroke-opacity="0.71" d="M700.8 574.3l8.8 -2.9l-6.4 -3.7l-8.8 3z"/>
<path fill="#08cf57" stroke-width="2.08" stroke-opacity="0.71" d="M692 577.3l8.8 -3l-6.4 -3.6l-8.8 3.1z"/>
<path fill="#05ce58" stroke-width="1.86" stroke-opacity="0.85" d="M683.2 580.3l8.8 -3l-6.4 -3.5l-8.8 3.1z"/>
<path fill="#03ce59" stroke-width="1.86" stroke-opacity="0.85" d="M674.5 583.3l8.7 -3l-6.4 -3.4l-8.7 3.2z"/>
<path fill="#00cd5a" stroke-width="1.86" stroke-opacity="0.85" d="M665.7 586.3l8.8 -3l-6.4 -3.2l-8.8 3.2z"/>
<path fill="#00cd5c" stroke-width="1.86" stroke-opacity="0.85" d="M656.9 589.4l8.8 -3.1l-6.4 -3l-8.8 3.2z"/>
<path fill="#00cd5d" stroke-width="1.86" stroke-opacity="0.85" d="M648.1 592.4l8.8 -3l-6.4 -2.9l-8.8 3.1z"/>
<path fill="#00cd5f" stroke-width="1.86" stroke-opacity="0.85" d="M639.3 595.4l8.8 -3l-6.4 -2.8l-8.8 3.1z"/>
<path fill="#00cd61" stroke-width="1.86" stroke-opacity="0.85" d="M630.5 598.4l8.8 -3l-6.4 -2.7l-8.8 3.1z"/>
<path fill="#00cd62" stroke-width="1.65" stroke-opacity="1" d="M621.7 601.3l8.8 -2.9l-6.4 -2.6l-8.8 3z"/>
<path fill="#00ce63" stroke-width="1.65" stroke-opacity="1" d="M613 604.1l8.7 -2.8l-6.4 -2.5l-8.7 2.9z"/>
<path fill="#00ce64" stroke-width="1.65" stroke-opacity="1" d="M604.2 606.9l8.8 -2.8l-6.4 -2.4l-8.8 2.9z"/>
<path fill="#00ce65" stroke-width="1.65" stroke-opacity="1" d="M595.4 609.6l8.8 -2.7l-6.4 -2.3l-8.8 2.7zM586.6 612.2l8.8 -2.6l-6.4 -2.3l-8.8 2.7zM577.8 614.7l8.8 -2.5l-6.4 -2.2l-8.8 2.5zM569 617.1l8.8 -2.4l-6.4 -2.2l-8.8 2.4zM560.2 619.4l8.8 -2.3l-6.4 -2.2l-8.8 2.3z"/>
<path fill="#00ce64" stroke-width="1.65" stroke-opacity="1" d="M551.5 621.7l8.7 -2.3l-6.4 -2.2l-8.7 2.2z"/>
<path fill="#00ce63" stroke-width="1.65" stroke-opacity="1" d="M542.7 623.8l8.8 -2.1l-6.4 -2.3l-8.8 2.1z"/>
<path fill="#00cd62" stroke-width="1.65" stroke-opacity="1" d="M533.9 625.9l8.8 -2.1l-6.4 -2.3l-8.8 2z"/>
<path fill="#00cd61" stroke-width="1.65" stroke-opacity="1" d="M525.1 628l8.8 -2.1l-6.4 -2.4l-8.8 1.9z"/>
<path fill="#00cd5f" stroke-width="1.65" stroke-opacity="1" d="M516.3 629.9l8.8 -1.9l-6.4 -2.6l-8.8 1.9z"/>
<path fill="#00cd5d" stroke-width="1.65" stroke-opacity="1" d="M507.5 631.9l8.8 -2l-6.4 -2.6l-8.8 1.8z"/>
<path fill="#00cd5c" stroke-width="1.65" stroke-opacity="1" d="M498.7 633.8l8.8 -1.9l-6.4 -2.8l-8.8 1.7z"/>
<path fill="#00cd5a" stroke-width="1.65" stroke-opacity="1" d="M490 635.7l8.7 -1.9l-6.4 -3l-8.7 1.8z"/>
<path fill="#03ce59" stroke-width="1.65" stroke-opacity="1" d="M481.2 637.6l8.8 -1.9l-6.4 -3.1l-8.8 1.8z"/>
<path fill="#05ce58" stroke-width="1.86" stroke-opacity="0.85" d="M472.4 639.5l8.8 -1.9l-6.4 -3.2l-8.8 1.7z"/>
<path fill="#08cf57" stroke-width="1.86" stroke-opacity="0.85" d="M463.6 641.4l8.8 -1.9l-6.4 -3.4l-8.8 1.8z"/>
<path fill="#0acf57" stroke-width="1.86" stroke-opacity="0.85" d="M454.8 643.4l8.8 -2l-6.4 -3.5l-8.8 1.9z"/>
<path fill="#0cd056" stroke-width="1.86" stroke-opacity="0.85" d="M446 645.4l8.8 -2l-6.4 -3.6l-8.8 1.9z"/>
<path fill="#0ed055" stroke-width="1.86" stroke-opacity="0.85" d="M437.2 647.5l8.8 -2.1l-6.4 -3.7l-8.8 2z"/>
<path fill="#0fd155" stroke-width="1.86" stroke-opacity="0.85" d="M428.5 649.7l8.7 -2.2l-6.4 -3.8l-8.7 2.1z"/>
<path fill="#10d155" stroke-width="2.08" stroke-opacity="0.71" d="M419.7 651.9l8.8 -2.2l-6.4 -3.9l-8.8 2.2z"/>
<path fill="#11d154" stroke-width="2.08" stroke-opacity="0.71" d="M410.9 654.2l8.8 -2.3l-6.4 -3.9l-8.8 2.3zM402.1 656.7l8.8 -2.5l-6.4 -3.9l-8.8 2.4z"/>
<path fill="#0ed055" stroke-width="2.08" stroke-opacity="0.71" d="M1102.6 465.6l8.8 -2.5l-6.4 -3.7l-8.8 2.5z"/>
<path fill="#0dd056" stroke-width="2.08" stroke-opacity="0.71" d="M1093.8 468.2l8.8 -2.6l-6.4 -3.7l-8.8 2.6z"/>
<path fill="#0cd056" stroke-width="2.08" stroke-opacity="0.71" d="M1085 470.9l8.8 -2.7l-6.4 -3.7l-8.8 2.7z"/>
<path fill="#0bd056" stroke-width="2.08" stroke-opacity="0.71" d="M1076.2 473.6l8.8 -2.7l-6.4 -3.7l-8.8 2.7z"/>
<path fill="#0acf57" stroke-width="2.08" stroke-opacity="0.71" d="M1067.4 476.3l8.8 -2.7l-6.4 -3.7l-8.8 2.9z"/>
<path fill="#08cf57" stroke-width="2.08" stroke-opacity="0.71" d="M1058.6 479.2l8.8 -2.9l-6.4 -3.5l-8.8 2.9z"/>
<path fill="#06cf58" stroke-width="1.86" stroke-opacity="0.85" d="M1049.9 482l8.7 -2.8l-6.4 -3.5l-8.7 2.9z"/>
<path fill="#04ce59" stroke-width="1.86" stroke-opacity="0.85" d="M1041.1 484.9l8.8 -2.9l-6.4 -3.4l-8.8 3z"/>
<path fill="#02ce59" stroke-width="1.86" stroke-opacity="0.85" d="M1032.3 487.8l8.8 -2.9l-6.4 -3.3l-8.8 3.1z"/>
<path fill="#00cd5a" stroke-width="1.86" stroke-opacity="0.85" d="M1023.5 490.8l8.8 -3l-6.4 -3.1l-8.8 3z"/>
<path fill="#00cd5b" stroke-width="1.86" stroke-opacity="0.85" d="M1014.7 493.7l8.8 -2.9l-6.4 -3.1l-8.8 3z"/>
<path fill="#00cd5d" stroke-width="1.86" stroke-opacity="0.85" d="M1005.9 496.6l8.8 -2.9l-6.4 -3l-8.8 3.1z"/>
<path fill="#00cd5e" stroke-width="1.86" stroke-opacity="0.85" d="M997.1 499.5l8.8 -2.9l-6.4 -2.8l-8.8 3z"/>
<path fill="#00cd5f" stroke-width="1.86" stroke-opacity="0.85" d="M988.4 502.4l8.7 -2.9l-6.4 -2.7l-8.7 2.9z"/>
<path fill="#00cd60" stroke-width="1.86" stroke-opacity="0.85" d="M979.6 505.2l8.8 -2.8l-6.4 -2.7l-8.8 2.9z"/>
<path fill="#00cd61" stroke-width="1.65" stroke-opacity="1" d="M970.8 508l8.8 -2.8l-6.4 -2.6l-8.8 2.9z"/>
<path fill="#00cd62" stroke-width="1.65" stroke-opacity="1" d="M962 510.7l8.8 -2.7l-6.4 -2.5l-8.8 2.7z"/>
<path fill="#00ce63" stroke-width="1.65" stroke-opacity="1" d="M953.2 513.3l8.8 -2.6l-6.4 -2.5l-8.8 2.7zM944.4 515.9l8.8 -2.6l-6.4 -2.4l-8.8 2.6zM935.6 518.4l8.8 -2.5l-6.4 -2.4l-8.8 2.5zM926.9 520.8l8.7 -2.4l-6.4 -2.4l-8.7 2.4zM918.1 523.2l8.8 -2.4l-6.4 -2.4l-8.8 2.4z"/>
<path fill="#00cd62" stroke-width="1.65" stroke-opacity="1" d="M909.3 525.5l8.8 -2.3l-6.4 -2.4l-8.8 2.2z"/>
<path fill="#00cd61" stroke-width="1.65" stroke-opacity="1" d="M900.5 527.7l8.8 -2.2l-6.4 -2.5l-8.8 2.2z"/>
<path fill="#00cd60" stroke-width="1.65" stroke-opacity="1" d="M891.7 529.9l8.8 -2.2l-6.4 -2.5l-8.8 2.1z"/>
<path fill="#00cd5f" stroke-width="1.65" stroke-opacity="1" d="M882.9 532l8.8 -2.1l-6.4 -2.6l-8.8 2z"/>
<path fill="#00cd5e" stroke-width="1.65" stroke-opacity="1" d="M874.1 534l8.8 -2l-6.4 -2.7l-8.8 2z"/>
<path fill="#00cd5d" stroke-width="1.65" stroke-opacity="1" d="M865.4 536.1l8.7 -2.1l-6.4 -2.7l-8.7 1.9z"/>
<path fill="#00cd5b" stroke-width="1.65" stroke-opacity="1" d="M856.6 538.1l8.8 -2l-6.4 -2.9l-8.8 1.9z"/>
<path fill="#00cd5a" stroke-width="1.65" stroke-opacity="1" d="M847.8 540.1l8.8 -2l-6.4 -3l-8.8 1.9z"/>
<path fill="#02ce59" stroke-width="1.65" stroke-opacity="1" d="M839 542.1l8.8 -2l-6.4 -3.1l-8.8 1.9z"/>
<path fill="#04ce59" stroke-width="1.86" stroke-opacity="0.85" d="M830.2 544.1l8.8 -2l-6.4 -3.2l-8.8 1.9z"/>
<path fill="#06cf58" stroke-width="1.86" stroke-opacity="0.85" d="M821.4 546.1l8.8 -2l-6.4 -3.3l-8.8 1.9z"/>
<path fill="#08cf57" stroke-width="1.86" stroke-opacity="0.85" d="M812.6 548.2l8.8 -2.1l-6.4 -3.4l-8.8 2z"/>
<path fill="#0acf57" stroke-width="1.86" stroke-opacity="0.85" d="M803.9 550.3l8.7 -2.1l-6.4 -3.5l-8.7 2.1z"/>
<path fill="#0bd056" stroke-width="1.86" stroke-opacity="0.85" d="M795.1 552.5l8.8 -2.2l-6.4 -3.5l-8.8 2z"/>
<path fill="#0cd056" stroke-width="1.86" stroke-opacity="0.85" d="M786.3 554.7l8.8 -2.2l-6.4 -3.7l-8.8 2.2z"/>
<path fill="#0dd056" stroke-width="1.86" stroke-opacity="0.85" d="M777.5 557l8.8 -2.3l-6.4 -3.7l-8.8 2.3z"/>
<path fill="#0ed055" stroke-width="1.86" stroke-opacity="0.85" d="M768.7 559.4l8.8 -2.4l-6.4 -3.7l-8.8 2.3z"/>
<path fill="#0ed055" stroke-width="2.08" stroke-opacity="0.71" d="M759.9 561.8l8.8 -2.4l-6.4 -3.8l-8.8 2.4zM751.1 564.3l8.8 -2.5l-6.4 -3.8l-8.8 2.5z"/>
<path fill="#0dd056" stroke-width="2.08" stroke-opacity="0.71" d="M742.4 566.9l8.7 -2.6l-6.4 -3.8l-8.7 2.6z"/>
<path fill="#0cd056" stroke-width="2.08" stroke-opacity="0.71" d="M733.6 569.5l8.8 -2.6l-6.4 -3.8l-8.8 2.7z"/>
<path fill="#0bd056" stroke-width="2.08" stroke-opacity="0.71" d="M724.8 572.2l8.8 -2.7l-6.4 -3.7l-8.8 2.8z"/>
<path fill="#0acf57" stroke-width="2.08" stroke-opacity="0.71" d="M716 575l8.8 -2.8l-6.4 -3.6l-8.8 2.8z"/>
<path fill="#08cf57" stroke-width="2.08" stroke-opacity="0.71" d="M707.2 577.8l8.8 -2.8l-6.4 -3.6l-8.8 2.9z"/>
<path fill="#06cf58" stroke-width="1.86" stroke-opacity="0.85" d="M698.4 580.7l8.8 -2.9l-6.4 -3.5l-8.8 3z"/>
<path fill="#04ce59" stroke-width="1.86" stroke-opacity="0.85" d="M689.6 583.6l8.8 -2.9l-6.4 -3.4l-8.8 3z"/>
<path fill="#02ce59" stroke-width="1.86" stroke-opacity="0.85" d="M680.9 586.5l8.7 -2.9l-6.4 -3.3l-8.7 3z"/>
<path fill="#00cd5a" stroke-width="1.86" stroke-opacity="0.85" d="M672.1 589.4l8.8 -2.9l-6.4 -3.2l-8.8 3z"/>
<path fill="#00cd5b" stroke-width="1.86" stroke-opacity="0.85" d="M663.3 592.3l8.8 -2.9l-6.4 -3.1l-8.8 3.1z"/>
<path fill="#00cd5d" stroke-width="1.86" stroke-opacity="0.85" d="M654.5 595.3l8.8 -3l-6.4 -2.9l-8.8 3z"/>
<path fill="#00cd5e" stroke-width="1.86" stroke-opacity="0.85" d="M645.7 598.2l8.8 -2.9l-6.4 -2.9l-8.8 3z"/>
<path fill="#00cd5f" stroke-width="1.86" stroke-opacity="0.85" d="M636.9 601l8.8 -2.8l-6.4 -2.8l-8.8 3z"/>
<path fill="#00cd60" stroke-width="1.86" stroke-opacity="0.85" d="M628.1 603.8l8.8 -2.8l-6.4 -2.6l-8.8 2.9z"/>
<path fill="#00cd61" stroke-width="1.65" stroke-opacity="1" d="M619.4 606.6l8.7 -2.8l-6.4 -2.5l-8.7 2.8z"/>
<path fill="#00cd62" stroke-width="1.65" stroke-opacity="1" d="M610.6 609.3l8.8 -2.7l-6.4 -2.5l-8.8 2.8z"/>
<path fill="#00ce63" stroke-width="1.65" stroke-opacity="1" d="M601.8 612l8.8 -2.7l-6.4 -2.4l-8.8 2.7zM593 614.5l8.8 -2.5l-6.4 -2.4l-8.8 2.6zM584.2 617l8.8 -2.5l-6.4 -2.3l-8.8 2.5zM575.4 619.5l8.8 -2.5l-6.4 -2.3l-8.8 2.4zM566.6 621.8l8.8 -2.3l-6.4 -2.4l-8.8 2.3z"/>
<path fill="#00cd62" stroke-width="1.65" stroke-opacity="1" d="M557.9 624.1l8.7 -2.3l-6.4 -2.4l-8.7 2.3z"/>
<path fill="#00cd61" stroke-width="1.65" stroke-opacity="1" d="M549.1 626.3l8.8 -2.2l-6.4 -2.4l-8.8 2.1z"/>
<path fill="#00cd60" stroke-width="1.65" stroke-opacity="1" d="M540.3 628.5l8.8 -2.2l-6.4 -2.5l-8.8 2.1z"/>
<path fill="#00cd5f" stroke-width="1.65" stroke-opacity="1" d="M531.5 630.6l8.8 -2.1l-6.4 -2.6l-8.8 2.1z"/>
<path fill="#00cd5e" stroke-width="1.65" stroke-opacity="1" d="M522.7 632.7l8.8 -2.1l-6.4 -2.6l-8.8 1.9z"/>
<path fill="#00cd5d" stroke-width="1.65" stroke-opacity="1" d="M513.9 634.7l8.8 -2l-6.4 -2.8l-8.8 2z"/>
<path fill="#00cd5b" stroke-width="1.65" stroke-opacity="1" d="M505.1 636.7l8.8 -2l-6.4 -2.8l-8.8 1.9z"/>
<path fill="#00cd5a" stroke-width="1.65" stroke-opacity="1" d="M496.4 638.7l8.7 -2l-6.4 -2.9l-8.7 1.9z"/>
<path fill="#02ce59" stroke-width="1.65" stroke-opacity="1" d="M487.6 640.7l8.8 -2l-6.4 -3l-8.8 1.9z"/>
<path fill="#04ce59" stroke-width="1.86" stroke-opacity="0.85" d="M478.8 642.8l8.8 -2.1l-6.4 -3.1l-8.8 1.9z"/>
<path fill="#06cf58" stroke-width="1.86" stroke-opacity="0.85" d="M470 644.8l8.8 -2l-6.4 -3.3l-8.8 1.9z"/>
<path fill="#08cf57" stroke-width="1.86" stroke-opacity="0.85" d="M461.2 646.9l8.8 -2.1l-6.4 -3.4l-8.8 2z"/>
<path fill="#0acf57" stroke-width="1.86" stroke-opacity="0.85" d="M452.4 649l8.8 -2.1l-6.4 -3.5l-8.8 2z"/>
<path fill="#0bd056" stroke-width="1.86" stroke-opacity="0.85" d="M443.6 651.1l8.8 -2.1l-6.4 -3.6l-8.8 2.1z"/>
<path fill="#0cd056" stroke-width="1.86" stroke-opacity="0.85" d="M434.9 653.4l8.7 -2.3l-6.4 -3.6l-8.7 2.2z"/>
<path fill="#0dd056" stroke-width="1.86" stroke-opacity="0.85" d="M426.1 655.7l8.8 -2.3l-6.4 -3.7l-8.8 2.2z"/>
<path fill="#0ed055" stroke-width="1.86" stroke-opacity="0.85" d="M417.3 658l8.8 -2.3l-6.4 -3.8l-8.8 2.3z"/>
<path fill="#0ed055" stroke-width="2.08" stroke-opacity="0.71" d="M408.5 660.4l8.8 -2.4l-6.4 -3.8l-8.8 2.5z"/>
<path fill="#0bd056" stroke-width="1.86" stroke-opacity="0.85" d="M1109 469.3l8.8 -2.5l-6.4 -3.7l-8.8 2.5zM1100.2 471.8l8.8 -2.5l-6.4 -3.7l-8.8 2.6z"/>
<path fill="#0acf57" stroke-width="1.86" stroke-opacity="0.85" d="M1091.4 474.4l8.8 -2.6l-6.4 -3.6l-8.8 2.7z"/>
<path fill="#09cf57" stroke-width="1.86" stroke-opacity="0.85" d="M1082.6 477.1l8.8 -2.7l-6.4 -3.5l-8.8 2.7z"/>
<path fill="#08cf57" stroke-width="1.86" stroke-opacity="0.85" d="M1073.8 479.8l8.8 -2.7l-6.4 -3.5l-8.8 2.7z"/>
<path fill="#07cf58" stroke-width="1.86" stroke-opacity="0.85" d="M1065 482.6l8.8 -2.8l-6.4 -3.5l-8.8 2.9z"/>
<path fill="#05ce58" stroke-width="1.86" stroke-opacity="0.85" d="M1056.3 485.3l8.7 -2.7l-6.4 -3.4l-8.7 2.8z"/>
<path fill="#03ce59" stroke-width="1.86" stroke-opacity="0.85" d="M1047.5 488.2l8.8 -2.9l-6.4 -3.3l-8.8 2.9z"/>
<path fill="#02cd59" stroke-width="1.86" stroke-opacity="0.85" d="M1038.7 491l8.8 -2.8l-6.4 -3.3l-8.8 2.9z"/>
<path fill="#00cd5a" stroke-width="1.86" stroke-opacity="0.85" d="M1029.9 493.8l8.8 -2.8l-6.4 -3.2l-8.8 3z"/>
<path fill="#00cd5b" stroke-width="1.86" stroke-opacity="0.85" d="M1021.1 496.7l8.8 -2.9l-6.4 -3l-8.8 2.9z"/>
<path fill="#00cd5c" stroke-width="1.86" stroke-opacity="0.85" d="M1012.3 499.5l8.8 -2.8l-6.4 -3l-8.8 2.9z"/>
<path fill="#00cd5d" stroke-width="1.86" stroke-opacity="0.85" d="M1003.5 502.3l8.8 -2.8l-6.4 -2.9l-8.8 2.9z"/>
<path fill="#00cd5e" stroke-width="1.86" stroke-opacity="0.85" d="M994.8 505.1l8.7 -2.8l-6.4 -2.8l-8.7 2.9z"/>
<path fill="#00cd5f" stroke-width="1.86" stroke-opacity="0.85" d="M986 507.9l8.8 -2.8l-6.4 -2.7l-8.8 2.8z"/>
<path fill="#00cd60" stroke-width="1.65" stroke-opacity="1" d="M977.2 510.6l8.8 -2.7l-6.4 -2.7l-8.8 2.8z"/>
<path fill="#00cd61" stroke-width="1.65" stroke-opacity="1" d="M968.4 513.2l8.8 -2.6l-6.4 -2.6l-8.8 2.7zM959.6 515.8l8.8 -2.6l-6.4 -2.5l-8.8 2.6zM950.8 518.4l8.8 -2.6l-6.4 -2.5l-8.8 2.6zM942 520.9l8.8 -2.5l-6.4 -2.5l-8.8 2.5zM933.3 523.3l8.7 -2.4l-6.4 -2.5l-8.7 2.4zM924.5 525.7l8.8 -2.4l-6.4 -2.5l-8.8 2.4zM915.7 528l8.8 -2.3l-6.4 -2.5l-8.8 2.3z"/>
<path fill="#00cd60" stroke-width="1.65" stroke-opacity="1" d="M906.9 530.3l8.8 -2.3l-6.4 -2.5l-8.8 2.2z"/>
<path fill="#00cd5f" stroke-width="1.65" stroke-opacity="1" d="M898.1 532.5l8.8 -2.2l-6.4 -2.6l-8.8 2.2z"/>
<path fill="#00cd5e" stroke-width="1.65" stroke-opacity="1" d="M889.3 534.7l8.8 -2.2l-6.4 -2.6l-8.8 2.1z"/>
<path fill="#00cd5d" stroke-width="1.65" stroke-opacity="1" d="M880.5 536.8l8.8 -2.1l-6.4 -2.7l-8.8 2z"/>
<path fill="#00cd5c" stroke-width="1.65" stroke-opacity="1" d="M871.8 539l8.7 -2.2l-6.4 -2.8l-8.7 2.1z"/>
<path fill="#00cd5b" stroke-width="1.65" stroke-opacity="1" d="M863 541.1l8.8 -2.1l-6.4 -2.9l-8.8 2z"/>
<path fill="#00cd5a" stroke-width="1.65" stroke-opacity="1" d="M854.2 543.2l8.8 -2.1l-6.4 -3l-8.8 2z"/>
<path fill="#02cd59" stroke-width="1.86" stroke-opacity="0.85" d="M845.4 545.2l8.8 -2l-6.4 -3.1l-8.8 2z"/>
<path fill="#03ce59" stroke-width="1.86" stroke-opacity="0.85" d="M836.6 547.4l8.8 -2.2l-6.4 -3.1l-8.8 2z"/>
<path fill="#05ce58" stroke-width="1.86" stroke-opacity="0.85" d="M827.8 549.5l8.8 -2.1l-6.4 -3.3l-8.8 2z"/>
<path fill="#07cf58" stroke-width="1.86" stroke-opacity="0.85" d="M819 551.6l8.8 -2.1l-6.4 -3.4l-8.8 2.1z"/>
<path fill="#08cf57" stroke-width="1.86" stroke-opacity="0.85" d="M810.3 553.8l8.7 -2.2l-6.4 -3.4l-8.7 2.1z"/>
<path fill="#09cf57" stroke-width="1.86" stroke-opacity="0.85" d="M801.5 556l8.8 -2.2l-6.4 -3.5l-8.8 2.2z"/>
<path fill="#0acf57" stroke-width="1.86" stroke-opacity="0.85" d="M792.7 558.3l8.8 -2.3l-6.4 -3.5l-8.8 2.2z"/>
<path fill="#0bd056" stroke-width="1.86" stroke-opacity="0.85" d="M783.9 560.6l8.8 -2.3l-6.4 -3.6l-8.8 2.3zM775.1 563l8.8 -2.4l-6.4 -3.6l-8.8 2.4zM766.3 565.4l8.8 -2.4l-6.4 -3.6l-8.8 2.4zM757.5 567.9l8.8 -2.5l-6.4 -3.6l-8.8 2.5zM748.8 570.5l8.7 -2.6l-6.4 -3.6l-8.7 2.6z"/>
<path fill="#0acf57" stroke-width="1.86" stroke-opacity="0.85" d="M740 573.1l8.8 -2.6l-6.4 -3.6l-8.8 2.6z"/>
<path fill="#09cf57" stroke-width="1.86" stroke-opacity="0.85" d="M731.2 575.8l8.8 -2.7l-6.4 -3.6l-8.8 2.7z"/>
<path fill="#08cf57" stroke-width="1.86" stroke-opacity="0.85" d="M722.4 578.5l8.8 -2.7l-6.4 -3.6l-8.8 2.8z"/>
<path fill="#07cf58" stroke-width="1.86" stroke-opacity="0.85" d="M713.6 581.2l8.8 -2.7l-6.4 -3.5l-8.8 2.8z"/>
<path fill="#05ce58" stroke-width="1.86" stroke-opacity="0.85" d="M704.8 584l8.8 -2.8l-6.4 -3.4l-8.8 2.9z"/>
<path fill="#03ce59" stroke-width="1.86" stroke-opacity="0.85" d="M696 586.8l8.8 -2.8l-6.4 -3.3l-8.8 2.9z"/>
<path fill="#02cd59" stroke-width="1.86" stroke-opacity="0.85" d="M687.3 589.6l8.7 -2.8l-6.4 -3.2l-8.7 2.9z"/>
<path fill="#00cd5a" stroke-width="1.86" stroke-opacity="0.85" d="M678.5 592.5l8.8 -2.9l-6.4 -3.1l-8.8 2.9z"/>
<path fill="#00cd5b" stroke-width="1.86" stroke-opacity="0.85" d="M669.7 595.3l8.8 -2.8l-6.4 -3.1l-8.8 2.9z"/>
<path fill="#00cd5c" stroke-width="1.86" stroke-opacity="0.85" d="M660.9 598.2l8.8 -2.9l-6.4 -3l-8.8 3z"/>
<path fill="#00cd5d" stroke-width="1.86" stroke-opacity="0.85" d="M652.1 601l8.8 -2.8l-6.4 -2.9l-8.8 2.9z"/>
<path fill="#00cd5e" stroke-width="1.86" stroke-opacity="0.85" d="M643.3 603.8l8.8 -2.8l-6.4 -2.8l-8.8 2.8z"/>
<path fill="#00cd5f" stroke-width="1.86" stroke-opacity="0.85" d="M634.5 606.5l8.8 -2.7l-6.4 -2.8l-8.8 2.8z"/>
<path fill="#00cd60" stroke-width="1.65" stroke-opacity="1" d="M625.8 609.2l8.7 -2.7l-6.4 -2.7l-8.7 2.8z"/>
<path fill="#00cd61" stroke-width="1.65" stroke-opacity="1" d="M617 611.9l8.8 -2.7l-6.4 -2.6l-8.8 2.7zM608.2 614.5l8.8 -2.6l-6.4 -2.6l-8.8 2.7zM599.4 617l8.8 -2.5l-6.4 -2.5l-8.8 2.5zM590.6 619.5l8.8 -2.5l-6.4 -2.5l-8.8 2.5zM581.8 622l8.8 -2.5l-6.4 -2.5l-8.8 2.5zM573 624.4l8.8 -2.4l-6.4 -2.5l-8.8 2.3zM564.3 626.7l8.7 -2.3l-6.4 -2.6l-8.7 2.3z"/>
<path fill="#00cd60" stroke-width="1.65" stroke-opacity="1" d="M555.5 628.9l8.8 -2.2l-6.4 -2.6l-8.8 2.2z"/>
<path fill="#00cd5f" stroke-width="1.65" stroke-opacity="1" d="M546.7 631.2l8.8 -2.3l-6.4 -2.6l-8.8 2.2z"/>
<path fill="#00cd5e" stroke-width="1.65" stroke-opacity="1" d="M537.9 633.3l8.8 -2.1l-6.4 -2.7l-8.8 2.1z"/>
<path fill="#00cd5d" stroke-width="1.65" stroke-opacity="1" d="M529.1 635.5l8.8 -2.2l-6.4 -2.7l-8.8 2.1z"/>
<path fill="#00cd5c" stroke-width="1.65" stroke-opacity="1" d="M520.3 637.6l8.8 -2.1l-6.4 -2.8l-8.8 2z"/>
<path fill="#00cd5b" stroke-width="1.65" stroke-opacity="1" d="M511.5 639.7l8.8 -2.1l-6.4 -2.9l-8.8 2z"/>
<path fill="#00cd5a" stroke-width="1.65" stroke-opacity="1" d="M502.8 641.8l8.7 -2.1l-6.4 -3l-8.7 2z"/>
<path fill="#02cd59" stroke-width="1.86" stroke-opacity="0.85" d="M494 643.9l8.8 -2.1l-6.4 -3.1l-8.8 2z"/>
<path fill="#03ce59" stroke-width="1.86" stroke-opacity="0.85" d="M485.2 646l8.8 -2.1l-6.4 -3.2l-8.8 2.1z"/>
<path fill="#05ce58" stroke-width="1.86" stroke-opacity="0.85" d="M476.4 648.1l8.8 -2.1l-6.4 -3.2l-8.8 2z"/>
<path fill="#07cf58" stroke-width="1.86" stroke-opacity="0.85" d="M467.6 650.3l8.8 -2.2l-6.4 -3.3l-8.8 2.1z"/>
<path fill="#08cf57" stroke-width="1.86" stroke-opacity="0.85" d="M458.8 652.4l8.8 -2.1l-6.4 -3.4l-8.8 2.1z"/>
<path fill="#09cf57" stroke-width="1.86" stroke-opacity="0.85" d="M450 654.7l8.8 -2.3l-6.4 -3.4l-8.8 2.1z"/>
<path fill="#0acf57" stroke-width="1.86" stroke-opacity="0.85" d="M441.3 656.9l8.7 -2.2l-6.4 -3.6l-8.7 2.3z"/>
<path fill="#0bd056" stroke-width="1.86" stroke-opacity="0.85" d="M432.5 659.3l8.8 -2.4l-6.4 -3.5l-8.8 2.3zM423.7 661.6l8.8 -2.3l-6.4 -3.6l-8.8 2.3zM414.9 664.1l8.8 -2.5l-6.4 -3.6l-8.8 2.4z"/>
<path fill="#09cf57" stroke-width="1.86" stroke-opacity="0.85" d="M1115.4 472.8l8.8 -2.5l-6.4 -3.5l-8.8 2.5z"/>
<path fill="#08cf57" stroke-width="1.86" stroke-opacity="0.85" d="M1106.6 475.3l8.8 -2.5l-6.4 -3.5l-8.8 2.5zM1097.8 477.9l8.8 -2.6l-6.4 -3.5l-8.8 2.6z"/>
<path fill="#07cf58" stroke-width="1.86" stroke-opacity="0.85" d="M1089 480.5l8.8 -2.6l-6.4 -3.5l-8.8 2.7z"/>
<path fill="#06cf58" stroke-width="1.86" stroke-opacity="0.85" d="M1080.2 483.2l8.8 -2.7l-6.4 -3.4l-8.8 2.7z"/>
<path fill="#05ce58" stroke-width="1.86" stroke-opacity="0.85" d="M1071.4 485.9l8.8 -2.7l-6.4 -3.4l-8.8 2.8z"/>
<path fill="#04ce59" stroke-width="1.86" stroke-opacity="0.85" d="M1062.7 488.6l8.7 -2.7l-6.4 -3.3l-8.7 2.7z"/>
<path fill="#03ce59" stroke-width="1.86" stroke-opacity="0.85" d="M1053.9 491.4l8.8 -2.8l-6.4 -3.3l-8.8 2.9z"/>
<path fill="#01cd5a" stroke-width="1.86" stroke-opacity="0.85" d="M1045.1 494.1l8.8 -2.7l-6.4 -3.2l-8.8 2.8z"/>
<path fill="#00cd5a" stroke-width="1.86" stroke-opacity="0.85" d="M1036.3 496.9l8.8 -2.8l-6.4 -3.1l-8.8 2.8z"/>
<path fill="#00cd5b" stroke-width="1.86" stroke-opacity="0.85" d="M1027.5 499.7l8.8 -2.8l-6.4 -3.1l-8.8 2.9z"/>
<path fill="#00cd5c" stroke-width="1.86" stroke-opacity="0.85" d="M1018.7 502.4l8.8 -2.7l-6.4 -3l-8.8 2.8z"/>
<path fill="#00cd5d" stroke-width="1.86" stroke-opacity="0.85" d="M1009.9 505.2l8.8 -2.8l-6.4 -2.9l-8.8 2.8zM1001.2 507.9l8.7 -2.7l-6.4 -2.9l-8.7 2.8z"/>
<path fill="#00cd5e" stroke-width="1.86" stroke-opacity="0.85" d="M992.4 510.6l8.8 -2.7l-6.4 -2.8l-8.8 2.8z"/>
<path fill="#00cd5f" stroke-width="1.86" stroke-opacity="0.85" d="M983.6 513.3l8.8 -2.7l-6.4 -2.7l-8.8 2.7z"/>
<path fill="#00cd5f" stroke-width="1.65" stroke-opacity="1" d="M974.8 515.9l8.8 -2.6l-6.4 -2.7l-8.8 2.6z"/>
<path fill="#00cd60" stroke-width="1.65" stroke-opacity="1" d="M966 518.5l8.8 -2.6l-6.4 -2.7l-8.8 2.6zM957.2 521l8.8 -2.5l-6.4 -2.7l-8.8 2.6zM948.4 523.5l8.8 -2.5l-6.4 -2.6l-8.8 2.5zM939.7 525.9l8.7 -2.4l-6.4 -2.6l-8.7 2.4zM930.9 528.3l8.8 -2.4l-6.4 -2.6l-8.8 2.4z"/>
<path fill="#00cd5f" stroke-width="1.65" stroke-opacity="1" d="M922.1 530.7l8.8 -2.4l-6.4 -2.6l-8.8 2.3zM913.3 533l8.8 -2.3l-6.4 -2.7l-8.8 2.3z"/>
<path fill="#00cd5e" stroke-width="1.65" stroke-opacity="1" d="M904.5 535.3l8.8 -2.3l-6.4 -2.7l-8.8 2.2z"/>
<path fill="#00cd5d" stroke-width="1.65" stroke-opacity="1" d="M895.7 537.5l8.8 -2.2l-6.4 -2.8l-8.8 2.2zM886.9 539.7l8.8 -2.2l-6.4 -2.8l-8.8 2.1z"/>
<path fill="#00cd5c" stroke-width="1.65" stroke-opacity="1" d="M878.2 541.9l8.7 -2.2l-6.4 -2.9l-8.7 2.2z"/>
<path fill="#00cd5b" stroke-width="1.65" stroke-opacity="1" d="M869.4 544.1l8.8 -2.2l-6.4 -2.9l-8.8 2.1z"/>
<path fill="#00cd5a" stroke-width="1.86" stroke-opacity="0.85" d="M860.6 546.2l8.8 -2.1l-6.4 -3l-8.8 2.1z"/>
<path fill="#01cd5a" stroke-width="1.86" stroke-opacity="0.85" d="M851.8 548.4l8.8 -2.2l-6.4 -3l-8.8 2z"/>
<path fill="#03ce59" stroke-width="1.86" stroke-opacity="0.85" d="M843 550.6l8.8 -2.2l-6.4 -3.2l-8.8 2.2z"/>
<path fill="#04ce59" stroke-width="1.86" stroke-opacity="0.85" d="M834.2 552.8l8.8 -2.2l-6.4 -3.2l-8.8 2.1z"/>
<path fill="#05ce58" stroke-width="1.86" stroke-opacity="0.85" d="M825.4 555l8.8 -2.2l-6.4 -3.3l-8.8 2.1z"/>
<path fill="#06cf58" stroke-width="1.86" stroke-opacity="0.85" d="M816.7 557.2l8.7 -2.2l-6.4 -3.4l-8.7 2.2z"/>
<path fill="#07cf58" stroke-width="1.86" stroke-opacity="0.85" d="M807.9 559.5l8.8 -2.3l-6.4 -3.4l-8.8 2.2z"/>
<path fill="#08cf57" stroke-width="1.86" stroke-opacity="0.85" d="M799.1 561.8l8.8 -2.3l-6.4 -3.5l-8.8 2.3zM790.3 564.1l8.8 -2.3l-6.4 -3.5l-8.8 2.3z"/>
<path fill="#09cf57" stroke-width="1.86" stroke-opacity="0.85" d="M781.5 566.5l8.8 -2.4l-6.4 -3.5l-8.8 2.4zM772.7 569l8.8 -2.5l-6.4 -3.5l-8.8 2.4zM763.9 571.5l8.8 -2.5l-6.4 -3.6l-8.8 2.5z"/>
<path fill="#08cf57" stroke-width="1.86" stroke-opacity="0.85" d="M755.2 574l8.7 -2.5l-6.4 -3.6l-8.7 2.6zM746.4 576.6l8.8 -2.6l-6.4 -3.5l-8.8 2.6z"/>
<path fill="#07cf58" stroke-width="1.86" stroke-opacity="0.85" d="M737.6 579.2l8.8 -2.6l-6.4 -3.5l-8.8 2.7z"/>
<path fill="#06cf58" stroke-width="1.86" stroke-opacity="0.85" d="M728.8 581.9l8.8 -2.7l-6.4 -3.4l-8.8 2.7z"/>
<path fill="#05ce58" stroke-width="1.86" stroke-opacity="0.85" d="M720 584.6l8.8 -2.7l-6.4 -3.4l-8.8 2.7z"/>
<path fill="#04ce59" stroke-width="1.86" stroke-opacity="0.85" d="M711.2 587.3l8.8 -2.7l-6.4 -3.4l-8.8 2.8z"/>
<path fill="#03ce59" stroke-width="1.86" stroke-opacity="0.85" d="M702.4 590l8.8 -2.7l-6.4 -3.3l-8.8 2.8z"/>
<path fill="#01cd5a" stroke-width="1.86" stroke-opacity="0.85" d="M693.7 592.8l8.7 -2.8l-6.4 -3.2l-8.7 2.8z"/>
<path fill="#00cd5a" stroke-width="1.86" stroke-opacity="0.85" d="M684.9 595.6l8.8 -2.8l-6.4 -3.2l-8.8 2.9z"/>
<path fill="#00cd5b" stroke-width="1.86" stroke-opacity="0.85" d="M676.1 598.3l8.8 -2.7l-6.4 -3.1l-8.8 2.8z"/>
<path fill="#00cd5c" stroke-width="1.86" stroke-opacity="0.85" d="M667.3 601.1l8.8 -2.8l-6.4 -3l-8.8 2.9z"/>
<path fill="#00cd5d" stroke-width="1.86" stroke-opacity="0.85" d="M658.5 603.8l8.8 -2.7l-6.4 -2.9l-8.8 2.8zM649.7 606.6l8.8 -2.8l-6.4 -2.8l-8.8 2.8z"/>
<path fill="#00cd5e" stroke-width="1.86" stroke-opacity="0.85" d="M640.9 609.2l8.8 -2.6l-6.4 -2.8l-8.8 2.7z"/>
<path fill="#00cd5f" stroke-width="1.86" stroke-opacity="0.85" d="M632.2 611.9l8.7 -2.7l-6.4 -2.7l-8.7 2.7z"/>
<path fill="#00cd5f" stroke-width="1.65" stroke-opacity="1" d="M623.4 614.5l8.8 -2.6l-6.4 -2.7l-8.8 2.7z"/>
<path fill="#00cd60" stroke-width="1.65" stroke-opacity="1" d="M614.6 617.1l8.8 -2.6l-6.4 -2.6l-8.8 2.6zM605.8 619.7l8.8 -2.6l-6.4 -2.6l-8.8 2.5zM597 622.1l8.8 -2.4l-6.4 -2.7l-8.8 2.5zM588.2 624.6l8.8 -2.5l-6.4 -2.6l-8.8 2.5zM579.4 627l8.8 -2.4l-6.4 -2.6l-8.8 2.4z"/>
<path fill="#00cd5f" stroke-width="1.65" stroke-opacity="1" d="M570.7 629.3l8.7 -2.3l-6.4 -2.6l-8.7 2.3zM561.9 631.6l8.8 -2.3l-6.4 -2.6l-8.8 2.2z"/>
<path fill="#00cd5e" stroke-width="1.65" stroke-opacity="1" d="M553.1 633.9l8.8 -2.3l-6.4 -2.7l-8.8 2.3z"/>
<path fill="#00cd5d" stroke-width="1.65" stroke-opacity="1" d="M544.3 636.1l8.8 -2.2l-6.4 -2.7l-8.8 2.1zM535.5 638.4l8.8 -2.3l-6.4 -2.8l-8.8 2.2z"/>
<path fill="#00cd5c" stroke-width="1.65" stroke-opacity="1" d="M526.7 640.5l8.8 -2.1l-6.4 -2.9l-8.8 2.1z"/>
<path fill="#00cd5b" stroke-width="1.65" stroke-opacity="1" d="M517.9 642.7l8.8 -2.2l-6.4 -2.9l-8.8 2.1z"/>
<path fill="#00cd5a" stroke-width="1.86" stroke-opacity="0.85" d="M509.2 644.9l8.7 -2.2l-6.4 -3l-8.7 2.1z"/>
<path fill="#01cd5a" stroke-width="1.86" stroke-opacity="0.85" d="M500.4 647l8.8 -2.1l-6.4 -3.1l-8.8 2.1z"/>
<path fill="#03ce59" stroke-width="1.86" stroke-opacity="0.85" d="M491.6 649.2l8.8 -2.2l-6.4 -3.1l-8.8 2.1z"/>
<path fill="#04ce59" stroke-width="1.86" stroke-opacity="0.85" d="M482.8 651.4l8.8 -2.2l-6.4 -3.2l-8.8 2.1z"/>
<path fill="#05ce58" stroke-width="1.86" stroke-opacity="0.85" d="M474 653.6l8.8 -2.2l-6.4 -3.3l-8.8 2.2z"/>
<path fill="#06cf58" stroke-width="1.86" stroke-opacity="0.85" d="M465.2 655.8l8.8 -2.2l-6.4 -3.3l-8.8 2.1z"/>
<path fill="#07cf58" stroke-width="1.86" stroke-opacity="0.85" d="M456.4 658.1l8.8 -2.3l-6.4 -3.4l-8.8 2.3z"/>
<path fill="#08cf57" stroke-width="1.86" stroke-opacity="0.85" d="M447.7 660.4l8.7 -2.3l-6.4 -3.4l-8.7 2.2zM438.9 662.8l8.8 -2.4l-6.4 -3.5l-8.8 2.4z"/>
<path fill="#09cf57" stroke-width="1.86" stroke-opacity="0.85" d="M430.1 665.2l8.8 -2.4l-6.4 -3.5l-8.8 2.3zM421.3 667.6l8.8 -2.4l-6.4 -3.6l-8.8 2.5z"/>
<path fill="#07cf58" stroke-width="1.86" stroke-opacity="0.85" d="M1121.8 476.2l8.8 -2.4l-6.4 -3.5l-8.8 2.5zM1113 478.8l8.8 -2.6l-6.4 -3.4l-8.8 2.5z"/>
<path fill="#06cf58" stroke-width="1.86" stroke-opacity="0.85" d="M1104.2 481.3l8.8 -2.5l-6.4 -3.5l-8.8 2.6z"/>
<path fill="#06ce58" stroke-width="1.86" stroke-opacity="0.85" d="M1095.4 483.9l8.8 -2.6l-6.4 -3.4l-8.8 2.6z"/>
<path fill="#05ce58" stroke-width="1.86" stroke-opacity="0.85" d="M1086.6 486.5l8.8 -2.6l-6.4 -3.4l-8.8 2.7z"/>
<path fill="#04ce59" stroke-width="1.86" stroke-opacity="0.85" d="M1077.8 489.2l8.8 -2.7l-6.4 -3.3l-8.8 2.7z"/>
<path fill="#03ce59" stroke-width="1.86" stroke-opacity="0.85" d="M1069.1 491.9l8.7 -2.7l-6.4 -3.3l-8.7 2.7z"/>
<path fill="#02ce59" stroke-width="1.86" stroke-opacity="0.85" d="M1060.3 494.6l8.8 -2.7l-6.4 -3.3l-8.8 2.8z"/>
<path fill="#01cd5a" stroke-width="1.86" stroke-opacity="0.85" d="M1051.5 497.3l8.8 -2.7l-6.4 -3.2l-8.8 2.7z"/>
<path fill="#00cd5a" stroke-width="1.86" stroke-opacity="0.85" d="M1042.7 500l8.8 -2.7l-6.4 -3.2l-8.8 2.8z"/>
<path fill="#00cd5b" stroke-width="1.86" stroke-opacity="0.85" d="M1033.9 502.7l8.8 -2.7l-6.4 -3.1l-8.8 2.8zM1025.1 505.4l8.8 -2.7l-6.4 -3l-8.8 2.7z"/>
<path fill="#00cd5c" stroke-width="1.86" stroke-opacity="0.85" d="M1016.3 508.1l8.8 -2.7l-6.4 -3l-8.8 2.8z"/>
<path fill="#00cd5d" stroke-width="1.86" stroke-opacity="0.85" d="M1007.6 510.8l8.7 -2.7l-6.4 -2.9l-8.7 2.7zM998.8 513.4l8.8 -2.6l-6.4 -2.9l-8.8 2.7z"/>
<path fill="#00cd5e" stroke-width="1.86" stroke-opacity="0.85" d="M990 516l8.8 -2.6l-6.4 -2.8l-8.8 2.7zM981.2 518.6l8.8 -2.6l-6.4 -2.7l-8.8 2.6z"/>
<path fill="#00cd5f" stroke-width="1.65" stroke-opacity="1" d="M972.4 521.2l8.8 -2.6l-6.4 -2.7l-8.8 2.6zM963.6 523.7l8.8 -2.5l-6.4 -2.7l-8.8 2.5zM954.8 526.2l8.8 -2.5l-6.4 -2.7l-8.8 2.5zM946.1 528.6l8.7 -2.4l-6.4 -2.7l-8.7 2.4zM937.3 531l8.8 -2.4l-6.4 -2.7l-8.8 2.4z"/>
<path fill="#00cd5e" stroke-width="1.65" stroke-opacity="1" d="M928.5 533.4l8.8 -2.4l-6.4 -2.7l-8.8 2.4zM919.7 535.8l8.8 -2.4l-6.4 -2.7l-8.8 2.3z"/>
<path fill="#00cd5d" stroke-width="1.65" stroke-opacity="1" d="M910.9 538.1l8.8 -2.3l-6.4 -2.8l-8.8 2.3zM902.1 540.3l8.8 -2.2l-6.4 -2.8l-8.8 2.2z"/>
<path fill="#00cd5c" stroke-width="1.65" stroke-opacity="1" d="M893.3 542.6l8.8 -2.3l-6.4 -2.8l-8.8 2.2z"/>
<path fill="#00cd5b" stroke-width="1.65" stroke-opacity="1" d="M884.6 544.8l8.7 -2.2l-6.4 -2.9l-8.7 2.2z"/>
<path fill="#00cd5b" stroke-width="1.86" stroke-opacity="0.85" d="M875.8 547.1l8.8 -2.3l-6.4 -2.9l-8.8 2.2z"/>
<path fill="#00cd5a" stroke-width="1.86" stroke-opacity="0.85" d="M867 549.3l8.8 -2.2l-6.4 -3l-8.8 2.1z"/>
<path fill="#01cd5a" stroke-width="1.86" stroke-opacity="0.85" d="M858.2 551.5l8.8 -2.2l-6.4 -3.1l-8.8 2.2z"/>
<path fill="#02ce59" stroke-width="1.86" stroke-opacity="0.85" d="M849.4 553.7l8.8 -2.2l-6.4 -3.1l-8.8 2.2z"/>
<path fill="#03ce59" stroke-width="1.86" stroke-opacity="0.85" d="M840.6 556l8.8 -2.3l-6.4 -3.1l-8.8 2.2z"/>
<path fill="#04ce59" stroke-width="1.86" stroke-opacity="0.85" d="M831.8 558.2l8.8 -2.2l-6.4 -3.2l-8.8 2.2z"/>
<path fill="#05ce58" stroke-width="1.86" stroke-opacity="0.85" d="M823.1 560.5l8.7 -2.3l-6.4 -3.2l-8.7 2.2z"/>
<path fill="#06ce58" stroke-width="1.86" stroke-opacity="0.85" d="M814.3 562.8l8.8 -2.3l-6.4 -3.3l-8.8 2.3z"/>
<path fill="#06cf58" stroke-width="1.86" stroke-opacity="0.85" d="M805.5 565.2l8.8 -2.4l-6.4 -3.3l-8.8 2.3z"/>
<path fill="#07cf58" stroke-width="1.86" stroke-opacity="0.85" d="M796.7 567.5l8.8 -2.3l-6.4 -3.4l-8.8 2.3zM787.9 570l8.8 -2.5l-6.4 -3.4l-8.8 2.4zM779.1 572.4l8.8 -2.4l-6.4 -3.5l-8.8 2.5zM770.3 574.9l8.8 -2.5l-6.4 -3.4l-8.8 2.5zM761.6 577.4l8.7 -2.5l-6.4 -3.4l-8.7 2.5z"/>
<path fill="#06cf58" stroke-width="1.86" stroke-opacity="0.85" d="M752.8 580l8.8 -2.6l-6.4 -3.4l-8.8 2.6z"/>
<path fill="#06ce58" stroke-width="1.86" stroke-opacity="0.85" d="M744 582.6l8.8 -2.6l-6.4 -3.4l-8.8 2.6z"/>
<path fill="#05ce58" stroke-width="1.86" stroke-opacity="0.85" d="M735.2 585.2l8.8 -2.6l-6.4 -3.4l-8.8 2.7z"/>
<path fill="#04ce59" stroke-width="1.86" stroke-opacity="0.85" d="M726.4 587.8l8.8 -2.6l-6.4 -3.3l-8.8 2.7z"/>
<path fill="#03ce59" stroke-width="1.86" stroke-opacity="0.85" d="M717.6 590.5l8.8 -2.7l-6.4 -3.2l-8.8 2.7z"/>
<path fill="#02ce59" stroke-width="1.86" stroke-opacity="0.85" d="M708.8 593.2l8.8 -2.7l-6.4 -3.2l-8.8 2.7z"/>
<path fill="#01cd5a" stroke-width="1.86" stroke-opacity="0.85" d="M700.1 595.9l8.7 -2.7l-6.4 -3.2l-8.7 2.8z"/>
<path fill="#00cd5a" stroke-width="1.86" stroke-opacity="0.85" d="M691.3 598.6l8.8 -2.7l-6.4 -3.1l-8.8 2.8z"/>
<path fill="#00cd5b" stroke-width="1.86" stroke-opacity="0.85" d="M682.5 601.3l8.8 -2.7l-6.4 -3l-8.8 2.7zM673.7 604l8.8 -2.7l-6.4 -3l-8.8 2.8z"/>
<path fill="#00cd5c" stroke-width="1.86" stroke-opacity="0.85" d="M664.9 606.7l8.8 -2.7l-6.4 -2.9l-8.8 2.7z"/>
<path fill="#00cd5d" stroke-width="1.86" stroke-opacity="0.85" d="M656.1 609.4l8.8 -2.7l-6.4 -2.9l-8.8 2.8zM647.3 612.1l8.8 -2.7l-6.4 -2.8l-8.8 2.6z"/>
<path fill="#00cd5e" stroke-width="1.86" stroke-opacity="0.85" d="M638.6 614.7l8.7 -2.6l-6.4 -2.9l-8.7 2.7zM629.8 617.3l8.8 -2.6l-6.4 -2.8l-8.8 2.6z"/>
<path fill="#00cd5f" stroke-width="1.65" stroke-opacity="1" d="M621 619.8l8.8 -2.5l-6.4 -2.8l-8.8 2.6zM612.2 622.4l8.8 -2.6l-6.4 -2.7l-8.8 2.6zM603.4 624.8l8.8 -2.4l-6.4 -2.7l-8.8 2.4zM594.6 627.3l8.8 -2.5l-6.4 -2.7l-8.8 2.5zM585.8 629.7l8.8 -2.4l-6.4 -2.7l-8.8 2.4z"/>
<path fill="#00cd5e" stroke-width="1.65" stroke-opacity="1" d="M577.1 632.1l8.7 -2.4l-6.4 -2.7l-8.7 2.3zM568.3 634.4l8.8 -2.3l-6.4 -2.8l-8.8 2.3z"/>
<path fill="#00cd5d" stroke-width="1.65" stroke-opacity="1" d="M559.5 636.7l8.8 -2.3l-6.4 -2.8l-8.8 2.3zM550.7 639l8.8 -2.3l-6.4 -2.8l-8.8 2.2z"/>
<path fill="#00cd5c" stroke-width="1.65" stroke-opacity="1" d="M541.9 641.3l8.8 -2.3l-6.4 -2.9l-8.8 2.3z"/>
<path fill="#00cd5b" stroke-width="1.65" stroke-opacity="1" d="M533.1 643.5l8.8 -2.2l-6.4 -2.9l-8.8 2.1z"/>
<path fill="#00cd5b" stroke-width="1.86" stroke-opacity="0.85" d="M524.3 645.7l8.8 -2.2l-6.4 -3l-8.8 2.2z"/>
<path fill="#00cd5a" stroke-width="1.86" stroke-opacity="0.85" d="M515.6 647.9l8.7 -2.2l-6.4 -3l-8.7 2.2z"/>
<path fill="#01cd5a" stroke-width="1.86" stroke-opacity="0.85" d="M506.8 650.2l8.8 -2.3l-6.4 -3l-8.8 2.1z"/>
<path fill="#02ce59" stroke-width="1.86" stroke-opacity="0.85" d="M498 652.4l8.8 -2.2l-6.4 -3.2l-8.8 2.2z"/>
<path fill="#03ce59" stroke-width="1.86" stroke-opacity="0.85" d="M489.2 654.6l8.8 -2.2l-6.4 -3.2l-8.8 2.2z"/>
<path fill="#04ce59" stroke-width="1.86" stroke-opacity="0.85" d="M480.4 656.9l8.8 -2.3l-6.4 -3.2l-8.8 2.2z"/>
<path fill="#05ce58" stroke-width="1.86" stroke-opacity="0.85" d="M471.6 659.2l8.8 -2.3l-6.4 -3.3l-8.8 2.2z"/>
<path fill="#06ce58" stroke-width="1.86" stroke-opacity="0.85" d="M462.8 661.5l8.8 -2.3l-6.4 -3.4l-8.8 2.3z"/>
<path fill="#06cf58" stroke-width="1.86" stroke-opacity="0.85" d="M454.1 663.8l8.7 -2.3l-6.4 -3.4l-8.7 2.3z"/>
<path fill="#07cf58" stroke-width="1.86" stroke-opacity="0.85" d="M445.3 666.2l8.8 -2.4l-6.4 -3.4l-8.8 2.4zM436.5 668.6l8.8 -2.4l-6.4 -3.4l-8.8 2.4zM427.7 671.1l8.8 -2.5l-6.4 -3.4l-8.8 2.4z"/>
<path fill="#06ce58" stroke-width="1.86" stroke-opacity="0.85" d="M1128.2 479.6l8.8 -2.5l-6.4 -3.3l-8.8 2.4zM1119.4 482.1l8.8 -2.5l-6.4 -3.4l-8.8 2.6z"/>
<path fill="#05ce58" stroke-width="1.86" stroke-opacity="0.85" d="M1110.6 484.7l8.8 -2.6l-6.4 -3.3l-8.8 2.5zM1101.8 487.2l8.8 -2.5l-6.4 -3.4l-8.8 2.6z"/>
<path fill="#04ce59" stroke-width="1.86" stroke-opacity="0.85" d="M1093 489.8l8.8 -2.6l-6.4 -3.3l-8.8 2.6z"/>
<path fill="#03ce59" stroke-width="1.86" stroke-opacity="0.85" d="M1084.2 492.4l8.8 -2.6l-6.4 -3.3l-8.8 2.7zM1075.5 495.1l8.7 -2.7l-6.4 -3.2l-8.7 2.7z"/>
<path fill="#02cd59" stroke-width="1.86" stroke-opacity="0.85" d="M1066.7 497.7l8.8 -2.6l-6.4 -3.2l-8.8 2.7z"/>
<path fill="#01cd5a" stroke-width="1.86" stroke-opacity="0.85" d="M1057.9 500.4l8.8 -2.7l-6.4 -3.1l-8.8 2.7z"/>
<path fill="#00cd5a" stroke-width="1.86" stroke-opacity="0.85" d="M1049.1 503l8.8 -2.6l-6.4 -3.1l-8.8 2.7z"/>
<path fill="#00cd5b" stroke-width="1.86" stroke-opacity="0.85" d="M1040.3 505.7l8.8 -2.7l-6.4 -3l-8.8 2.7zM1031.5 508.4l8.8 -2.7l-6.4 -3l-8.8 2.7z"/>
<path fill="#00cd5c" stroke-width="1.86" stroke-opacity="0.85" d="M1022.7 511l8.8 -2.6l-6.4 -3l-8.8 2.7zM1014 513.6l8.7 -2.6l-6.4 -2.9l-8.7 2.7z"/>
<path fill="#00cd5d" stroke-width="1.86" stroke-opacity="0.85" d="M1005.2 516.3l8.8 -2.7l-6.4 -2.8l-8.8 2.6zM996.4 518.9l8.8 -2.6l-6.4 -2.9l-8.8 2.6zM987.6 521.4l8.8 -2.5l-6.4 -2.9l-8.8 2.6z"/>
<path fill="#00cd5e" stroke-width="1.86" stroke-opacity="0.85" d="M978.8 524l8.8 -2.6l-6.4 -2.8l-8.8 2.6z"/>
<path fill="#00cd5e" stroke-width="1.65" stroke-opacity="1" d="M970 526.5l8.8 -2.5l-6.4 -2.8l-8.8 2.5zM961.2 529l8.8 -2.5l-6.4 -2.8l-8.8 2.5zM952.5 531.4l8.7 -2.4l-6.4 -2.8l-8.7 2.4zM943.7 533.8l8.8 -2.4l-6.4 -2.8l-8.8 2.4z"/>
<path fill="#00cd5d" stroke-width="1.65" stroke-opacity="1" d="M934.9 536.2l8.8 -2.4l-6.4 -2.8l-8.8 2.4zM926.1 538.6l8.8 -2.4l-6.4 -2.8l-8.8 2.4zM917.3 540.9l8.8 -2.3l-6.4 -2.8l-8.8 2.3z"/>
<path fill="#00cd5c" stroke-width="1.65" stroke-opacity="1" d="M908.5 543.2l8.8 -2.3l-6.4 -2.8l-8.8 2.2zM899.7 545.5l8.8 -2.3l-6.4 -2.9l-8.8 2.3z"/>
<path fill="#00cd5b" stroke-width="1.86" stroke-opacity="0.85" d="M891 547.8l8.7 -2.3l-6.4 -2.9l-8.7 2.2zM882.2 550.1l8.8 -2.3l-6.4 -3l-8.8 2.3z"/>
<path fill="#00cd5a" stroke-width="1.86" stroke-opacity="0.85" d="M873.4 552.4l8.8 -2.3l-6.4 -3l-8.8 2.2z"/>
<path fill="#01cd5a" stroke-width="1.86" stroke-opacity="0.85" d="M864.6 554.6l8.8 -2.2l-6.4 -3.1l-8.8 2.2z"/>
<path fill="#02cd59" stroke-width="1.86" stroke-opacity="0.85" d="M855.8 556.9l8.8 -2.3l-6.4 -3.1l-8.8 2.2z"/>
<path fill="#03ce59" stroke-width="1.86" stroke-opacity="0.85" d="M847 559.2l8.8 -2.3l-6.4 -3.2l-8.8 2.3zM838.2 561.5l8.8 -2.3l-6.4 -3.2l-8.8 2.2z"/>
<path fill="#04ce59" stroke-width="1.86" stroke-opacity="0.85" d="M829.5 563.8l8.7 -2.3l-6.4 -3.3l-8.7 2.3z"/>
<path fill="#05ce58" stroke-width="1.86" stroke-opacity="0.85" d="M820.7 566.1l8.8 -2.3l-6.4 -3.3l-8.8 2.3zM811.9 568.5l8.8 -2.4l-6.4 -3.3l-8.8 2.4z"/>
<path fill="#06ce58" stroke-width="1.86" stroke-opacity="0.85" d="M803.1 570.9l8.8 -2.4l-6.4 -3.3l-8.8 2.3zM794.3 573.3l8.8 -2.4l-6.4 -3.4l-8.8 2.5zM785.5 575.8l8.8 -2.5l-6.4 -3.3l-8.8 2.4zM776.7 578.3l8.8 -2.5l-6.4 -3.4l-8.8 2.5zM768 580.8l8.7 -2.5l-6.4 -3.4l-8.7 2.5z"/>
<path fill="#05ce58" stroke-width="1.86" stroke-opacity="0.85" d="M759.2 583.3l8.8 -2.5l-6.4 -3.4l-8.8 2.6zM750.4 585.9l8.8 -2.6l-6.4 -3.3l-8.8 2.6z"/>
<path fill="#04ce59" stroke-width="1.86" stroke-opacity="0.85" d="M741.6 588.5l8.8 -2.6l-6.4 -3.3l-8.8 2.6z"/>
<path fill="#03ce59" stroke-width="1.86" stroke-opacity="0.85" d="M732.8 591.1l8.8 -2.6l-6.4 -3.3l-8.8 2.6zM724 593.7l8.8 -2.6l-6.4 -3.3l-8.8 2.7z"/>
<path fill="#02cd59" stroke-width="1.86" stroke-opacity="0.85" d="M715.2 596.4l8.8 -2.7l-6.4 -3.2l-8.8 2.7z"/>
<path fill="#01cd5a" stroke-width="1.86" stroke-opacity="0.85" d="M706.5 599l8.7 -2.6l-6.4 -3.2l-8.7 2.7z"/>
<path fill="#00cd5a" stroke-width="1.86" stroke-opacity="0.85" d="M697.7 601.7l8.8 -2.7l-6.4 -3.1l-8.8 2.7z"/>
<path fill="#00cd5b" stroke-width="1.86" stroke-opacity="0.85" d="M688.9 604.4l8.8 -2.7l-6.4 -3.1l-8.8 2.7zM680.1 607l8.8 -2.6l-6.4 -3.1l-8.8 2.7z"/>
<path fill="#00cd5c" stroke-width="1.86" stroke-opacity="0.85" d="M671.3 609.7l8.8 -2.7l-6.4 -3l-8.8 2.7zM662.5 612.3l8.8 -2.6l-6.4 -3l-8.8 2.7z"/>
<path fill="#00cd5d" stroke-width="1.86" stroke-opacity="0.85" d="M653.7 614.9l8.8 -2.6l-6.4 -2.9l-8.8 2.7zM645 617.5l8.7 -2.6l-6.4 -2.8l-8.7 2.6zM636.2 620.1l8.8 -2.6l-6.4 -2.8l-8.8 2.6z"/>
<path fill="#00cd5e" stroke-width="1.86" stroke-opacity="0.85" d="M627.4 622.6l8.8 -2.5l-6.4 -2.8l-8.8 2.5z"/>
<path fill="#00cd5e" stroke-width="1.65" stroke-opacity="1" d="M618.6 625.1l8.8 -2.5l-6.4 -2.8l-8.8 2.6zM609.8 627.6l8.8 -2.5l-6.4 -2.7l-8.8 2.4zM601 630.1l8.8 -2.5l-6.4 -2.8l-8.8 2.5zM592.2 632.5l8.8 -2.4l-6.4 -2.8l-8.8 2.4z"/>
<path fill="#00cd5d" stroke-width="1.65" stroke-opacity="1" d="M583.5 634.9l8.7 -2.4l-6.4 -2.8l-8.7 2.4zM574.7 637.2l8.8 -2.3l-6.4 -2.8l-8.8 2.3zM565.9 639.6l8.8 -2.4l-6.4 -2.8l-8.8 2.3z"/>
<path fill="#00cd5c" stroke-width="1.65" stroke-opacity="1" d="M557.1 641.9l8.8 -2.3l-6.4 -2.9l-8.8 2.3zM548.3 644.2l8.8 -2.3l-6.4 -2.9l-8.8 2.3z"/>
<path fill="#00cd5b" stroke-width="1.86" stroke-opacity="0.85" d="M539.5 646.5l8.8 -2.3l-6.4 -2.9l-8.8 2.2zM530.7 648.7l8.8 -2.2l-6.4 -3l-8.8 2.2z"/>
<path fill="#00cd5a" stroke-width="1.86" stroke-opacity="0.85" d="M522 651l8.7 -2.3l-6.4 -3l-8.7 2.2z"/>
<path fill="#01cd5a" stroke-width="1.86" stroke-opacity="0.85" d="M513.2 653.3l8.8 -2.3l-6.4 -3.1l-8.8 2.3z"/>
<path fill="#02cd59" stroke-width="1.86" stroke-opacity="0.85" d="M504.4 655.6l8.8 -2.3l-6.4 -3.1l-8.8 2.2z"/>
<path fill="#03ce59" stroke-width="1.86" stroke-opacity="0.85" d="M495.6 657.8l8.8 -2.2l-6.4 -3.2l-8.8 2.2zM486.8 660.1l8.8 -2.3l-6.4 -3.2l-8.8 2.3z"/>
<path fill="#04ce59" stroke-width="1.86" stroke-opacity="0.85" d="M478 662.5l8.8 -2.4l-6.4 -3.2l-8.8 2.3z"/>
<path fill="#05ce58" stroke-width="1.86" stroke-opacity="0.85" d="M469.2 664.8l8.8 -2.3l-6.4 -3.3l-8.8 2.3zM460.5 667.2l8.7 -2.4l-6.4 -3.3l-8.7 2.3z"/>
<path fill="#06ce58" stroke-width="1.86" stroke-opacity="0.85" d="M451.7 669.6l8.8 -2.4l-6.4 -3.4l-8.8 2.4zM442.9 672l8.8 -2.4l-6.4 -3.4l-8.8 2.4zM434.1 674.4l8.8 -2.4l-6.4 -3.4l-8.8 2.5z"/>
<path fill="#05ce58" stroke-width="1.86" stroke-opacity="0.85" d="M1134.6 482.9l8.8 -2.5l-6.4 -3.3l-8.8 2.5z"/>
<path fill="#04ce59" stroke-width="1.86" stroke-opacity="0.85" d="M1125.8 485.4l8.8 -2.5l-6.4 -3.3l-8.8 2.5zM1117 487.9l8.8 -2.5l-6.4 -3.3l-8.8 2.6zM1108.2 490.5l8.8 -2.6l-6.4 -3.2l-8.8 2.5z"/>
<path fill="#03ce59" stroke-width="1.86" stroke-opacity="0.85" d="M1099.4 493.1l8.8 -2.6l-6.4 -3.3l-8.8 2.6zM1090.6 495.7l8.8 -2.6l-6.4 -3.3l-8.8 2.6z"/>
<path fill="#02ce59" stroke-width="1.86" stroke-opacity="0.85" d="M1081.9 498.3l8.7 -2.6l-6.4 -3.3l-8.7 2.7z"/>
<path fill="#01cd5a" stroke-width="1.86" stroke-opacity="0.85" d="M1073.1 500.9l8.8 -2.6l-6.4 -3.2l-8.8 2.6zM1064.3 503.5l8.8 -2.6l-6.4 -3.2l-8.8 2.7z"/>
<path fill="#00cd5a" stroke-width="1.86" stroke-opacity="0.85" d="M1055.5 506.1l8.8 -2.6l-6.4 -3.1l-8.8 2.6zM1046.7 508.7l8.8 -2.6l-6.4 -3.1l-8.8 2.7z"/>
<path fill="#00cd5b" stroke-width="1.86" stroke-opacity="0.85" d="M1037.9 511.4l8.8 -2.7l-6.4 -3l-8.8 2.7zM1029.1 514l8.8 -2.6l-6.4 -3l-8.8 2.6z"/>
<path fill="#00cd5c" stroke-width="1.86" stroke-opacity="0.85" d="M1020.4 516.6l8.7 -2.6l-6.4 -3l-8.7 2.6zM1011.6 519.2l8.8 -2.6l-6.4 -3l-8.8 2.7z"/>
<path fill="#00cd5d" stroke-width="1.86" stroke-opacity="0.85" d="M1002.8 521.7l8.8 -2.5l-6.4 -2.9l-8.8 2.6zM994 524.3l8.8 -2.6l-6.4 -2.8l-8.8 2.5zM985.2 526.8l8.8 -2.5l-6.4 -2.9l-8.8 2.6zM976.4 529.3l8.8 -2.5l-6.4 -2.8l-8.8 2.5zM967.6 531.8l8.8 -2.5l-6.4 -2.8l-8.8 2.5zM958.9 534.2l8.7 -2.4l-6.4 -2.8l-8.7 2.4z"/>
<path fill="#00cd5d" stroke-width="1.65" stroke-opacity="1" d="M950.1 536.7l8.8 -2.5l-6.4 -2.8l-8.8 2.4zM941.3 539.1l8.8 -2.4l-6.4 -2.9l-8.8 2.4zM932.5 541.5l8.8 -2.4l-6.4 -2.9l-8.8 2.4z"/>
<path fill="#00cd5c" stroke-width="1.86" stroke-opacity="0.85" d="M923.7 543.8l8.8 -2.3l-6.4 -2.9l-8.8 2.3zM914.9 546.2l8.8 -2.4l-6.4 -2.9l-8.8 2.3z"/>
<path fill="#00cd5b" stroke-width="1.86" stroke-opacity="0.85" d="M906.1 548.5l8.8 -2.3l-6.4 -3l-8.8 2.3zM897.4 550.8l8.7 -2.3l-6.4 -3l-8.7 2.3z"/>
<path fill="#00cd5a" stroke-width="1.86" stroke-opacity="0.85" d="M888.6 553.1l8.8 -2.3l-6.4 -3l-8.8 2.3zM879.8 555.4l8.8 -2.3l-6.4 -3l-8.8 2.3z"/>
<path fill="#01cd5a" stroke-width="1.86" stroke-opacity="0.85" d="M871 557.7l8.8 -2.3l-6.4 -3l-8.8 2.2zM862.2 560.1l8.8 -2.4l-6.4 -3.1l-8.8 2.3z"/>
<path fill="#02ce59" stroke-width="1.86" stroke-opacity="0.85" d="M853.4 562.4l8.8 -2.3l-6.4 -3.2l-8.8 2.3z"/>
<path fill="#03ce59" stroke-width="1.86" stroke-opacity="0.85" d="M844.6 564.7l8.8 -2.3l-6.4 -3.2l-8.8 2.3zM835.9 567.1l8.7 -2.4l-6.4 -3.2l-8.7 2.3z"/>
<path fill="#04ce59" stroke-width="1.86" stroke-opacity="0.85" d="M827.1 569.4l8.8 -2.3l-6.4 -3.3l-8.8 2.3zM818.3 571.8l8.8 -2.4l-6.4 -3.3l-8.8 2.4zM809.5 574.2l8.8 -2.4l-6.4 -3.3l-8.8 2.4z"/>
<path fill="#05ce58" stroke-width="1.86" stroke-opacity="0.85" d="M800.7 576.6l8.8 -2.4l-6.4 -3.3l-8.8 2.4zM791.9 579.1l8.8 -2.5l-6.4 -3.3l-8.8 2.5zM783.1 581.6l8.8 -2.5l-6.4 -3.3l-8.8 2.5z"/>
<path fill="#04ce59" stroke-width="1.86" stroke-opacity="0.85" d="M774.4 584.1l8.7 -2.5l-6.4 -3.3l-8.7 2.5zM765.6 586.6l8.8 -2.5l-6.4 -3.3l-8.8 2.5zM756.8 589.1l8.8 -2.5l-6.4 -3.3l-8.8 2.6z"/>
<path fill="#03ce59" stroke-width="1.86" stroke-opacity="0.85" d="M748 591.7l8.8 -2.6l-6.4 -3.2l-8.8 2.6zM739.2 594.3l8.8 -2.6l-6.4 -3.2l-8.8 2.6z"/>
<path fill="#02ce59" stroke-width="1.86" stroke-opacity="0.85" d="M730.4 596.9l8.8 -2.6l-6.4 -3.2l-8.8 2.6z"/>
<path fill="#01cd5a" stroke-width="1.86" stroke-opacity="0.85" d="M721.6 599.5l8.8 -2.6l-6.4 -3.2l-8.8 2.7zM712.9 602.1l8.7 -2.6l-6.4 -3.1l-8.7 2.6z"/>
<path fill="#00cd5a" stroke-width="1.86" stroke-opacity="0.85" d="M704.1 604.8l8.8 -2.7l-6.4 -3.1l-8.8 2.7zM695.3 607.4l8.8 -2.6l-6.4 -3.1l-8.8 2.7z"/>
<path fill="#00cd5b" stroke-width="1.86" stroke-opacity="0.85" d="M686.5 610l8.8 -2.6l-6.4 -3l-8.8 2.6zM677.7 612.6l8.8 -2.6l-6.4 -3l-8.8 2.7z"/>
<path fill="#00cd5c" stroke-width="1.86" stroke-opacity="0.85" d="M668.9 615.2l8.8 -2.6l-6.4 -2.9l-8.8 2.6zM660.1 617.8l8.8 -2.6l-6.4 -2.9l-8.8 2.6z"/>
<path fill="#00cd5d" stroke-width="1.86" stroke-opacity="0.85" d="M651.4 620.4l8.7 -2.6l-6.4 -2.9l-8.7 2.6zM642.6 622.9l8.8 -2.5l-6.4 -2.9l-8.8 2.6zM633.8 625.5l8.8 -2.6l-6.4 -2.8l-8.8 2.5zM625 628l8.8 -2.5l-6.4 -2.9l-8.8 2.5zM616.2 630.4l8.8 -2.4l-6.4 -2.9l-8.8 2.5zM607.4 632.9l8.8 -2.5l-6.4 -2.8l-8.8 2.5z"/>
<path fill="#00cd5d" stroke-width="1.65" stroke-opacity="1" d="M598.6 635.3l8.8 -2.4l-6.4 -2.8l-8.8 2.4zM589.9 637.7l8.7 -2.4l-6.4 -2.8l-8.7 2.4zM581.1 640.1l8.8 -2.4l-6.4 -2.8l-8.8 2.3z"/>
<path fill="#00cd5c" stroke-width="1.86" stroke-opacity="0.85" d="M572.3 642.5l8.8 -2.4l-6.4 -2.9l-8.8 2.4zM563.5 644.8l8.8 -2.3l-6.4 -2.9l-8.8 2.3z"/>
<path fill="#00cd5b" stroke-width="1.86" stroke-opacity="0.85" d="M554.7 647.1l8.8 -2.3l-6.4 -2.9l-8.8 2.3zM545.9 649.5l8.8 -2.4l-6.4 -2.9l-8.8 2.3z"/>
<path fill="#00cd5a" stroke-width="1.86" stroke-opacity="0.85" d="M537.1 651.8l8.8 -2.3l-6.4 -3l-8.8 2.2zM528.4 654.1l8.7 -2.3l-6.4 -3.1l-8.7 2.3z"/>
<path fill="#01cd5a" stroke-width="1.86" stroke-opacity="0.85" d="M519.6 656.4l8.8 -2.3l-6.4 -3.1l-8.8 2.3zM510.8 658.7l8.8 -2.3l-6.4 -3.1l-8.8 2.3z"/>
<path fill="#02ce59" stroke-width="1.86" stroke-opacity="0.85" d="M502 661l8.8 -2.3l-6.4 -3.1l-8.8 2.2z"/>
<path fill="#03ce59" stroke-width="1.86" stroke-opacity="0.85" d="M493.2 663.4l8.8 -2.4l-6.4 -3.2l-8.8 2.3zM484.4 665.7l8.8 -2.3l-6.4 -3.3l-8.8 2.4z"/>
<path fill="#04ce59" stroke-width="1.86" stroke-opacity="0.85" d="M475.6 668.1l8.8 -2.4l-6.4 -3.2l-8.8 2.3zM466.9 670.4l8.7 -2.3l-6.4 -3.3l-8.7 2.4zM458.1 672.9l8.8 -2.5l-6.4 -3.2l-8.8 2.4z"/>
<path fill="#05ce58" stroke-width="1.86" stroke-opacity="0.85" d="M449.3 675.3l8.8 -2.4l-6.4 -3.3l-8.8 2.4zM440.5 677.7l8.8 -2.4l-6.4 -3.3l-8.8 2.4z"/>
<path fill="#04ce59" stroke-width="1.86" stroke-opacity="0.85" d="M1141 486.2l8.8 -2.5l-6.4 -3.3l-8.8 2.5zM1132.2 488.7l8.8 -2.5l-6.4 -3.3l-8.8 2.5z"/>
<path fill="#03ce59" stroke-width="1.86" stroke-opacity="0.85" d="M1123.4 491.2l8.8 -2.5l-6.4 -3.3l-8.8 2.5zM1114.6 493.7l8.8 -2.5l-6.4 -3.3l-8.8 2.6zM1105.8 496.3l8.8 -2.6l-6.4 -3.2l-8.8 2.6z"/>
<path fill="#02ce59" stroke-width="1.86" stroke-opacity="0.85" d="M1097 498.8l8.8 -2.5l-6.4 -3.2l-8.8 2.6z"/>
<path fill="#02cd59" stroke-width="1.86" stroke-opacity="0.85" d="M1088.3 501.4l8.7 -2.6l-6.4 -3.1l-8.7 2.6z"/>
<path fill="#01cd5a" stroke-width="1.86" stroke-opacity="0.85" d="M1079.5 504l8.8 -2.6l-6.4 -3.1l-8.8 2.6zM1070.7 506.6l8.8 -2.6l-6.4 -3.1l-8.8 2.6z"/>
<path fill="#00cd5a" stroke-width="1.86" stroke-opacity="0.85" d="M1061.9 509.2l8.8 -2.6l-6.4 -3.1l-8.8 2.6zM1053.1 511.8l8.8 -2.6l-6.4 -3.1l-8.8 2.6z"/>
<path fill="#00cd5b" stroke-width="1.86" stroke-opacity="0.85" d="M1044.3 514.4l8.8 -2.6l-6.4 -3.1l-8.8 2.7zM1035.5 517l8.8 -2.6l-6.4 -3l-8.8 2.6zM1026.8 519.5l8.7 -2.5l-6.4 -3l-8.7 2.6z"/>
<path fill="#00cd5c" stroke-width="1.86" stroke-opacity="0.85" d="M1018 522.1l8.8 -2.6l-6.4 -2.9l-8.8 2.6zM1009.2 524.6l8.8 -2.5l-6.4 -2.9l-8.8 2.5zM1000.4 527.2l8.8 -2.6l-6.4 -2.9l-8.8 2.6zM991.6 529.7l8.8 -2.5l-6.4 -2.9l-8.8 2.5zM982.8 532.2l8.8 -2.5l-6.4 -2.9l-8.8 2.5zM974 534.7l8.8 -2.5l-6.4 -2.9l-8.8 2.5zM965.3 537.1l8.7 -2.4l-6.4 -2.9l-8.7 2.4zM956.5 539.6l8.8 -2.5l-6.4 -2.9l-8.8 2.5zM947.7 542l8.8 -2.4l-6.4 -2.9l-8.8 2.4zM938.9 544.4l8.8 -2.4l-6.4 -2.9l-8.8 2.4zM930.1 546.8l8.8 -2.4l-6.4 -2.9l-8.8 2.3z"/>
<path fill="#00cd5b" stroke-width="1.86" stroke-opacity="0.85" d="M921.3 549.1l8.8 -2.3l-6.4 -3l-8.8 2.4zM912.5 551.5l8.8 -2.4l-6.4 -2.9l-8.8 2.3zM903.8 553.8l8.7 -2.3l-6.4 -3l-8.7 2.3z"/>
<path fill="#00cd5a" stroke-width="1.86" stroke-opacity="0.85" d="M895 556.2l8.8 -2.4l-6.4 -3l-8.8 2.3zM886.2 558.5l8.8 -2.3l-6.4 -3.1l-8.8 2.3z"/>
<path fill="#01cd5a" stroke-width="1.86" stroke-opacity="0.85" d="M877.4 560.8l8.8 -2.3l-6.4 -3.1l-8.8 2.3zM868.6 563.2l8.8 -2.4l-6.4 -3.1l-8.8 2.4z"/>
<path fill="#02cd59" stroke-width="1.86" stroke-opacity="0.85" d="M859.8 565.5l8.8 -2.3l-6.4 -3.1l-8.8 2.3z"/>
<path fill="#02ce59" stroke-width="1.86" stroke-opacity="0.85" d="M851 567.9l8.8 -2.4l-6.4 -3.1l-8.8 2.3z"/>
<path fill="#03ce59" stroke-width="1.86" stroke-opacity="0.85" d="M842.3 570.3l8.7 -2.4l-6.4 -3.2l-8.7 2.4zM833.5 572.6l8.8 -2.3l-6.4 -3.2l-8.8 2.3zM824.7 575l8.8 -2.4l-6.4 -3.2l-8.8 2.4z"/>
<path fill="#04ce59" stroke-width="1.86" stroke-opacity="0.85" d="M815.9 577.5l8.8 -2.5l-6.4 -3.2l-8.8 2.4zM807.1 579.9l8.8 -2.4l-6.4 -3.3l-8.8 2.4zM798.3 582.4l8.8 -2.5l-6.4 -3.3l-8.8 2.5zM789.5 584.8l8.8 -2.4l-6.4 -3.3l-8.8 2.5zM780.8 587.3l8.7 -2.5l-6.4 -3.2l-8.7 2.5z"/>
<path fill="#03ce59" stroke-width="1.86" stroke-opacity="0.85" d="M772 589.8l8.8 -2.5l-6.4 -3.2l-8.8 2.5zM763.2 592.4l8.8 -2.6l-6.4 -3.2l-8.8 2.5zM754.4 594.9l8.8 -2.5l-6.4 -3.3l-8.8 2.6z"/>
<path fill="#02ce59" stroke-width="1.86" stroke-opacity="0.85" d="M745.6 597.5l8.8 -2.6l-6.4 -3.2l-8.8 2.6z"/>
<path fill="#02cd59" stroke-width="1.86" stroke-opacity="0.85" d="M736.8 600.1l8.8 -2.6l-6.4 -3.2l-8.8 2.6z"/>
<path fill="#01cd5a" stroke-width="1.86" stroke-opacity="0.85" d="M728 602.6l8.8 -2.5l-6.4 -3.2l-8.8 2.6zM719.3 605.2l8.7 -2.6l-6.4 -3.1l-8.7 2.6z"/>
<path fill="#00cd5a" stroke-width="1.86" stroke-opacity="0.85" d="M710.5 607.8l8.8 -2.6l-6.4 -3.1l-8.8 2.7zM701.7 610.4l8.8 -2.6l-6.4 -3l-8.8 2.6z"/>
<path fill="#00cd5b" stroke-width="1.86" stroke-opacity="0.85" d="M692.9 613l8.8 -2.6l-6.4 -3l-8.8 2.6zM684.1 615.6l8.8 -2.6l-6.4 -3l-8.8 2.6zM675.3 618.2l8.8 -2.6l-6.4 -3l-8.8 2.6z"/>
<path fill="#00cd5c" stroke-width="1.86" stroke-opacity="0.85" d="M666.5 620.7l8.8 -2.5l-6.4 -3l-8.8 2.6zM657.8 623.3l8.7 -2.6l-6.4 -2.9l-8.7 2.6zM649 625.8l8.8 -2.5l-6.4 -2.9l-8.8 2.5zM640.2 628.3l8.8 -2.5l-6.4 -2.9l-8.8 2.6zM631.4 630.8l8.8 -2.5l-6.4 -2.8l-8.8 2.5zM622.6 633.3l8.8 -2.5l-6.4 -2.8l-8.8 2.4zM613.8 635.8l8.8 -2.5l-6.4 -2.9l-8.8 2.5zM605 638.2l8.8 -2.4l-6.4 -2.9l-8.8 2.4zM596.3 640.6l8.7 -2.4l-6.4 -2.9l-8.7 2.4zM587.5 643l8.8 -2.4l-6.4 -2.9l-8.8 2.4zM578.7 645.4l8.8 -2.4l-6.4 -2.9l-8.8 2.4z"/>
<path fill="#00cd5b" stroke-width="1.86" stroke-opacity="0.85" d="M569.9 647.8l8.8 -2.4l-6.4 -2.9l-8.8 2.3zM561.1 650.1l8.8 -2.3l-6.4 -3l-8.8 2.3zM552.3 652.5l8.8 -2.4l-6.4 -3l-8.8 2.4z"/>
<path fill="#00cd5a" stroke-width="1.86" stroke-opacity="0.85" d="M543.5 654.8l8.8 -2.3l-6.4 -3l-8.8 2.3zM534.8 657.2l8.7 -2.4l-6.4 -3l-8.7 2.3z"/>
<path fill="#01cd5a" stroke-width="1.86" stroke-opacity="0.85" d="M526 659.5l8.8 -2.3l-6.4 -3.1l-8.8 2.3zM517.2 661.8l8.8 -2.3l-6.4 -3.1l-8.8 2.3z"/>
<path fill="#02cd59" stroke-width="1.86" stroke-opacity="0.85" d="M508.4 664.2l8.8 -2.4l-6.4 -3.1l-8.8 2.3z"/>
<path fill="#02ce59" stroke-width="1.86" stroke-opacity="0.85" d="M499.6 666.5l8.8 -2.3l-6.4 -3.2l-8.8 2.4z"/>
<path fill="#03ce59" stroke-width="1.86" stroke-opacity="0.85" d="M490.8 668.9l8.8 -2.4l-6.4 -3.1l-8.8 2.3zM482 671.3l8.8 -2.4l-6.4 -3.2l-8.8 2.4zM473.3 673.7l8.7 -2.4l-6.4 -3.2l-8.7 2.3z"/>
<path fill="#04ce59" stroke-width="1.86" stroke-opacity="0.85" d="M464.5 676.1l8.8 -2.4l-6.4 -3.3l-8.8 2.5zM455.7 678.5l8.8 -2.4l-6.4 -3.2l-8.8 2.4zM446.9 681l8.8 -2.5l-6.4 -3.2l-8.8 2.4z"/>
<path fill="#03ce59" stroke-width="1.86" stroke-opacity="0.85" d="M1147.4 489.4l8.8 -2.5l-6.4 -3.2l-8.8 2.5zM1138.6 491.9l8.8 -2.5l-6.4 -3.2l-8.8 2.5zM1129.8 494.4l8.8 -2.5l-6.4 -3.2l-8.8 2.5z"/>
<path fill="#02ce59" stroke-width="1.86" stroke-opacity="0.85" d="M1121 496.9l8.8 -2.5l-6.4 -3.2l-8.8 2.5zM1112.2 499.5l8.8 -2.6l-6.4 -3.2l-8.8 2.6z"/>
<path fill="#02cd59" stroke-width="1.86" stroke-opacity="0.85" d="M1103.4 502l8.8 -2.5l-6.4 -3.2l-8.8 2.5z"/>
<path fill="#01cd5a" stroke-width="1.86" stroke-opacity="0.85" d="M1094.7 504.6l8.7 -2.6l-6.4 -3.2l-8.7 2.6zM1085.9 507.1l8.8 -2.5l-6.4 -3.2l-8.8 2.6z"/>
<path fill="#00cd5a" stroke-width="1.86" stroke-opacity="0.85" d="M1077.1 509.7l8.8 -2.6l-6.4 -3.1l-8.8 2.6zM1068.3 512.3l8.8 -2.6l-6.4 -3.1l-8.8 2.6zM1059.5 514.8l8.8 -2.5l-6.4 -3.1l-8.8 2.6z"/>
<path fill="#00cd5b" stroke-width="1.86" stroke-opacity="0.85" d="M1050.7 517.4l8.8 -2.6l-6.4 -3l-8.8 2.6zM1041.9 520l8.8 -2.6l-6.4 -3l-8.8 2.6zM1033.2 522.5l8.7 -2.5l-6.4 -3l-8.7 2.5zM1024.4 525l8.8 -2.5l-6.4 -3l-8.8 2.6z"/>
<path fill="#00cd5c" stroke-width="1.86" stroke-opacity="0.85" d="M1015.6 527.6l8.8 -2.6l-6.4 -2.9l-8.8 2.5zM1006.8 530.1l8.8 -2.5l-6.4 -3l-8.8 2.6zM998 532.6l8.8 -2.5l-6.4 -2.9l-8.8 2.5zM989.2 535.1l8.8 -2.5l-6.4 -2.9l-8.8 2.5zM980.4 537.6l8.8 -2.5l-6.4 -2.9l-8.8 2.5zM971.7 540l8.7 -2.4l-6.4 -2.9l-8.7 2.4zM962.9 542.5l8.8 -2.5l-6.4 -2.9l-8.8 2.5zM954.1 544.9l8.8 -2.4l-6.4 -2.9l-8.8 2.4zM945.3 547.3l8.8 -2.4l-6.4 -2.9l-8.8 2.4z"/>
<path fill="#00cd5b" stroke-width="1.86" stroke-opacity="0.85" d="M936.5 549.7l8.8 -2.4l-6.4 -2.9l-8.8 2.4zM927.7 552.1l8.8 -2.4l-6.4 -2.9l-8.8 2.3zM918.9 554.5l8.8 -2.4l-6.4 -3l-8.8 2.4zM910.2 556.8l8.7 -2.3l-6.4 -3l-8.7 2.3z"/>
<path fill="#00cd5a" stroke-width="1.86" stroke-opacity="0.85" d="M901.4 559.2l8.8 -2.4l-6.4 -3l-8.8 2.4zM892.6 561.6l8.8 -2.4l-6.4 -3l-8.8 2.3zM883.8 563.9l8.8 -2.3l-6.4 -3.1l-8.8 2.3z"/>
<path fill="#01cd5a" stroke-width="1.86" stroke-opacity="0.85" d="M875 566.3l8.8 -2.4l-6.4 -3.1l-8.8 2.4zM866.2 568.7l8.8 -2.4l-6.4 -3.1l-8.8 2.3z"/>
<path fill="#02cd59" stroke-width="1.86" stroke-opacity="0.85" d="M857.4 571.1l8.8 -2.4l-6.4 -3.2l-8.8 2.4z"/>
<path fill="#02ce59" stroke-width="1.86" stroke-opacity="0.85" d="M848.7 573.4l8.7 -2.3l-6.4 -3.2l-8.7 2.4zM839.9 575.8l8.8 -2.4l-6.4 -3.1l-8.8 2.3z"/>
<path fill="#03ce59" stroke-width="1.86" stroke-opacity="0.85" d="M831.1 578.3l8.8 -2.5l-6.4 -3.2l-8.8 2.4zM822.3 580.7l8.8 -2.4l-6.4 -3.3l-8.8 2.5zM813.5 583.1l8.8 -2.4l-6.4 -3.2l-8.8 2.4zM804.7 585.6l8.8 -2.5l-6.4 -3.2l-8.8 2.5zM795.9 588.1l8.8 -2.5l-6.4 -3.2l-8.8 2.4zM787.2 590.5l8.7 -2.4l-6.4 -3.3l-8.7 2.5zM778.4 593.1l8.8 -2.6l-6.4 -3.2l-8.8 2.5z"/>
<path fill="#02ce59" stroke-width="1.86" stroke-opacity="0.85" d="M769.6 595.6l8.8 -2.5l-6.4 -3.3l-8.8 2.6zM760.8 598.1l8.8 -2.5l-6.4 -3.2l-8.8 2.5z"/>
<path fill="#02cd59" stroke-width="1.86" stroke-opacity="0.85" d="M752 600.6l8.8 -2.5l-6.4 -3.2l-8.8 2.6z"/>
<path fill="#01cd5a" stroke-width="1.86" stroke-opacity="0.85" d="M743.2 603.2l8.8 -2.6l-6.4 -3.1l-8.8 2.6zM734.4 605.8l8.8 -2.6l-6.4 -3.1l-8.8 2.5z"/>
<path fill="#00cd5a" stroke-width="1.86" stroke-opacity="0.85" d="M725.7 608.3l8.7 -2.5l-6.4 -3.2l-8.7 2.6zM716.9 610.9l8.8 -2.6l-6.4 -3.1l-8.8 2.6zM708.1 613.5l8.8 -2.6l-6.4 -3.1l-8.8 2.6z"/>
<path fill="#00cd5b" stroke-width="1.86" stroke-opacity="0.85" d="M699.3 616l8.8 -2.5l-6.4 -3.1l-8.8 2.6zM690.5 618.6l8.8 -2.6l-6.4 -3l-8.8 2.6zM681.7 621.2l8.8 -2.6l-6.4 -3l-8.8 2.6zM672.9 623.7l8.8 -2.5l-6.4 -3l-8.8 2.5z"/>
<path fill="#00cd5c" stroke-width="1.86" stroke-opacity="0.85" d="M664.2 626.2l8.7 -2.5l-6.4 -3l-8.7 2.6zM655.4 628.8l8.8 -2.6l-6.4 -2.9l-8.8 2.5zM646.6 631.3l8.8 -2.5l-6.4 -3l-8.8 2.5zM637.8 633.8l8.8 -2.5l-6.4 -3l-8.8 2.5zM629 636.2l8.8 -2.4l-6.4 -3l-8.8 2.5zM620.2 638.7l8.8 -2.5l-6.4 -2.9l-8.8 2.5zM611.4 641.1l8.8 -2.4l-6.4 -2.9l-8.8 2.4zM602.7 643.6l8.7 -2.5l-6.4 -2.9l-8.7 2.4zM593.9 646l8.8 -2.4l-6.4 -3l-8.8 2.4z"/>
<path fill="#00cd5b" stroke-width="1.86" stroke-opacity="0.85" d="M585.1 648.4l8.8 -2.4l-6.4 -3l-8.8 2.4zM576.3 650.8l8.8 -2.4l-6.4 -3l-8.8 2.4zM567.5 653.1l8.8 -2.3l-6.4 -3l-8.8 2.3zM558.7 655.5l8.8 -2.4l-6.4 -3l-8.8 2.4z"/>
<path fill="#00cd5a" stroke-width="1.86" stroke-opacity="0.85" d="M549.9 657.9l8.8 -2.4l-6.4 -3l-8.8 2.3zM541.2 660.2l8.7 -2.3l-6.4 -3.1l-8.7 2.4zM532.4 662.6l8.8 -2.4l-6.4 -3l-8.8 2.3z"/>
<path fill="#01cd5a" stroke-width="1.86" stroke-opacity="0.85" d="M523.6 665l8.8 -2.4l-6.4 -3.1l-8.8 2.3zM514.8 667.3l8.8 -2.3l-6.4 -3.2l-8.8 2.4z"/>
<path fill="#02cd59" stroke-width="1.86" stroke-opacity="0.85" d="M506 669.7l8.8 -2.4l-6.4 -3.1l-8.8 2.3z"/>
<path fill="#02ce59" stroke-width="1.86" stroke-opacity="0.85" d="M497.2 672.1l8.8 -2.4l-6.4 -3.2l-8.8 2.4zM488.4 674.5l8.8 -2.4l-6.4 -3.2l-8.8 2.4z"/>
<path fill="#03ce59" stroke-width="1.86" stroke-opacity="0.85" d="M479.7 676.9l8.7 -2.4l-6.4 -3.2l-8.7 2.4zM470.9 679.3l8.8 -2.4l-6.4 -3.2l-8.8 2.4zM462.1 681.8l8.8 -2.5l-6.4 -3.2l-8.8 2.4zM453.3 684.2l8.8 -2.4l-6.4 -3.3l-8.8 2.5z"/>
<path fill="#02ce59" stroke-width="1.86" stroke-opacity="0.85" d="M1153.8 492.6l8.8 -2.5l-6.4 -3.2l-8.8 2.5zM1145 495.1l8.8 -2.5l-6.4 -3.2l-8.8 2.5zM1136.2 497.6l8.8 -2.5l-6.4 -3.2l-8.8 2.5z"/>
<path fill="#02cd59" stroke-width="1.86" stroke-opacity="0.85" d="M1127.4 500.1l8.8 -2.5l-6.4 -3.2l-8.8 2.5zM1118.6 502.6l8.8 -2.5l-6.4 -3.2l-8.8 2.6z"/>
<path fill="#01cd5a" stroke-width="1.86" stroke-opacity="0.85" d="M1109.8 505.1l8.8 -2.5l-6.4 -3.1l-8.8 2.5zM1101.1 507.7l8.7 -2.6l-6.4 -3.1l-8.7 2.6zM1092.3 510.2l8.8 -2.5l-6.4 -3.1l-8.8 2.5z"/>
<path fill="#00cd5a" stroke-width="1.86" stroke-opacity="0.85" d="M1083.5 512.8l8.8 -2.6l-6.4 -3.1l-8.8 2.6zM1074.7 515.3l8.8 -2.5l-6.4 -3.1l-8.8 2.6zM1065.9 517.9l8.8 -2.6l-6.4 -3l-8.8 2.5z"/>
<path fill="#00cd5b" stroke-width="1.86" stroke-opacity="0.85" d="M1057.1 520.4l8.8 -2.5l-6.4 -3.1l-8.8 2.6zM1048.3 523l8.8 -2.6l-6.4 -3l-8.8 2.6zM1039.6 525.5l8.7 -2.5l-6.4 -3l-8.7 2.5zM1030.8 528l8.8 -2.5l-6.4 -3l-8.8 2.5zM1022 530.6l8.8 -2.6l-6.4 -3l-8.8 2.6zM1013.2 533.1l8.8 -2.5l-6.4 -3l-8.8 2.5z"/>
<path fill="#00cd5c" stroke-width="1.86" stroke-opacity="0.85" d="M1004.4 535.6l8.8 -2.5l-6.4 -3l-8.8 2.5zM995.6 538l8.8 -2.4l-6.4 -3l-8.8 2.5zM986.8 540.5l8.8 -2.5l-6.4 -2.9l-8.8 2.5zM978.1 543l8.7 -2.5l-6.4 -2.9l-8.7 2.4zM969.3 545.4l8.8 -2.4l-6.4 -3l-8.8 2.5z"/>
<path fill="#00cd5b" stroke-width="1.86" stroke-opacity="0.85" d="M960.5 547.9l8.8 -2.5l-6.4 -2.9l-8.8 2.4zM951.7 550.3l8.8 -2.4l-6.4 -3l-8.8 2.4zM942.9 552.7l8.8 -2.4l-6.4 -3l-8.8 2.4zM934.1 555.1l8.8 -2.4l-6.4 -3l-8.8 2.4zM925.3 557.5l8.8 -2.4l-6.4 -3l-8.8 2.4zM916.6 559.9l8.7 -2.4l-6.4 -3l-8.7 2.3z"/>
<path fill="#00cd5a" stroke-width="1.86" stroke-opacity="0.85" d="M907.8 562.3l8.8 -2.4l-6.4 -3.1l-8.8 2.4zM899 564.6l8.8 -2.3l-6.4 -3.1l-8.8 2.4zM890.2 567l8.8 -2.4l-6.4 -3l-8.8 2.3z"/>
<path fill="#01cd5a" stroke-width="1.86" stroke-opacity="0.85" d="M881.4 569.4l8.8 -2.4l-6.4 -3.1l-8.8 2.4zM872.6 571.8l8.8 -2.4l-6.4 -3.1l-8.8 2.4zM863.8 574.2l8.8 -2.4l-6.4 -3.1l-8.8 2.4z"/>
<path fill="#02cd59" stroke-width="1.86" stroke-opacity="0.85" d="M855.1 576.6l8.7 -2.4l-6.4 -3.1l-8.7 2.3zM846.3 579l8.8 -2.4l-6.4 -3.2l-8.8 2.4z"/>
<path fill="#02ce59" stroke-width="1.86" stroke-opacity="0.85" d="M837.5 581.4l8.8 -2.4l-6.4 -3.2l-8.8 2.5zM828.7 583.9l8.8 -2.5l-6.4 -3.1l-8.8 2.4zM819.9 586.3l8.8 -2.4l-6.4 -3.2l-8.8 2.4zM811.1 588.8l8.8 -2.5l-6.4 -3.2l-8.8 2.5zM802.3 591.2l8.8 -2.4l-6.4 -3.2l-8.8 2.5zM793.6 593.7l8.7 -2.5l-6.4 -3.1l-8.7 2.4zM784.8 596.2l8.8 -2.5l-6.4 -3.2l-8.8 2.6z"/>
<path fill="#02cd59" stroke-width="1.86" stroke-opacity="0.85" d="M776 598.7l8.8 -2.5l-6.4 -3.1l-8.8 2.5zM767.2 601.3l8.8 -2.6l-6.4 -3.1l-8.8 2.5z"/>
<path fill="#01cd5a" stroke-width="1.86" stroke-opacity="0.85" d="M758.4 603.8l8.8 -2.5l-6.4 -3.2l-8.8 2.5zM749.6 606.3l8.8 -2.5l-6.4 -3.2l-8.8 2.6zM740.8 608.9l8.8 -2.6l-6.4 -3.1l-8.8 2.6z"/>
<path fill="#00cd5a" stroke-width="1.86" stroke-opacity="0.85" d="M732.1 611.4l8.7 -2.5l-6.4 -3.1l-8.7 2.5zM723.3 614l8.8 -2.6l-6.4 -3.1l-8.8 2.6zM714.5 616.5l8.8 -2.5l-6.4 -3.1l-8.8 2.6z"/>
<path fill="#00cd5b" stroke-width="1.86" stroke-opacity="0.85" d="M705.7 619.1l8.8 -2.6l-6.4 -3l-8.8 2.5zM696.9 621.6l8.8 -2.5l-6.4 -3.1l-8.8 2.6zM688.1 624.2l8.8 -2.6l-6.4 -3l-8.8 2.6zM679.3 626.7l8.8 -2.5l-6.4 -3l-8.8 2.5zM670.6 629.2l8.7 -2.5l-6.4 -3l-8.7 2.5zM661.8 631.7l8.8 -2.5l-6.4 -3l-8.8 2.6z"/>
<path fill="#00cd5c" stroke-width="1.86" stroke-opacity="0.85" d="M653 634.2l8.8 -2.5l-6.4 -2.9l-8.8 2.5zM644.2 636.7l8.8 -2.5l-6.4 -2.9l-8.8 2.5zM635.4 639.2l8.8 -2.5l-6.4 -2.9l-8.8 2.4zM626.6 641.6l8.8 -2.4l-6.4 -3l-8.8 2.5zM617.8 644.1l8.8 -2.5l-6.4 -2.9l-8.8 2.4z"/>
<path fill="#00cd5b" stroke-width="1.86" stroke-opacity="0.85" d="M609.1 646.5l8.7 -2.4l-6.4 -3l-8.7 2.5zM600.3 648.9l8.8 -2.4l-6.4 -2.9l-8.8 2.4zM591.5 651.3l8.8 -2.4l-6.4 -2.9l-8.8 2.4zM582.7 653.7l8.8 -2.4l-6.4 -2.9l-8.8 2.4zM573.9 656.1l8.8 -2.4l-6.4 -2.9l-8.8 2.3zM565.1 658.5l8.8 -2.4l-6.4 -3l-8.8 2.4z"/>
<path fill="#00cd5a" stroke-width="1.86" stroke-opacity="0.85" d="M556.3 660.9l8.8 -2.4l-6.4 -3l-8.8 2.4zM547.6 663.3l8.7 -2.4l-6.4 -3l-8.7 2.3zM538.8 665.7l8.8 -2.4l-6.4 -3.1l-8.8 2.4z"/>
<path fill="#01cd5a" stroke-width="1.86" stroke-opacity="0.85" d="M530 668.1l8.8 -2.4l-6.4 -3.1l-8.8 2.4zM521.2 670.5l8.8 -2.4l-6.4 -3.1l-8.8 2.3zM512.4 672.8l8.8 -2.3l-6.4 -3.2l-8.8 2.4z"/>
<path fill="#02cd59" stroke-width="1.86" stroke-opacity="0.85" d="M503.6 675.3l8.8 -2.5l-6.4 -3.1l-8.8 2.4zM494.8 677.7l8.8 -2.4l-6.4 -3.2l-8.8 2.4z"/>
<path fill="#02ce59" stroke-width="1.86" stroke-opacity="0.85" d="M486.1 680.1l8.7 -2.4l-6.4 -3.2l-8.7 2.4zM477.3 682.5l8.8 -2.4l-6.4 -3.2l-8.8 2.4zM468.5 685l8.8 -2.5l-6.4 -3.2l-8.8 2.5zM459.7 687.4l8.8 -2.4l-6.4 -3.2l-8.8 2.4z"/>
</g>
<path d="M920.5 909L1623.4 711.7L1162.6 490.7L459.7 688z" fill="#00cd5a" stroke="#000" stroke-width="1.65"/>
<path d="M929.3 906.5L468.5 685.5M938.1 904.1L477.3 683M946.9 901.6L486.1 680.6M955.6 899.1L494.8 678.1M964.4 896.7L503.6 675.6M973.2 894.2L512.4 673.2M982 891.7L521.2 670.7M990.8 889.3L530 668.2M999.6 886.8L538.8 665.8M1008.4 884.3L547.6 663.3M1017.1 881.9L556.3 660.8M1025.9 879.4L565.1 658.4M1034.7 876.9L573.9 655.9M1043.5 874.5L582.7 653.4M1052.3 872L591.5 651M1061.1 869.5L600.3 648.5M1069.9 867.1L609.1 646M1078.6 864.6L617.8 643.6M1087.4 862.1L626.6 641.1M1096.2 859.7L635.4 638.6M1105 857.2L644.2 636.2M1113.8 854.7L653 633.7M1122.6 852.3L661.8 631.2M1131.4 849.8L670.6 628.8M1140.1 847.3L679.3 626.3M1148.9 844.9L688.1 623.8M1157.7 842.4L696.9 621.4M1166.5 839.9L705.7 618.9M1175.3 837.5L714.5 616.4M1184.1 835L723.3 614M1192.9 832.5L732.1 611.5M1201.6 830.1L740.8 609M1210.4 827.6L749.6 606.6M1219.2 825.1L758.4 604.1M1228 822.7L767.2 601.6M1236.8 820.2L776 599.2M1245.6 817.7L784.8 596.7M1254.4 815.3L793.6 594.2M1263.1 812.8L802.3 591.8M1271.9 810.3L811.1 589.3M1280.7 807.9L819.9 586.8M1289.5 805.4L828.7 584.4M1298.3 803L837.5 581.9M1307.1 800.5L846.3 579.4M1315.9 798L855.1 577M1324.6 795.6L863.8 574.5M1333.4 793.1L872.6 572M1342.2 790.6L881.4 569.6M1351 788.2L890.2 567.1M1359.8 785.7L899 564.6M1368.6 783.2L907.8 562.2M1377.4 780.8L916.6 559.7M1386.1 778.3L925.3 557.2M1394.9 775.8L934.1 554.8M1403.7 773.4L942.9 552.3M1412.5 770.9L951.7 549.8M1421.3 768.4L960.5 547.4M1430.1 766L969.3 544.9M1438.9 763.5L978.1 542.5M1447.6 761L986.8 540M1456.4 758.6L995.6 537.5M1465.2 756.1L1004.4 535.1M1474 753.6L1013.2 532.6M1482.8 751.2L1022 530.1M1491.6 748.7L1030.8 527.7M1500.4 746.2L1039.6 525.2M1509.1 743.8L1048.3 522.7M1517.9 741.3L1057.1 520.3M1526.7 738.8L1065.9 517.8M1535.5 736.4L1074.7 515.3M1544.3 733.9L1083.5 512.9M1553.1 731.4L1092.3 510.4M1561.9 729L1101.1 507.9M1570.6 726.5L1109.8 505.5M1579.4 724L1118.6 503M1588.2 721.6L1127.4 500.5M1597 719.1L1136.2 498.1M1605.8 716.6L1145 495.6M1614.6 714.2L1153.8 493.1" fill="none" stroke="#000" stroke-opacity="0.85" stroke-width="1.35"/>
<path d="M914.1 905.9L1617 708.6M907.7 902.9L1610.6 705.6M901.3 899.8L1604.2 702.5M894.9 896.7L1597.8 699.4M888.5 893.7L1591.4 696.3M882.1 890.6L1585 693.3M875.7 887.5L1578.6 690.2M869.3 884.4L1572.2 687.1M862.9 881.4L1565.8 684.1M856.5 878.3L1559.4 681M850.1 875.2L1553 677.9M843.7 872.2L1546.6 674.9M837.3 869.1L1540.2 671.8M830.9 866L1533.8 668.7M824.5 863L1527.4 665.6M818.1 859.9L1521 662.6M811.7 856.8L1514.6 659.5M805.3 853.7L1508.2 656.4M798.9 850.7L1501.8 653.4M792.5 847.6L1495.4 650.3M786.1 844.5L1489 647.2M779.7 841.5L1482.6 644.2M773.3 838.4L1476.2 641.1M766.9 835.3L1469.8 638M760.5 832.2L1463.4 634.9M754.1 829.2L1457 631.9M747.7 826.1L1450.6 628.8M741.3 823L1444.2 625.7M734.9 820L1437.8 622.7M728.5 816.9L1431.4 619.6M722.1 813.8L1425 616.5M715.7 810.8L1418.6 613.5M709.3 807.7L1412.2 610.4M702.9 804.6L1405.8 607.3M696.5 801.5L1399.4 604.2M690.1 798.5L1393 601.2M683.7 795.4L1386.6 598.1M677.3 792.3L1380.2 595M670.9 789.3L1373.8 592M664.5 786.2L1367.4 588.9M658.1 783.1L1361 585.8M651.7 780.1L1354.6 582.8M645.3 777L1348.2 579.7M638.9 773.9L1341.8 576.6M632.5 770.8L1335.4 573.5M626.1 767.8L1329 570.5M619.7 764.7L1322.6 567.4M613.3 761.6L1316.2 564.3M606.9 758.6L1309.8 561.3M600.5 755.5L1303.4 558.2M594.1 752.4L1297 555.1M587.7 749.4L1290.6 552.1M581.3 746.3L1284.2 549M574.9 743.2L1277.8 545.9M568.5 740.2L1271.4 542.8M562.1 737.1L1265 539.8M555.7 734L1258.6 536.7M549.3 730.9L1252.2 533.6M542.9 727.9L1245.8 530.6M536.5 724.8L1239.4 527.5M530.1 721.7L1233 524.4M523.7 718.7L1226.6 521.4M517.3 715.6L1220.2 518.3M510.9 712.5L1213.8 515.2M504.5 709.5L1207.4 512.1M498.1 706.4L1201 509.1M491.7 703.3L1194.6 506M485.3 700.2L1188.2 502.9M478.9 697.2L1181.8 499.9M472.5 694.1L1175.4 496.8M466.1 691L1169 493.7M459.7 688L1162.6 490.7" fill="none" stroke="#000" stroke-opacity="1" stroke-width="1.9"/>
</g></g></g>
<g filter="url(#bt)">
<path d="M280.5 934L920.5 1241M920.5 1241L1752 1007.6M920.5 1241L899.5 1247.6M664.5 1118.2L643.5 1124.8M408.5 995.4L387.5 1002M920.5 1241L941 1250M1197.7 1163.2L1218.2 1172.2M1474.8 1085.4L1495.3 1094.4M1752 1007.6L1772.5 1016.6M280.5 934L264.5 927M280.5 768L264.5 761M280.5 602L264.5 595M280.5 436L264.5 429M280.5 270L264.5 263" fill="none" stroke="#383838" stroke-width="2.6"/>
<text transform="translate(253.5 943.2) scale(1.0 1.0)" font-size="63.5" text-anchor="end">-1</text>
<text transform="translate(253.5 777.2) scale(1.0 1.0)" font-size="63.5" text-anchor="end">-0.5</text>
<text transform="translate(253.5 611.2) scale(1.0 1.0)" font-size="63.5" text-anchor="end">0</text>
<text transform="translate(253.5 445.2) scale(1.0 1.0)" font-size="63.5" text-anchor="end">0.5</text>
<text transform="translate(253.5 279.2) scale(1.0 1.0)" font-size="63.5" text-anchor="end">1</text>
<text transform="translate(890.5 1305.6) scale(1.0 1.0)" font-size="63.5" text-anchor="end">0</text>
<text transform="translate(634.5 1182.8) scale(1.0 1.0)" font-size="63.5" text-anchor="end">100</text>
<text transform="translate(378.5 1060) scale(1.0 1.0)" font-size="63.5" text-anchor="end">200</text>
<text transform="translate(948.5 1310) scale(1.0 1.0)" font-size="63.5">0</text>
<text transform="translate(1225.7 1232.2) scale(1.0 1.0)" font-size="63.5">5</text>
<text transform="translate(1502.8 1154.4) scale(1.0 1.0)" font-size="63.5">10</text>
<text transform="translate(1780 1076.6) scale(1.0 1.0)" font-size="63.5">15</text>
<text transform="translate(283 212.8) scale(1.0 1.0)" font-size="63.5">x 10</text>
<text transform="translate(398 158.5) scale(1.0 1.0)" font-size="44">5</text>
<text transform="translate(93.6 1031) rotate(-90) scale(1.0 1.0)" font-size="63.2">Vertical wave current force(kN)</text>
<text transform="translate(201.5 1088.8) rotate(29.2) scale(1.0 1.0)" font-size="64.2">Depth of water(m)</text>
<text transform="translate(1246.5 1292.3) rotate(-14) scale(1.0 1.0)" font-size="64.6">Phase angle(rad)</text>
</g>
</g>
</svg></body></html>
